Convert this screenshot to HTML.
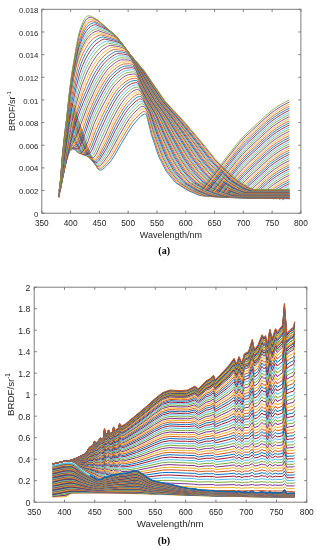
<!DOCTYPE html>
<html><head><meta charset="utf-8"><style>
html,body{margin:0;padding:0;background:#fff;}
body{width:320px;height:550px;overflow:hidden;}
svg{display:block;}
.t{font-family:"Liberation Sans",Arial,sans-serif;fill:#262626;}
.c{font-family:"Liberation Serif","Times New Roman",serif;font-weight:bold;fill:#000;}
</style></head><body>
<svg width="320" height="550" viewBox="0 0 320 550">
<rect width="320" height="550" fill="#fff"/>
<g fill="none" stroke-width="0.85" stroke-linejoin="round">
<path stroke="#0072BD" d="M59.1 197.1l3.4 -43l2.3 -22.4l1.2 -9l1.1 -7.5l1.2 -5.7l1.1 -3.9l1.2 -2l1.1 -.1l1.2 1.3l1.1 2.4l1.2 3.1l10.4 31.7l4.6 11.9l2.3 5l4.6 8.6l1.1 1.6l1.2 .9l1.1 .1l1.2 -.3l2.3 -1.5l2.3 -2.3l4.6 -5.1l3.4 -5.1l7 -12.1l6.9 -11.5l4.6 -7l4.6 -5.4l3.4 -3.4l2.3 -1.8l1.2 -.6l1.1 0l1.2 1.7l1.1 4l3.5 14.2l6.9 20.9l1.2 2.9l6.9 13.5l9.2 11.3l10.3 6.7l2.3 1.3l11.6 5l9.2 .9l16.1 1.1l64.5 1.1M282.3 199.8l7.1 -3.6"/>
<path stroke="#D95319" d="M59.1 197.1l3.4 -42.5l2.3 -22.1l2.3 -16.1l1.2 -5.5l1.1 -3.8l1.2 -1.9l1.1 .1l1.2 1.4l1.1 2.4l11.6 34.4l4.6 11.5l2.3 4.7l3.4 6l1.2 1.7l1.1 1.2l1.2 .3l1.1 -.2l1.2 -.6l1.1 -.9l2.3 -2.3l4.6 -5.5l3.5 -5.2l6.9 -12.4l8.1 -13.6l3.4 -5.2l3.5 -4.2l4.6 -4.7l2.3 -1.8l1.1 -.7l1.2 -.3l1.1 .5l1.2 1.3l1.1 3.7l4.6 17.7l7 20.3l1.1 2.8l6.9 13.3l9.2 11.3l1.2 1l10.3 6.6l12.7 5.5l1.2 .3l9.2 .9l14.9 .9l63.4 1.2M279.2 199.6l5.6 -3.2l4.6 -2.3"/>
<path stroke="#EDB120" d="M59.1 197.1l3.4 -42l2.3 -21.7l2.3 -15.7l1.2 -5.4l1.1 -3.6l1.2 -1.8l1.1 .1l1.2 1.6l1.1 2.5l10.4 30.6l3.5 8.9l2.3 5.4l2.3 4.3l3.4 5.4l1.2 1.3l1.1 .7l1.2 -.1l1.1 -.5l2.3 -2l6.9 -8.8l2.3 -3.7l7 -12.7l6.9 -11.9l3.4 -5.6l2.3 -3.1l4.6 -5.2l3.5 -3.2l2.3 -1.7l1.1 -.4l1.2 .1l1.1 .9l1.2 1.6l1.1 2.8l5.8 20.9l6.9 19.6l1.2 2.8l6.9 13.1l1.1 1.7l8.1 9.7l1.1 1l9.2 5.9l3.5 1.8l11.5 4.8l9.2 1l15 .9l62.2 1.2M276.3 199.4l7.3 -4.5l5.8 -2.9"/>
<path stroke="#7E2F8E" d="M59.1 197.1l3.4 -41.5l2.3 -21.4l2.3 -15.3l1.2 -5.2l1.1 -3.5l1.2 -1.6l1.1 .2l1.2 1.6l1.1 2.7l10.4 30.1l3.5 8.6l2.3 5.1l1.1 2.1l3.5 5.1l1.1 1.3l1.2 .9l1.1 .1l1.2 -.3l1.1 -.8l1.2 -1.1l2.3 -2.9l4.6 -6.4l3.4 -5.9l7 -13.1l6.9 -11.9l3.4 -5.4l3.5 -4.2l4.6 -4.8l3.4 -2.7l1.2 -.5l1.1 -.1l1.2 .5l1.1 1.3l2.3 4l7 23.5l6.9 19.1l1.1 2.8l6.9 12.8l1.2 1.7l8 9.7l1.2 1.1l1.1 .8l6.9 4.4l4.7 2.5l11.5 4.9l1.1 .2l9.2 .9l15 1l59.9 1.1M273.6 199.2l4.3 -2.9l4.6 -2.9l6.9 -3.5"/>
<path stroke="#77AC30" d="M59.1 197.1l3.4 -41.1l2.3 -20.9l2.3 -15l1.2 -5l1.1 -3.3l1.2 -1.5l1.1 .3l1.2 1.7l1.1 2.7l9.3 26.4l3.4 8.8l2.3 5.2l1.2 2.2l3.4 5l1.2 1.3l1.1 .9l1.2 .4l1.1 -.2l1.2 -.7l1.1 -1.1l2.3 -3l4.6 -6.7l3.5 -6.1l6.9 -13.4l6.9 -12.1l3.5 -5.4l3.4 -4.3l4.6 -4.8l3.5 -2.8l1.1 -.6l1.2 -.2l1.1 .3l1.2 .9l1.1 1.6l2.3 4.2l1.2 2.6l5.8 19.4l9.2 24.6l8 14.4l8.1 9.6l2.3 2l10.4 6.4l6.9 3l6.9 2.8l9.2 .9l15 1l58.7 1.1M271.1 198.9l3.3 -2.4l5.8 -3.8l4.6 -2.6l4.6 -2.3"/>
<path stroke="#4DBEEE" d="M59.1 197.1l3.4 -40.6l2.3 -20.5l1.2 -8.1l1.1 -6.5l1.2 -4.9l1.1 -3.2l1.2 -1.3l1.1 .4l1.2 1.8l1.1 2.8l2.3 6.9l7 19l3.4 8.4l2.3 5l1.2 1.9l3.4 4.2l1.2 1l1.1 .5l1.2 0l1.1 -.5l1.2 -1.1l1.1 -1.4l6.9 -10.7l2.3 -4.3l7 -13.8l6.9 -12.3l3.4 -5.5l3.5 -4.3l4.6 -4.8l3.4 -2.8l1.2 -.7l1.1 -.3l1.2 0l1.1 .8l1.2 1.3l2.3 3.9l2.3 4.4l1.1 3.2l5.8 18.5l9.2 23.8l8.1 14.3l8 9.5l2.3 2.1l10.4 6.5l13.8 5.8l9.2 1l15 .9l57.6 1.1M268.9 198.7l4.4 -3.5l5.7 -3.9l5.8 -3.3l4.6 -2.3"/>
<path stroke="#A2142F" d="M59.1 197.1l3.4 -40l2.3 -20.2l1.2 -7.9l1.1 -6.3l1.2 -4.8l1.1 -3l1.2 -1.2l1.1 .5l1.2 1.9l9.2 25.1l5.8 13.7l1.1 2.1l3.5 3.9l1.1 1l1.2 .7l1.1 .2l1.2 -.4l1.1 -.9l1.2 -1.4l6.9 -11.3l2.3 -4.4l6.9 -14.2l6.9 -12.5l3.5 -5.5l2.3 -3.1l2.3 -2.7l4.6 -4.5l3.4 -2.5l1.2 -.4l1.1 -.1l1.2 .5l1.1 1.1l1.2 1.7l2.3 4l3.4 6.7l7 21.2l9.2 23.1l8 14.2l8.1 9.4l2.3 2.3l8.1 5l3.4 2l6.9 2.9l6.9 2.6l9.2 .9l13.9 .9l56.4 1.1M266.7 198.5l5.4 -4.5l5.8 -4l5.7 -3.5l5.8 -2.9"/>
<path stroke="#0072BD" d="M59.1 197.1l3.4 -39.5l2.3 -19.8l1.2 -7.7l1.1 -6.2l1.2 -4.5l1.1 -2.9l1.2 -1.1l1.1 .6l1.2 2.1l3.4 9.6l5.8 14.9l3.5 8.3l2.3 4.8l1.1 1.7l3.5 3.1l1.1 .7l1.2 .3l1.1 -.1l1.2 -.8l2.3 -3l5.7 -10.2l2.3 -4.4l8.1 -16.9l5.8 -10.5l3.4 -5.6l3.5 -4.5l4.6 -4.8l2.3 -2l2.3 -1.6l2.3 -.6l1.1 .2l1.2 .9l1.1 1.5l6.9 12.4l1.2 2.9l6.9 20.2l9.2 22.6l8.1 13.9l8 9.5l2.3 2.3l8.1 5.1l3.5 1.9l13.8 5.6l9.2 1l15 1l44.9 .8l9.2 0M264.7 198.3l6.3 -5.5l4.6 -3.4l6.9 -4.3l6.9 -3.5"/>
<path stroke="#D95319" d="M59.1 197.1l3.4 -39l2.3 -19.4l1.2 -7.5l1.1 -6l1.2 -4.4l1.1 -2.7l1.2 -1l1.1 .8l1.2 2.1l3.4 9.5l4.7 11.6l5.7 13.3l1.2 1.9l2.3 2.1l2.3 1.4l1.1 .4l1.2 .1l1.1 -.6l1.2 -1.2l2.3 -3.7l6.9 -13.2l8 -17.4l5.8 -10.6l3.5 -5.7l3.4 -4.6l4.6 -4.9l2.3 -2l2.3 -1.5l2.3 -.7l1.2 0l1.1 .6l1.2 1.3l1.1 1.7l8.1 14.7l8.1 22.6l9.2 22l8 13.7l2.3 2.9l6.9 7.9l2.3 1.8l7 4.4l3.4 2l6.9 2.9l6.9 2.6l1.2 .3l8 .8l15 1.1l32.3 .6l20.7 0M262.7 198.1l7.1 -6.5l4.6 -3.5l8.1 -5.1l6.9 -3.5"/>
<path stroke="#EDB120" d="M59.1 197.1l3.4 -38.5l2.3 -19l1.2 -7.3l1.1 -5.8l1.2 -4.2l1.1 -2.6l1.2 -.9l1.1 .9l1.2 2.2l3.4 9.4l3.5 8.3l5.8 13.4l1.1 2.2l1.2 1.4l3.4 2l2.3 .5l1.2 -.3l1.1 -1.1l2.3 -3.7l6.9 -13.8l8.1 -17.9l5.8 -10.8l3.4 -5.8l3.5 -4.6l3.4 -3.8l2.3 -2.2l3.5 -2.5l1.1 -.5l2.3 -.3l1.2 .4l1.1 1l1.2 1.5l9.2 16.6l1.1 2.5l8.1 21.7l9.2 21.5l8.1 13.5l1.1 1.6l8.1 9.2l2.3 2l10.4 6.3l6.9 3l8 2.9l9.2 1l13.9 .9l20.7 .4l31.1 0M260.7 197.8l8 -7.3l4.6 -3.7l8 -5.2l4.6 -2.6l3.5 -1.6"/>
<path stroke="#7E2F8E" d="M59.1 197.1l3.4 -37.5l2.3 -18.4l1.2 -7l1.1 -5.5l1.2 -4l1.1 -2.4l1.2 -.7l1.1 1.1l1.2 2.3l2.3 6.2l4.6 10.8l4.6 10.4l1.2 2.2l1.1 1.5l2.3 .9l3.5 .6l1.1 -.2l1.2 -1.1l1.1 -1.7l1.2 -2.2l3.4 -7.6l3.5 -7l8 -17.9l5.8 -10.7l3.5 -5.8l3.4 -4.6l3.5 -3.7l2.3 -2.1l3.4 -2.5l2.3 -.9l1.2 -.1l1.1 .3l1.2 .7l1.1 1.3l2.3 3.8l9.2 16.7l8.1 21l10.4 23.6l9.2 15l8 9.2l2.4 2l8 5l3.5 1.9l8 3.3l5.8 2.1l1.1 .2l8.1 .9l13.8 .9l9.2 .2l41.5 0M258.6 197.6l8.9 -8.2l5.8 -4.7l8 -5.2l4.6 -2.6l3.5 -1.6"/>
<path stroke="#77AC30" d="M59.1 197.1l2.3 -25.5l1.1 -10.9l2.3 -17.7l1.2 -6.7l1.1 -5.2l1.2 -3.7l1.1 -2.1l1.2 -.5l1.1 1.1l1.2 2.4l2.3 5.9l9.2 20.1l1.2 1.4l1.1 .3l4.6 .2l1.2 -.3l1.1 -1.1l1.2 -1.8l1.1 -2.4l3.5 -8.2l11.5 -24.9l5.8 -10.7l3.4 -5.7l3.5 -4.5l3.4 -3.7l2.3 -2l2.3 -1.8l2.3 -1.2l2.3 -.7l1.2 0l2.3 1.8l1.1 1.6l12.7 22.8l8.1 20.4l10.3 23.1l9.2 14.8l8.1 9.1l2.3 2.1l8.1 5.1l3.4 1.8l6.9 2.9l8.1 2.9l8 .8l13.9 1l49.5 0M256.6 197.4l10.9 -10.1l5.8 -4.6l8 -5.3l4.6 -2.6l3.5 -1.6"/>
<path stroke="#4DBEEE" d="M59.1 197.1l2.3 -24.8l1.1 -10.4l2.3 -17l1.2 -6.4l1.1 -5l1.2 -3.4l1.1 -1.9l1.2 -.3l1.1 1.3l3.5 7.8l6.9 14.5l1.2 2.3l1.1 1.5l1.2 .2l2.3 -.2l2.3 -.5l1.1 -.5l1.2 -1.2l1.1 -2l4.6 -11.1l10.4 -22.6l5.7 -10.9l3.5 -5.9l3.5 -4.9l3.4 -3.8l3.5 -3.2l2.3 -1.7l2.3 -1.3l3.4 -.9l1.2 .2l1.1 1.1l2.3 3.4l6.9 12.7l5.8 9.8l9.2 22.3l10.4 22.5l9.2 14.7l8.1 9l2.3 2.2l8 5.1l3.5 1.9l6.9 2.9l8 2.9l9.3 1l9.2 .7l51.8 0M254.5 197.2l13 -12l4.6 -3.8l4.6 -3.2l4.6 -2.9l4.6 -2.6l3.5 -1.6"/>
<path stroke="#A2142F" d="M59.1 197.0l2.3 -23.8l2.3 -19l2.3 -13.5l1.1 -4.7l1.2 -3.2l1.1 -1.7l1.2 -.1l1.1 1.5l2.3 4.9l8.1 15.8l1.2 1.6l1.1 .3l1.2 -.1l2.3 -.9l2.3 -1.3l1.1 -1.6l1.2 -2.1l5.7 -14.2l9.2 -20l6.9 -12.8l3.5 -5.6l2.3 -3.1l2.3 -2.5l3.5 -3.4l2.3 -1.8l3.4 -2.1l3.5 -.9l1.1 -.1l1.2 .3l1.1 1.4l9.2 17l7 11.7l9.2 21.7l10.3 22l9.2 14.5l8.1 9.1l2.3 2.2l8.1 5.1l3.4 1.9l8.1 3.4l8 2.7l8.1 .9l6.9 .5l53 0M252.4 197.0l15.1 -13.8l4.6 -3.9l4.6 -3.2l4.6 -2.9l4.6 -2.6l3.5 -1.6"/>
<path stroke="#0072BD" d="M59.1 196.7l2.3 -22.7l2.3 -18.2l2.3 -12.9l1.1 -4.3l1.2 -3l1.1 -1.5l1.2 .1l1.1 1.5l9.3 17l1.1 1.6l1.2 .5l1.1 -.3l1.2 -.5l2.3 -1.7l1.1 -1.1l1.2 -1.7l1.1 -2.3l5.8 -14.8l8 -17.6l6.9 -13l4.7 -7.7l2.3 -3l2.3 -2.4l3.4 -3.3l2.3 -1.9l3.5 -2l3.4 -.9l2.3 -.2l1.2 .6l1.1 1.7l1.2 2.7l8 14.9l7 11.5l4.6 10l5.7 13.3l10.4 21.6l9.2 14.3l3.4 4l7 7.3l8 5.2l3.5 1.9l8 3.3l8.1 2.8l8.1 .9l4.6 .3l54.1 0M250.4 196.7l16 -14.6l5.7 -4.9l4.6 -3.2l4.6 -2.9l4.6 -2.6l3.5 -1.6"/>
<path stroke="#D95319" d="M59.1 196.5l2.3 -21.6l2.3 -17.4l1.1 -6.8l1.2 -5.4l1.1 -4.2l1.2 -2.7l1.1 -1.3l1.2 .2l1.1 1.5l8.1 13.4l1.2 1.6l1.1 .6l1.2 -.3l1.1 -.7l3.5 -3.7l1.1 -1.9l2.3 -5.5l4.6 -12.4l5.8 -12.8l3.4 -7l4.6 -8.6l3.5 -6.1l2.3 -3.6l2.3 -3l2.3 -2.4l3.5 -3.2l2.3 -1.8l3.4 -2l3.5 -.9l2.3 -.4l1.1 .2l1.2 .9l1.1 2l2.3 5.4l6.9 12.8l8.1 13.3l9.2 20.4l11.5 23.5l9.2 14.1l1.2 1.5l8.1 8.8l2.3 2l8 5l3.5 1.8l6.9 2.8l8 2.8l1.2 .2l8.1 .9l56.4 0M248.4 196.5l18 -16.5l5.7 -4.9l4.6 -3.2l4.6 -2.9l4.6 -2.5l3.5 -1.7"/>
<path stroke="#EDB120" d="M59.1 196.3l2.3 -20.4l2.3 -16.6l1.1 -6.5l1.2 -5.2l1.1 -3.8l1.2 -2.5l1.1 -1.1l1.2 .3l1.1 1.3l8.1 11.5l1.2 .7l1.1 -.3l1.2 -.9l3.4 -4.5l1.2 -2.1l2.3 -5.9l4.6 -12.9l6.9 -15.2l8 -15.2l4.6 -7.5l2.4 -2.9l3.4 -3.5l3.5 -3l2.3 -1.6l2.3 -1.2l1.1 -.4l3.5 -.7l2.3 -.2l1.1 .3l1.2 1.3l1.1 2.2l2.3 5.9l8.1 14.8l6.9 11.1l1.2 2.2l9.2 19.7l11.5 23l10.3 15.5l8.1 8.7l2.3 2.1l8.1 5l3.4 1.8l8.1 3.3l8 2.6l7 .8l56.4 0M246.5 196.3l19.9 -18.4l5.7 -4.9l4.6 -3.2l4.6 -2.9l4.6 -2.5l3.5 -1.7"/>
<path stroke="#7E2F8E" d="M59.1 196.1l2.3 -19.2l2.3 -15.8l1.1 -6.1l1.2 -4.9l1.1 -3.7l1.2 -2.3l1.1 -.9l1.2 .4l3.4 3.7l4.6 5.6l1.2 .8l1.2 -.3l1.1 -1.1l3.5 -5.4l1.1 -2.3l1.2 -2.9l5.7 -16.8l4.6 -10.4l5.8 -11.4l4.6 -8.4l3.4 -5.8l2.3 -3.2l2.4 -2.6l3.4 -3.3l3.5 -2.7l2.3 -1.4l2.3 -1l5.7 -.8l1.2 .1l1.1 .6l1.2 1.6l1.1 2.4l2.3 6l1.2 2.3l8 14.7l7 10.8l4.6 9.3l5.7 12.3l11.5 22.5l1.2 1.9l9.2 13.4l8.1 8.7l2.3 2.1l8 5.1l3.5 1.8l8 3.2l8.1 2.7l1.2 .2l4.6 .5l56.4 0M244.6 196.1l6.8 -6.6l15 -13.7l4.6 -3.9l3.4 -2.6l5.8 -3.8l4.6 -2.6l4.6 -2.3"/>
<path stroke="#77AC30" d="M59.1 195.8l2.3 -17.7l2.3 -15.1l1.1 -5.8l1.2 -4.6l1.1 -3.5l1.2 -2.1l1.1 -.7l1.2 .3l2.3 1.6l4.6 4.3l1.1 .7l1.2 -.1l1.2 -1.2l1.1 -1.9l3.5 -7l6.9 -20.5l3.4 -8.1l5.8 -11.6l5.7 -10.5l3.5 -5.7l3.4 -4.6l4.7 -4.3l3.4 -2.8l2.3 -1.3l2.3 -1l5.8 -.8l1.1 0l1.2 .4l1.1 .9l1.2 1.8l4.6 11.2l8 14.6l8.1 12.7l10.4 21l11.5 22l1.1 1.9l9.3 13.3l8 8.6l2.3 2.2l8.1 5.1l4.6 2.3l6.9 2.8l9.2 3l2.3 .2l57.6 0M242.8 195.8l7.4 -7.3l16.2 -14.8l4.6 -3.9l3.4 -2.6l5.8 -3.8l4.6 -2.6l4.6 -2.3"/>
<path stroke="#4DBEEE" d="M59.1 195.6l2.3 -16.5l2.3 -14.5l1.1 -5.7l1.2 -4.5l1.1 -3.2l1.2 -1.9l1.1 -.5l2.3 -.1l1.2 .2l4.6 2.5l1.1 .1l1.2 -1l1.2 -2l3.4 -7.5l2.3 -6.5l4.6 -14.1l3.5 -8.1l5.7 -11.7l5.8 -10.5l3.4 -5.7l2.3 -3.2l2.3 -2.5l4.7 -4.1l3.4 -2.5l3.5 -1.6l4.6 -.7l2.3 -.1l1.1 .2l1.2 .7l1.1 1.2l1.2 2l4.6 11.4l9.2 16.5l6.9 10.5l4.6 8.7l6.9 13.8l11.5 21.7l1.2 1.8l9.2 13.2l3.5 3.8l6.9 7l8 5.1l4.6 2.4l6.9 2.8l9.3 3l1.1 .1l57.6 0M241.1 195.6l4.5 -4.8l4.6 -4.4l16.2 -14.8l4.6 -3.9l3.4 -2.6l5.8 -3.8l4.6 -2.6l4.6 -2.3"/>
<path stroke="#A2142F" d="M59.1 195.4l3.4 -22.3l1.2 -6.3l2.3 -9.8l1.1 -3.3l1.2 -2.2l1.1 -1.3l1.2 -1l1.1 -.4l5.8 0l1.1 -.5l1.2 -1.7l4.6 -10.9l4.6 -13.7l2.3 -6.3l3.5 -7.9l4.6 -9.3l4.6 -8.4l3.4 -5.9l3.5 -5l2.3 -2.5l3.5 -3.2l3.4 -2.7l2.3 -1.4l2.3 -1l1.2 -.2l5.7 -.5l1.2 .2l1.1 .4l1.2 .9l1.1 1.5l1.2 2.1l4.6 11.3l1.1 2.4l8.1 14.4l8.1 12.2l4.6 8.5l5.7 11.3l13.8 25.3l9.3 12.9l2.3 2.7l8 8.2l9.2 5.8l3.5 1.8l8 3.1l8.1 2.6l57.6 .1M239.5 195.4l3.8 -4.3l4.6 -4.6l21.9 -20l4.6 -3.5l5.8 -3.8l4.6 -2.6l4.6 -2.3"/>
<path stroke="#0072BD" d="M59.1 195.2l4.6 -26.6l2.3 -9.6l1.1 -3.5l1.2 -2.5l1.1 -1.9l1.2 -1.5l2.3 -1.7l3.4 -1.4l1.2 -.6l1.1 -1.6l1.2 -2.4l3.5 -8.4l6.9 -19.6l4.6 -10.5l4.6 -9.2l5.7 -10.1l3.5 -5.4l2.3 -2.9l3.4 -3.4l4.7 -3.7l3.4 -1.9l2.3 -.7l5.8 -.3l2.3 .4l1.1 .7l1.2 1.2l1.1 1.7l1.2 2.2l5.7 13.7l8.1 14.3l8.1 12l1.1 2l4.6 8.3l5.8 11.1l13.8 24.7l10.4 14.2l9.2 9.5l2.3 1.6l6.9 4.3l2.3 1.2l9.2 3.7l8.1 2.6l56.4 0M237.9 195.2l4.3 -4.9l5.7 -5.9l21.9 -20l4.6 -3.5l5.8 -3.8l4.6 -2.6l4.6 -2.2"/>
<path stroke="#D95319" d="M59.1 195.0l4.6 -25l2.3 -9.5l1.1 -3.7l1.2 -2.9l2.3 -4.3l2.3 -2.8l3.4 -3.1l1.2 -1.6l1.1 -2.3l4.7 -11.6l4.6 -13l2.3 -5.9l4.6 -10.3l3.4 -6.9l5.8 -10.1l3.4 -5.3l2.3 -2.9l3.5 -3.4l4.6 -3.7l3.5 -2l2.3 -.7l5.7 -.2l2.3 .3l1.2 .6l1.1 1l2.3 3.4l1.2 2.1l5.7 13.6l1.2 2.1l8 14.1l8.1 11.8l4.6 8.1l6.9 12.9l13.8 24.2l10.4 14.1l9.2 9.4l2.3 1.8l9.2 5.4l9.2 3.8l8.1 2.5l55.3 0M236.3 195.0l4.7 -5.6l5.8 -6l23 -21.1l4.6 -3.5l5.8 -3.8l4.6 -2.6l4.6 -2.2"/>
<path stroke="#EDB120" d="M59.1 194.7l1.1 -4.9l2.3 -13l2.3 -10.7l2.3 -8.4l1.2 -3.3l1.1 -2.8l2.3 -4.6l4.6 -6.8l1.2 -2.4l4.6 -11.8l6.9 -18.6l3.5 -7.9l3.4 -7.3l3.5 -6.4l4.6 -7.7l3.4 -5l2.3 -2.6l4.6 -4.2l2.4 -1.7l2.3 -1.4l2.3 -1l1.1 -.2l4.6 -.2l2.3 .1l1.2 .2l1.1 .5l1.2 .9l1.1 1.3l1.2 1.7l3.4 6.5l5.8 13.1l8 14l9.3 13.6l24.1 42.4l2.3 3.5l9.3 12.3l8 8.3l2.3 2.1l8.1 5l3.4 1.8l9.3 3.7l5.7 1.7l1.2 .2l54.1 0M234.8 194.7l6.2 -7.4l4.6 -4.8l5.8 -5.5l17.3 -15.8l4.6 -3.7l5.7 -3.8l5.8 -3.4l4.6 -2.2"/>
<path stroke="#7E2F8E" d="M59.1 194.5l1.1 -4.4l2.3 -12.5l2.3 -10.6l2.3 -8.8l1.2 -3.6l3.4 -9.1l4.6 -9.5l11.6 -30.4l6.9 -15.4l3.4 -6.5l4.6 -7.6l3.5 -5l2.3 -2.7l4.6 -4.1l2.3 -1.8l2.3 -1.4l2.3 -1l1.2 -.2l3.4 0l3.5 .1l2.3 .6l1.1 .7l1.2 1.2l1.1 1.5l2.3 3.9l2.3 4.4l5.8 13l1.1 2l8.1 13.9l8.1 11.4l5.7 9.6l6.9 12.3l12.7 21.6l2.3 3.4l9.2 12.2l3.5 3.6l6.9 6.8l9.2 5.8l2.3 1.1l9.2 3.6l5.8 1.8l54.1 .1M233.3 194.5l6.6 -8l5.7 -6.1l5.8 -5.5l17.3 -15.8l4.6 -3.7l5.7 -3.8l5.8 -3.4l4.6 -2.2"/>
<path stroke="#77AC30" d="M59.1 194.3l1.1 -3.9l2.3 -12.2l3.5 -15.5l2.3 -8.3l2.3 -7.3l2.3 -6.7l2.3 -5.8l8.1 -22.1l3.4 -8.8l3.5 -8l3.4 -7.5l3.5 -6.7l4.6 -7.5l3.4 -5l3.5 -3.8l4.6 -3.9l3.5 -2.2l2.3 -1.1l1.1 -.2l5.8 .2l2.3 .2l1.1 .4l1.2 .7l1.1 1l1.2 1.4l2.3 3.7l3.4 6.2l5.8 12.8l1.1 2.1l8.1 13.8l9.2 13.1l4.6 7.5l6.9 11.9l13.8 23.2l2.4 3.4l9.2 12.1l2.3 2.5l8 7.9l9.2 5.8l2.3 1.2l9.3 3.6l5.7 1.8l53 0M231.9 194.3l6.8 -8.5l5.8 -6.3l5.7 -5.6l17.3 -15.9l4.6 -3.8l5.8 -4l5.7 -3.5l5.8 -2.8"/>
<path stroke="#4DBEEE" d="M59.1 194.1l1.1 -3.4l2.3 -12l3.5 -15.8l5.7 -21.9l6.9 -21.3l3.5 -9.3l4.6 -11.3l4.6 -10.5l3.5 -7.1l3.4 -6l4.6 -7l3.5 -4.2l4.6 -4.2l4.6 -3.1l2.3 -1.1l1.2 -.2l5.7 .3l2.3 .3l2.3 1l1.2 .9l1.1 1.3l2.3 3.5l4.6 8l6.9 14.7l8.1 13.7l1.2 1.9l8 11.1l4.6 7.3l21.9 36.3l2.3 3.4l9.2 11.8l2.3 2.6l8.1 7.9l2.3 1.6l6.9 4.2l2.3 1.2l9.2 3.7l5.8 1.7l51.8 0M230.4 194.1l8.3 -10.4l5.8 -6.3l5.7 -5.6l17.3 -15.9l4.6 -3.8l5.8 -4l5.7 -3.4l5.8 -2.9"/>
<path stroke="#A2142F" d="M59.1 193.8l1.1 -2.9l4.6 -23l8.1 -34.6l2.3 -8.2l2.3 -7.3l2.3 -6.6l3.5 -8.7l6.9 -15.8l3.4 -7.3l2.3 -4.2l4.6 -7.2l2.3 -3.1l2.3 -2.7l3.5 -3.2l3.4 -2.6l2.3 -1.5l2.4 -1.1l1.1 -.2l5.8 .5l3.4 .7l1.2 .5l1.1 .9l2.3 2.8l2.3 3.6l4.6 7.9l6.9 14.4l9.3 15.6l8 11l5.8 8.8l23 37.4l11.5 14.6l9.2 9.2l2.3 1.6l9.2 5.5l10.4 4l3.5 1.1l1.1 .1l50.7 0M229.0 193.8l8.6 -10.8l5.7 -6.5l5.8 -5.7l17.3 -15.9l5.7 -4.9l4.6 -3.2l6.9 -4.2l5.8 -2.9"/>
<path stroke="#0072BD" d="M59.1 193.6l1.1 -2.8l4.6 -23.5l3.5 -15.7l4.6 -22.5l2.3 -8.6l2.3 -7.5l4.6 -12.6l5.8 -13.4l4.6 -10l2.3 -4.3l4.6 -7.1l2.3 -3.1l2.3 -2.7l3.4 -3.1l3.5 -2.6l2.3 -1.4l2.3 -1.1l1.2 0l5.7 .5l3.5 .8l2.3 1.4l2.3 2.6l3.4 5.3l4.6 7.8l8.1 16.2l8.1 13.4l1.1 1.8l8.1 10.8l5.7 8.7l23.1 36.7l11.5 14.5l9.2 9.2l2.3 1.7l9.2 5.4l10.4 4.1l3.4 1.1l50.7 0M227.5 193.6l8.9 -11.3l6.9 -7.9l5.8 -5.7l17.3 -15.9l5.7 -4.9l4.6 -3.2l6.9 -4.2l5.8 -2.9"/>
<path stroke="#D95319" d="M59.1 193.4l1.1 -2.9l3.5 -18.8l9.2 -46.3l2.3 -8.8l2.3 -7.7l3.5 -10.3l2.3 -6.3l4.6 -11l3.4 -7.3l3.5 -6.2l3.4 -5.2l3.5 -4.4l3.4 -3.3l3.5 -2.7l2.3 -1.4l2.3 -1.1l1.1 -.2l7 .8l3.4 .8l2.3 1.3l2.3 2.5l3.5 5.1l6.9 11.5l6.9 13.9l9.2 15.3l9.2 12.2l5.8 8.5l23 36.2l11.5 14.3l9.2 9.2l2.3 1.7l9.2 5.5l3.5 1.5l6.9 2.6l3.5 1l49.5 0M226.1 193.4l10.3 -13.2l6.9 -7.9l5.8 -5.7l16.1 -14.9l5.8 -5l5.7 -4.1l6.9 -4.2l5.8 -2.9"/>
<path stroke="#EDB120" d="M59.1 193.2l1.1 -3.1l3.5 -19.8l3.4 -17.7l4.6 -25.8l1.2 -5.2l2.3 -9.1l2.3 -8.1l3.5 -11.1l2.3 -6.6l3.4 -8.4l3.5 -7.4l3.4 -6.1l3.5 -5.2l3.4 -4.3l2.3 -2.2l4.6 -3.5l2.3 -1.3l2.3 -.9l8.1 1l3.5 .9l2.3 1.4l2.3 2.3l3.4 5l8.1 13l6.9 13.5l9.2 15.3l1.2 1.7l8 10.5l5.8 8.3l24.2 37.2l11.5 14.2l2.3 2.5l8 7.6l9.2 5.7l2.4 1.2l10.3 4l2.3 .5l48.4 0M224.7 193.2l9.4 -12.2l5.8 -7l4.6 -5l6.9 -6.7l15 -13.7l5.7 -4.9l4.6 -3.2l4.6 -2.9l4.6 -2.5l3.5 -1.7"/>
<path stroke="#7E2F8E" d="M59.1 193.0l1.1 -3.3l3.5 -20.9l3.4 -18.9l4.6 -27.2l2.3 -10.1l2.3 -8.9l3.5 -12.3l2.3 -7.2l3.5 -8.9l3.4 -7.4l3.5 -6.1l3.4 -5.1l3.5 -4.3l3.4 -3l4.6 -3l2.3 -1l1.2 -.1l8.1 1.4l3.4 .9l2.3 1.3l2.3 2.3l1.2 1.4l3.4 5.2l8.1 12.7l8 15.3l9.3 15l9.2 11.9l5.7 8.2l24.2 36.6l11.5 14l2.3 2.5l8.1 7.6l2.3 1.6l8.1 4.8l4.6 2l8 2.9l48.4 .1M223.2 193.0l9.8 -12.7l5.7 -7.1l5.8 -6.3l5.7 -5.6l16.2 -14.8l5.7 -4.9l4.6 -3.2l4.6 -2.9l4.6 -2.5l3.5 -1.7"/>
<path stroke="#77AC30" d="M59.1 192.7l1.1 -3.4l3.5 -22.2l3.4 -20.4l2.3 -15.2l2.3 -13.1l2.3 -10.5l2.3 -9.4l2.3 -8.8l2.4 -7.9l2.3 -6.6l3.4 -8l3.5 -6.6l3.4 -5.3l3.5 -4.5l3.4 -3.3l4.6 -3l2.3 -1.1l1.2 -.2l9.2 1.7l3.5 1l2.3 1.3l1.1 1l2.3 2.6l3.5 5l10.3 16.1l6.9 13.1l9.3 15l1.1 1.7l8.1 10.2l6.9 9.5l24.2 36l1.1 1.6l11.5 13.6l9.2 8.8l2.3 1.6l8.1 4.9l4.6 2l8.1 2.8l47.2 0M221.7 192.7l11.3 -14.5l5.7 -7.1l4.6 -5.1l5.8 -5.7l17.3 -15.9l5.7 -4.8l4.6 -3.3l4.6 -2.9l4.6 -2.5l3.5 -1.7"/>
<path stroke="#4DBEEE" d="M59.1 192.5l1.1 -3.7l9.2 -61.8l2.3 -13.3l4.6 -20.9l2.3 -9.2l2.4 -7.9l2.3 -6.2l3.4 -7.7l2.3 -4.2l3.5 -5.3l3.4 -4.4l2.3 -2.2l4.6 -3.2l3.5 -1.4l9.2 1.8l4.6 1.4l2.3 1.3l1.2 .9l2.3 2.6l3.4 4.8l11.5 17.5l8.1 14.8l9.2 14.8l9.2 11.5l6.9 9.4l25.4 37l11.5 13.5l9.2 8.8l2.3 1.6l8.1 4.9l4.6 2l6.9 2.6l1.1 .2l46.1 0M220.2 192.5l13.9 -17.8l4.6 -5.6l4.6 -5.2l5.8 -5.7l17.3 -15.9l5.7 -4.8l4.6 -3.3l4.6 -2.9l4.6 -2.5l3.5 -1.7"/>
<path stroke="#A2142F" d="M59.1 192.3l1.1 -4l8.1 -58.2l3.4 -21.6l4.6 -21.9l3.5 -13.3l2.3 -6.6l3.5 -7.9l2.3 -4.3l3.4 -5.2l3.5 -4.3l2.3 -2.1l4.6 -2.9l2.3 -.9l1.1 0l9.2 2.1l4.7 1.4l2.3 1.4l1.1 .9l2.3 2.6l4.6 6.3l11.5 17.2l8.1 14.4l10.4 16.4l8 9.9l6.9 9.2l13.8 19.6l12.7 18.4l12.7 14.5l8 7.6l3.5 2.4l8.1 4.7l10.3 4l1.2 .2l44.9 0M218.7 192.3l18.9 -24l4.6 -5.3l5.7 -5.8l18.5 -17l5.7 -4.8l4.6 -3.3l4.6 -2.9l4.6 -2.5l3.5 -1.7"/>
<path stroke="#0072BD" d="M59.1 192.1l1.1 -4.4l6.9 -54l3.5 -24l1.1 -7.1l2.3 -11.8l2.3 -10.7l2.3 -9.2l2.4 -7l2.3 -5.6l2.3 -4.8l3.4 -5.7l3.5 -4.4l2.3 -2.4l2.3 -1.6l2.3 -1.4l2.3 -.9l1.1 -.2l10.4 2.7l4.6 1.5l2.3 1.3l1.2 .9l2.3 2.5l4.6 6.3l12.6 18.4l8.1 14.2l10.4 16.4l9.2 11.3l6.9 9l12.6 17.6l13.9 19.8l12.6 14.5l8.1 7.5l3.4 2.4l8.1 4.8l3.5 1.5l6.9 2.5l44.9 .1M217.2 192.1l20.4 -25.9l4.6 -5.3l5.7 -5.8l18.5 -17l5.7 -4.8l4.6 -3.3l4.6 -2.9l4.6 -2.5l3.5 -1.7"/>
<path stroke="#D95319" d="M59.1 191.9l1.1 -4.8l6.9 -58.3l3.5 -25.6l3.4 -19.1l3.5 -15.4l2.3 -7.6l2.3 -5.8l2.3 -4.8l3.5 -5.8l3.4 -4.3l2.3 -2.2l3.5 -2.1l2.3 -1l1.1 -.3l1.2 .2l8 2.2l7 2.4l1.1 .5l2.3 1.7l2.3 2.4l5.8 7.8l13.8 19.8l8 14l10.4 16.1l9.2 11.1l6.9 8.9l12.7 17.3l13.8 19.5l12.7 14.4l9.2 8.4l10.4 6.4l2.3 1l8 3l43.8 0M215.7 191.9l21.9 -27.8l4.6 -5.2l5.7 -5.9l18.5 -17l5.7 -4.8l4.6 -3.2l4.6 -3l4.6 -2.5l3.5 -1.6"/>
<path stroke="#EDB120" d="M59.1 191.6l1.1 -5l5.8 -52.9l4.6 -36.4l3.4 -19.4l2.3 -10.5l2.3 -8.3l2.4 -6.1l2.3 -5.1l3.4 -5.9l3.5 -4.3l2.3 -2.1l3.4 -1.9l2.3 -.9l1.2 -.1l10.3 3.2l5.8 2.2l2.3 1.3l1.2 .9l2.3 2.4l5.7 7.7l15 21l8 13.7l10.4 16.1l9.2 11l6.9 8.6l13.9 18.6l13.8 19.3l12.6 14.2l9.2 8.4l2.4 1.6l8 4.8l4.6 2l5.8 1.9l42.6 0M214.2 191.6l23.4 -29.5l4.6 -5.3l5.7 -5.9l18.5 -16.9l5.7 -4.9l4.6 -3.2l4.6 -2.9l4.6 -2.6l3.5 -1.6"/>
<path stroke="#7E2F8E" d="M59.1 191.4l1.1 -4.9l5.8 -54l4.6 -36.9l3.4 -19.8l2.3 -10.9l2.3 -8.6l1.2 -3.3l2.3 -5.6l3.5 -6.6l2.3 -3.2l3.4 -3.7l1.2 -.9l2.3 -1.2l2.3 -.9l1.1 -.2l9.2 3l5.8 2.3l3.5 1.8l1.1 1l2.3 2.4l2.3 2.9l19.6 26.9l9.2 15.2l9.2 14.3l17.3 20.8l13.8 18.3l13.8 19l12.7 14.1l9.2 8.4l3.5 2.3l8 4.7l8.1 3.1l1.1 .2l41.5 0M212.7 191.4l9.9 -12.3l13.8 -17.7l5.8 -6.7l4.6 -4.8l19.6 -18l5.7 -4.9l4.6 -3.2l4.6 -2.9l4.6 -2.6l3.5 -1.6"/>
<path stroke="#77AC30" d="M59.1 191.2l1.1 -4.8l5.8 -55l4.6 -37.5l3.4 -20.3l2.3 -11.2l2.3 -8.9l1.2 -3.4l2.3 -5.6l3.5 -6.6l2.3 -3.2l2.3 -2.5l1.1 -1l3.5 -1.9l2.3 -.6l1.1 .2l5.8 2l6.9 2.9l3.4 1.9l2.4 1.6l2.3 2.4l3.4 4.4l20.7 28.1l8.1 13.3l10.4 15.8l9.2 10.7l8 9.8l13.9 18l13.8 18.7l13.8 15.2l8.1 7.3l2.3 1.6l9.2 5.4l8 3.1l41.5 .1M211.2 191.2l11.4 -14.2l13.8 -17.7l5.8 -6.7l4.6 -4.8l19.6 -18l5.7 -4.9l4.6 -3.2l4.6 -2.9l4.6 -2.6l3.5 -1.6"/>
<path stroke="#4DBEEE" d="M59.1 191.0l1.1 -4.7l6.9 -66.4l3.5 -27.6l2.3 -14.3l3.4 -18l2.3 -9.2l1.2 -3.5l2.3 -5.7l2.3 -4.7l2.3 -3.6l3.5 -3.8l2.3 -1.5l2.3 -1l1.1 -.3l1.2 .1l4.6 1.7l3.4 1.5l4.6 2.2l3.5 2.1l2.3 1.7l2.3 2.2l25.3 33.6l8.1 13l10.4 15.8l18.4 21.7l13.8 17.7l13.8 18.5l13.8 15l8.1 7.2l2.3 1.7l9.2 5.5l2.3 1l5.8 2.1l40.3 0M209.6 191.0l13 -16.1l13.8 -17.7l5.8 -6.7l4.6 -4.7l19.6 -18.1l5.7 -4.9l4.6 -3.2l4.6 -2.9l4.6 -2.6l3.5 -1.6"/>
<path stroke="#A2142F" d="M59.1 190.7l1.1 -4.5l6.9 -67.7l2.3 -19l2.3 -16.7l2.3 -13.3l2.3 -11.9l2.3 -9.6l1.2 -3.6l2.3 -5.8l2.3 -4.6l2.3 -3.6l2.3 -2.6l1.2 -1l1.1 -.7l2.3 -1l1.2 -.3l1.1 -.1l6.9 2.9l4.6 2.4l4.6 3l3.5 2.7l1.2 1.1l26.4 34.5l9.2 14.6l10.4 15.5l17.3 19.9l15 18.9l13.8 18.2l13.8 14.9l8.1 7.2l2.3 1.7l9.2 5.6l2.3 1l5.7 1.9l39.2 0M208.1 190.7l14.5 -17.9l13.8 -17.7l5.8 -6.7l4.6 -4.7l19.6 -18.1l5.7 -4.9l4.6 -3.2l4.6 -2.9l4.6 -2.6l3.5 -1.6"/>
<path stroke="#0072BD" d="M59.1 190.5l1.1 -4.4l6.9 -68.8l2.3 -19.5l2.3 -16.8l4.6 -25.8l2.3 -9.9l1.2 -3.7l2.3 -5.9l2.3 -4.7l2.3 -3.5l2.3 -2.4l1.2 -.9l1.1 -.6l2.3 -.8l1.2 -.1l5.7 2.5l5.8 3.3l5.7 4.1l3.5 3l1.2 1.3l9.2 12.1l17.2 21.9l19.6 29.9l18.4 20.9l15 18.6l13.8 18l13.8 14.8l8.1 7.2l2.3 1.8l9.2 5.5l3.5 1.5l3.4 1.2l1.2 .2l38 0M206.6 190.5l16 -19.8l13.8 -17.7l4.6 -5.4l4.6 -4.9l19.6 -18.2l5.8 -5l3.4 -2.5l5.8 -3.8l4.6 -2.7l4.6 -2.2"/>
<path stroke="#D95319" d="M59.1 190.3l1.1 -4.3l6.9 -69.9l2.3 -20.1l2.3 -16.8l4.6 -26.3l2.3 -10.3l1.2 -3.9l2.3 -5.9l2.3 -4.7l2.3 -3.4l2.3 -2.3l1.2 -.7l1.1 -.4l2.3 -.5l5.8 2.6l3.4 2l6.9 5.2l5.8 5l9.2 12l19.6 24.5l9.2 14.1l10.4 15.3l18.4 20.7l13.8 16.9l15 19.2l13.8 14.6l8.1 7.2l2.3 1.8l9.2 5.5l2.3 1.1l4.6 1.7l38 .1M205.1 190.3l17.5 -21.7l13.8 -17.7l4.6 -5.4l4.6 -4.9l19.6 -18.2l5.8 -5l3.4 -2.5l5.8 -3.8l4.6 -2.7l4.6 -2.2"/>
<path stroke="#EDB120" d="M59.1 190.1l1.1 -4.2l6.9 -70.9l2.3 -20.7l2.3 -16.9l4.6 -26.8l2.3 -10.6l1.2 -4.1l1.2 -3.2l2.3 -5.4l2.3 -4l2.3 -2.6l1.1 -.8l1.2 -.5l2.3 -.3l1.1 .3l4.6 2.3l3.5 2.2l6.9 5.6l6.9 6.2l9.2 12l19.6 24l19.6 29.2l18.4 20.4l15 17.9l14.9 19l13.8 14.5l9.3 8.2l2.3 1.6l9.2 5.4l5.7 2.2l36.9 0M203.6 190.1l19 -23.6l13.8 -17.7l4.6 -5.4l4.6 -4.9l19.6 -18.2l5.8 -5l3.4 -2.5l5.8 -3.8l4.6 -2.7l4.6 -2.2"/>
<path stroke="#7E2F8E" d="M59.1 189.9l1.1 -4.1l4.6 -46.4l2.3 -25.4l2.3 -21.3l2.3 -17.1l4.6 -27.2l2.3 -11.1l1.2 -4.2l1.2 -3.3l2.3 -5.4l2.3 -4.1l1.1 -1.3l1.2 -.9l1.1 -.5l1.2 -.2l1.1 0l1.2 .3l4.6 2.5l2.3 1.5l9.2 7.9l6.9 6.3l9.2 11.8l19.6 23.6l20.7 30.3l18.4 20.1l15 17.7l16.1 20l13.9 14.3l8 7l2.3 1.6l9.2 5.5l2.3 1l3.5 1.1l35.7 0M202.1 189.9l19.3 -24l15 -19.2l4.6 -5.4l4.6 -4.9l19.6 -18.1l5.8 -5.1l3.4 -2.5l5.8 -3.8l4.6 -2.6l4.6 -2.3"/>
<path stroke="#77AC30" d="M59.1 189.6l1.1 -3.9l4.6 -46.8l2.3 -25.8l2.3 -22l2.3 -17.3l3.5 -21l2.3 -12.7l1.1 -5.3l1.2 -4.5l1.2 -3.3l2.3 -5.6l1.1 -2.3l1.2 -1.6l1.1 -1l1.2 -.6l1.1 -.1l2.3 .5l6.9 4.1l15 13.5l2.3 2.3l9.2 11.6l19.6 23.1l20.7 30.1l19.6 21.1l15 17.5l14.9 18.5l16.2 16.4l6.9 6l2.3 1.7l9.2 5.4l4.6 1.9l1.1 .1l34.6 0M200.6 189.6l20.8 -25.8l15 -19.2l4.6 -5.4l4.6 -4.9l19.6 -18.1l5.8 -5l3.4 -2.6l5.8 -3.8l4.6 -2.6l4.6 -2.3"/>
</g>
<g fill="none" stroke-width="1.0" stroke-linejoin="round">
<path stroke="#0072BD" d="M52.4 464.0l11.5 -2.7l5.4 -.3l2.5 .5l1.8 .7l1.2 .8l2.4 1.9l3 2.8l4.3 2.9l12.7 7.6l4.2 2.2l8.5 3.2l3.7 1.1l8.4 3.1l4.9 1.1l6.6 1.2l8.5 .5l20.6 .5l35.8 1.7l15.1 .3l1.8 .2l18.8 .1l7.9 .4l10.3 -.2l2.4 .2l7.3 -.1l5.4 .3l2.4 -.2l2.5 .2l10.3 0l1.8 -.4l2.4 .6l7.9 -.1"/>
<path stroke="#D95319" d="M52.4 464.0l11.5 -2.7l5.4 -.3l2.5 .4l1.8 .7l1.2 .8l2.4 1.8l3 2.7l4.9 3.1l9.1 4.9l3 1.8l4.8 2.3l1.3 .4l1.2 0l1.8 1l2.4 .7l1.2 .6l2.4 .8l1.3 .1l1.2 .6l3.6 1.3l1.2 .1l2.4 1l3.1 .7l7.2 1.1l3.7 .3l5.4 .2l21.2 0l7.3 .2l24.8 1.2l3.7 .3l15.1 .1l1.8 .3l18.8 0l2.4 .3l2.5 -.2l3 .4l2.4 -.3l4.2 .1l3.7 -.3l2.4 .4l7.3 -.3l3.6 .2l1.8 .4l2.4 -.5l2.5 .4l3 -.2l1.8 .1l5.5 0l1.8 -.7l2.4 1.1l6.7 0l1.2 -.1"/>
<path stroke="#EDB120" d="M52.4 464.0l11.5 -2.7l5.4 -.3l2.5 .4l1.8 .6l1.2 .7l2.4 1.8l3 2.6l4.9 3l4.2 1.9l3.7 2l1.2 .4l3 1.8l4.8 2.1l1.3 .5l1.2 -.3l1.2 .9l3 .7l1.2 .7l2.4 .7l1.3 0l1.2 .8l3.6 1l1.2 .1l2.4 1l3.1 .6l6 .8l4.3 .4l4.2 0l23 -.5l7.3 .1l24.8 1.2l3.7 .4l15.1 0l1.8 .4l18.8 -.3l2.4 .5l2.5 -.3l3 .6l2.4 -.4l4.2 0l3.7 -.5l2.4 .7l3.6 -.1l3.7 -.4l1.8 .2l1.8 0l1.8 .6l2.4 -.8l2.5 .7l3 -.4l1.8 .2l5.5 -.1l1.8 -1l2.4 1.7l6.7 -.1l1.2 -.2"/>
<path stroke="#7E2F8E" d="M52.4 464.0l11.5 -2.7l5.4 -.3l2.5 .4l1.8 .6l1.2 .6l2.4 1.7l3 2.4l5.5 3.2l3.6 1.4l3.7 1.9l1.2 .2l1.8 1.3l2.4 1.1l1.8 .5l1.8 .9l1.3 .4l.6 -.1l.6 -.5l1.2 1.1l1.2 .3l1.8 .3l1.2 .7l2.4 .7l1.3 -.2l1.2 .9l3.6 1l1.2 -.1l2.4 1l3.1 .6l4.8 .5l4.3 .3l4.2 0l24.2 -1.1l7.3 .1l24.8 1.1l3.7 .6l15.1 -.2l1.8 .6l18.8 -.6l2.4 .7l2.5 -.5l3 .8l2.4 -.6l4.2 .1l3.7 -.8l2.4 .9l3.6 -.1l3.7 -.5l1.8 .3l1.8 -.1l1.8 .8l2.4 -1l2.5 .8l3 -.5l1.8 .4l5.5 -.2l1.8 -1.4l2.4 2.2l6.7 0l1.2 -.3"/>
<path stroke="#77AC30" d="M52.4 464.0l11.5 -2.7l5.4 -.3l2.5 .3l1.8 .6l1.2 .6l2.4 1.6l3 2.3l4.9 2.7l4.2 1.5l3.7 1.7l1.2 .2l1.8 1.3l2.4 .9l1.8 .5l3.1 1.2l.6 -.2l.6 -.6l1.2 1.2l1.2 .3l1.8 .1l1.2 .9l2.4 .6l1.3 -.3l1.2 .9l3 .7l.6 .2l1.2 -.2l1.8 .9l3.7 .7l3 .2l4.8 .3l4.3 0l25.4 -1.7l7.3 0l24.8 1.1l3.7 .6l7.8 -.3l7.3 0l1.8 .7l18.8 -.8l2.4 .8l2.5 -.5l3 .9l2.4 -.7l4.2 .1l3.7 -1l1.8 1l.6 .1l3.6 -.2l3.7 -.6l1.8 .4l1.8 -.1l1.8 1l2.4 -1.3l2.5 1l3 -.6l1.8 .4l5.5 -.2l1.8 -1.7l2.4 2.7l6.7 -.1l1.2 -.3"/>
<path stroke="#4DBEEE" d="M52.4 463.9l11.5 -2.6l5.4 -.3l2.5 .3l1.8 .5l1.2 .6l2.4 1.5l3 2.2l4.9 2.6l4.2 1.2l3.7 1.6l1.2 .1l1.8 1.3l1.8 .6l2.4 .6l1.2 .6l1.9 .6l.6 -.3l.6 -.8l1.2 1.3l1.2 .3l1.8 0l1.2 .9l2.4 .6l1.3 -.5l1.2 1.1l3.6 .7l1.2 -.3l1.8 1l4.3 .6l6 .3l4.9 -.1l8.5 -.6l17.5 -1.7l7.3 -.1l24.8 1l3.7 .8l7.8 -.4l3.7 .1l3.6 -.2l1.8 .9l18.8 -1l2.4 .9l2.5 -.7l3 1.1l2.4 -.9l4.2 .2l3.7 -1.2l1.8 1.2l.6 .2l3.6 -.3l3.7 -.8l1.8 .5l1.8 -.1l1.8 1.2l2.4 -1.6l2.5 1.3l3 -.8l1.8 .5l5.5 -.3l1.8 -2l2.4 3.2l6.7 -.1l1.2 -.4"/>
<path stroke="#A2142F" d="M52.4 463.9l10.9 -2.5l6 -.4l1.9 .1l3 .9l3 1.7l3 2.1l5.5 2.7l3.6 .7l3.7 1.5l1.2 0l1.8 1.3l1.2 .4l1.2 .3l1.8 .2l1.2 .7l1.9 .5l.6 -.3l.6 -1l1.2 1.4l1.2 .3l1.8 -.1l1.2 1l2.4 .6l1.3 -.7l1.2 1.1l3.6 .7l1.2 -.5l1.8 1.1l3.7 .5l6 .1l4.9 -.1l9.1 -.9l17.5 -2.1l7.3 -.2l17.6 .9l7.2 .2l3.7 .8l7.8 -.5l3.7 .1l3.6 -.2l1.8 1l13.4 -.8l5.4 -.5l2.4 1.1l2.5 -.8l3 1.3l2.4 -1l4.2 .1l3.7 -1.4l1.8 1.4l.6 .2l3.6 -.3l3.7 -1l1.8 .6l1.8 -.1l1.8 1.4l2.4 -1.8l2.5 1.4l3 -.9l.6 0l1.2 .5l5.5 -.3l1.8 -2.3l2.4 3.7l6.7 -.1l1.2 -.5"/>
<path stroke="#0072BD" d="M52.4 463.9l10.9 -2.5l6 -.4l1.9 .1l3 .8l3 1.6l3 2l5.5 2.5l3.6 .6l3.7 1.3l1.2 -.2l.6 .3l1.2 1.1l.6 .2l1.8 .4l1.8 .2l1.2 .6l1.9 .5l.6 -.5l.6 -1l1.2 1.5l1.2 .3l1.8 -.3l1.2 1.1l2.4 .5l1.3 -.8l1.2 1.2l3.6 .6l1.2 -.7l1.8 1.2l3.7 .4l6 0l4.9 -.3l9.1 -1.1l17.5 -2.5l7.3 -.2l17.6 .8l7.2 .2l3.7 1l7.8 -.7l3.7 .1l3.6 -.2l1.8 1.1l13.4 -.9l5.4 -.6l2.4 1.3l2.5 -1l3 1.5l2.4 -1.2l4.2 .1l3.7 -1.5l1.8 1.5l.6 .3l3.6 -.4l3.7 -1.1l1.8 .6l1.8 -.1l1.8 1.6l2.4 -2.1l2.5 1.6l3 -1l.6 .1l1.2 .5l5.5 -.3l1.8 -2.7l2.4 4.3l6.7 -.2l1.2 -.6"/>
<path stroke="#D95319" d="M52.4 463.9l10.9 -2.5l6 -.4l1.9 .1l3 .7l3 1.5l3 1.9l5.5 2.4l3.6 .3l3.7 1.2l1.2 -.3l.6 .3l1.2 1.1l2.4 .6l1.8 0l1.2 .6l1.9 .5l.6 -.6l.6 -1.2l1.2 1.6l1.2 .3l1.2 -.4l.6 0l1.2 1.2l2.4 .5l1.3 -1l1.2 1.3l3.6 .5l1.2 -.8l1.8 1.2l3.7 .3l6 -.1l4.9 -.4l9.1 -1.3l17.5 -2.9l7.3 -.3l15.7 .6l1.9 .2l7.2 .2l3.7 1l7.8 -.7l3.7 .1l3.6 -.3l1.8 1.2l13.4 -1l5.4 -.7l2.4 1.4l2.5 -1l3 1.6l2.4 -1.4l4.2 .2l3.7 -1.8l1.8 1.8l.6 .2l3.6 -.4l3.7 -1.2l1.8 .7l1.8 -.1l1.8 1.7l2.4 -2.3l2.5 1.8l3 -1.2l.6 .1l1.2 .6l5.5 -.4l1.8 -3l2.4 4.8l6.7 -.2l1.2 -.6"/>
<path stroke="#EDB120" d="M52.4 463.9l.6 0l10.3 -2.5l6 -.4l1.9 0l3 .7l3 1.4l3 1.8l5.5 2.2l3.6 .1l3.7 1.2l1.2 -.4l.6 .2l1.2 1.1l2.4 .5l1.8 -.1l1.2 .7l1.9 .4l.6 -.7l.6 -1.4l1.2 1.8l1.2 .2l1.2 -.4l.6 0l.6 .8l.6 .4l2.4 .4l1.3 -1.1l1.2 1.4l3.6 .4l1.2 -.9l1.8 1.2l3.7 .3l6 -.3l4.9 -.5l9.1 -1.5l17.5 -3.3l7.3 -.4l10.3 .5l5.4 .1l1.9 .2l7.2 .2l3.7 1.1l7.8 -.8l3.7 .1l3.6 -.3l1.8 1.3l13.4 -1.2l5.4 -.8l2.4 1.6l2.5 -1.2l3 1.8l2.4 -1.5l4.2 .1l3.7 -1.9l1.8 1.9l.6 .3l3.6 -.5l3.7 -1.3l1.8 .7l1.8 -.1l1.8 1.9l2.4 -2.5l2.5 2l3 -1.3l.6 0l1.2 .7l5.5 -.4l1.8 -3.4l2.4 5.3l3 -.2l3.7 0l1.2 -.7"/>
<path stroke="#7E2F8E" d="M52.4 463.9l.6 0l10.3 -2.5l6.6 -.5l1.3 .1l3 .6l3 1.4l3 1.6l5.5 2l3.6 0l3.7 1l1.2 -.5l.6 .2l1.2 1.2l2.4 .3l1.8 -.2l1.2 .7l1.9 .4l.6 -.7l.6 -1.6l1.2 1.9l1.2 .2l1.2 -.5l.6 0l.6 .8l.6 .5l2.4 .3l1.3 -1.2l1.2 1.4l3.6 .3l1.2 -1l1.8 1.3l3.7 .2l6.6 -.6l4.9 -.6l26 -5.3l7.3 -.5l10.3 .6l5.4 0l1.9 .3l7.2 .1l3.7 1.2l7.8 -.9l3.7 .1l3.6 -.4l1.8 1.5l13.4 -1.4l5.4 -.8l2.4 1.7l2.5 -1.3l3 1.9l2.4 -1.6l4.2 .1l3.7 -2.1l1.8 2.1l.6 .3l3.6 -.6l3.7 -1.4l1.8 .8l1.8 -.1l1.8 2.1l2.4 -2.8l2.5 2.1l3 -1.4l.6 .1l1.2 .7l5.5 -.4l1.8 -3.8l2.4 5.9l3 -.3l3.7 0l1.2 -.8"/>
<path stroke="#77AC30" d="M52.4 463.8l.6 .1l10.3 -2.5l7.9 -.4l3 .5l3 1.3l3 1.5l5.5 1.9l3.6 -.3l3.7 .9l1.2 -.6l.6 .2l.6 .8l.6 .4l2.4 .3l1.8 -.3l1.2 .7l1.9 .3l.6 -.8l.6 -1.7l1.2 2l1.2 .2l.6 -.2l.6 -.4l.6 -.1l.6 .9l.6 .5l2.4 .3l1.3 -1.4l1.2 1.6l3.6 .1l1.2 -1.1l1.8 1.3l3.7 .2l6.6 -.7l4.9 -.8l26 -5.9l7.3 -.5l10.3 .5l5.4 .1l1.9 .3l7.2 0l3.7 1.4l7.8 -1.1l3.7 .1l3.6 -.4l1.8 1.6l13.4 -1.5l5.4 -1l2.4 1.9l2.5 -1.5l3 2.1l2.4 -1.7l4.2 .1l3.7 -2.3l1.8 2.3l.6 .3l3.6 -.6l3.7 -1.6l1.8 .9l1.8 -.2l1.8 2.3l2.4 -3l2.5 2.3l3 -1.5l.6 0l1.2 .9l5.5 -.6l1.8 -4l2.4 6.3l3 -.2l3.7 0l1.2 -.9"/>
<path stroke="#4DBEEE" d="M52.4 463.8l.6 .1l10.3 -2.5l7.9 -.5l3 .5l3 1.2l3 1.5l5.5 1.6l3.6 -.4l3.7 .8l1.2 -.8l.6 .2l.6 .8l.6 .5l2.4 .2l1.8 -.4l1.2 .6l1.9 .4l.6 -.9l.6 -1.9l1.2 2.1l1.2 .2l.6 -.2l.6 -.5l.6 -.1l.6 1l.6 .5l2.4 .2l1.3 -1.5l1.2 1.6l3.6 .1l1.2 -1.3l.6 .3l.6 .8l.6 .3l3.7 .1l6.6 -.9l4.9 -.9l26 -6.4l7.3 -.6l10.3 .5l5.4 .1l1.9 .3l7.2 0l3.7 1.4l7.8 -1.1l3.7 .1l3.6 -.5l1.8 1.7l13.4 -1.7l5.4 -1l2.4 2l2.5 -1.6l3 2.3l2.4 -1.9l4.2 .1l3.7 -2.5l1.8 2.5l.6 .3l3.6 -.7l3.7 -1.7l1.8 .9l1.8 -.1l1.8 2.4l2.4 -3.2l2.5 2.5l3 -1.7l.6 .1l1.2 .9l5.5 -.6l1.8 -4.4l2.4 6.9l3 -.3l3.7 -.1l1.2 -.9"/>
<path stroke="#A2142F" d="M52.4 463.8l.6 .1l10.3 -2.5l7.9 -.5l3 .5l3 1l3 1.4l5.5 1.5l3.6 -.7l3.7 .8l1.2 -.9l.6 .2l.6 .8l.6 .4l2.4 .1l1.8 -.5l1.2 .7l1.9 .3l.6 -1l.6 -2l1.2 2.2l1.2 .2l.6 -.2l.6 -.6l.6 -.1l.6 1l.6 .5l2.4 .3l1.3 -1.7l1.2 1.7l3.6 0l1.2 -1.4l.6 .3l.6 .8l.6 .3l3.7 0l6.6 -1l4.9 -1l26 -7l7.3 -.7l10.3 .6l5.4 0l1.9 .3l7.2 0l3.7 1.5l7.8 -1.3l3.7 .1l3.6 -.5l1.8 1.9l13.4 -1.9l5.4 -1.1l2.4 2.1l2.5 -1.7l3 2.4l2.4 -2l4.2 .1l3.7 -2.7l1.8 2.6l.6 .4l3.6 -.7l3.7 -1.9l1.8 1l1.8 -.2l1.8 2.7l2.4 -3.6l2.5 2.8l3 -1.9l.6 .1l1.2 1l5.5 -.7l1.8 -4.7l2.4 7.4l3 -.4l3.7 0l1.2 -1"/>
<path stroke="#0072BD" d="M52.4 463.8l.6 .1l10.3 -2.5l7.2 -.5l3.7 .4l3 .9l3 1.3l5.5 1.4l3.6 -.9l3.7 .6l1.2 -1l.6 .2l.6 .9l.6 .4l2.4 0l1.8 -.6l1.2 .7l1.9 .3l.6 -1.1l.6 -2.2l1.2 2.4l1.2 .1l.6 -.3l.6 -.6l.6 -.1l.6 1.1l.6 .5l2.4 .2l1.3 -1.8l1.2 1.8l3.6 -.2l1.2 -1.4l.6 .3l.6 .8l.6 .4l3.7 -.1l6.6 -1.2l4.9 -1.1l8.5 -2.4l9.6 -3l7.9 -2.2l7.3 -.7l10.3 .5l5.4 0l1.9 .3l7.2 0l3.7 1.6l7.8 -1.4l3.7 .1l3.6 -.5l1.8 1.9l13.4 -2l5.4 -1.2l2.4 2.2l2.5 -1.8l3 2.6l2.4 -2.2l4.2 .1l3.7 -2.9l1.8 2.8l.6 .4l3.6 -.8l3.7 -2l1.8 1.1l1.8 -.2l1.8 2.8l2.4 -3.8l2.5 2.9l3 -1.9l.6 0l1.2 1l5.5 -.7l1.8 -5.1l2.4 8l3 -.4l3.7 0l1.2 -1.2"/>
<path stroke="#D95319" d="M52.4 463.8l.6 .1l10.3 -2.5l7.2 -.5l3.7 .3l6 2l5.5 1.2l3.6 -1l3.7 .5l1.2 -1.1l.6 .2l.6 .9l.6 .4l2.4 -.1l1.8 -.7l1.2 .7l1.9 .2l.6 -1.1l.6 -2.3l1.2 2.4l1.2 .2l.6 -.3l.6 -.7l.6 -.1l.6 1.1l.6 .5l2.4 .2l1.3 -2l1.2 1.9l3.6 -.2l1.2 -1.7l.6 .4l.6 .8l.6 .4l3.7 -.2l6.6 -1.3l4.9 -1.2l8.5 -2.6l9.6 -3.2l7.9 -2.3l7.3 -.8l10.3 .5l5.4 0l1.9 .3l7.2 0l3.7 1.7l7.8 -1.5l3.7 0l3.6 -.6l1.8 2.1l13.4 -2.2l5.4 -1.3l2.4 2.3l2.5 -1.9l3 2.7l2.4 -2.3l4.2 .1l3.7 -3.1l1.8 3l.6 .4l3.6 -.8l3.7 -2.2l1.8 1.1l1.8 -.2l1.8 3l2.4 -4l2.5 3l3 -2l.6 0l1.2 1.1l5.5 -.8l1.8 -5.4l2.4 8.4l3 -.4l3.7 0l1.2 -1.2"/>
<path stroke="#EDB120" d="M52.4 463.8l.6 .1l10.3 -2.5l7.9 -.6l3 .3l6 1.8l5.5 1.1l3.6 -1.2l3.7 .4l1.2 -1.2l.6 .2l.6 .9l.6 .4l2.4 -.2l1.8 -.8l1.2 .7l1.9 .2l.6 -1.2l.6 -2.5l1.2 2.6l1.2 .1l.6 -.3l.6 -.7l.6 -.2l.6 1.2l.6 .6l2.4 .1l1.3 -2.1l1.2 1.9l3.6 -.3l1.2 -1.7l.6 .3l.6 .9l.6 .4l3.7 -.3l6.6 -1.5l4.9 -1.3l8.5 -2.7l9.6 -3.5l7.9 -2.4l7.3 -.9l10.3 .5l5.4 0l1.9 .3l7.2 0l3.7 1.7l7.8 -1.6l3.7 .1l3.6 -.7l1.8 2.2l13.4 -2.4l5.4 -1.4l2.4 2.5l2.5 -2.1l3 2.9l2.4 -2.5l4.2 .1l3.7 -3.3l1.8 3.2l.6 .4l3.6 -.9l3.7 -2.3l1.8 1.2l1.8 -.3l1.8 3.2l2.4 -4.3l2.5 3.3l3 -2.3l.6 .1l1.2 1.2l5.5 -.9l1.8 -5.8l2.4 9l3 -.4l3.7 -.1l1.2 -1.3"/>
<path stroke="#7E2F8E" d="M52.4 463.7l.6 .2l10.3 -2.5l7.2 -.6l3.7 .2l6 1.7l5.5 .9l3.6 -1.4l3.7 .3l1.2 -1.3l.6 .1l.6 1l.6 .4l2.4 -.2l1.8 -.9l1.2 .7l.6 .1l1.3 0l.6 -1.3l.6 -2.6l1.2 2.7l1.2 .1l.6 -.4l.6 -.7l.6 -.2l.6 1.2l.6 .6l2.4 .1l1.3 -2.3l1.2 2l3.6 -.4l1.2 -1.8l.6 .3l.6 .9l.6 .4l3.7 -.3l11.5 -3.1l8.5 -2.8l9.6 -3.7l7.9 -2.6l7.3 -.9l10.3 .5l5.4 0l1.9 .3l7.2 -.1l3.7 1.8l7.8 -1.7l3.7 0l3.6 -.7l1.8 2.3l13.4 -2.6l5.4 -1.5l2.4 2.6l2.5 -2.1l3 3l2.4 -2.7l4.2 .1l3.7 -3.5l1.8 3.3l.6 .5l3.6 -1l3.7 -2.5l1.8 1.3l1.8 -.3l1.8 3.4l2.4 -4.6l2.5 3.5l3 -2.4l.6 .1l1.2 1.2l5.5 -1l1.8 -6.1l2.4 9.5l3 -.5l3.7 -.1l1.2 -1.3"/>
<path stroke="#77AC30" d="M52.4 463.7l.6 .2l10.3 -2.5l7.2 -.6l3.7 .1l6 1.5l5.5 .8l3.6 -1.6l3.7 .2l1.2 -1.4l.6 .1l.6 1l.6 .4l2.4 -.3l1.8 -1l1.2 .7l.6 .2l1.3 -.1l.6 -1.4l.6 -2.7l1.2 2.8l1.2 .1l.6 -.4l.6 -.8l.6 -.2l.6 1.2l.6 .6l2.4 .1l1.3 -2.4l1.2 2.1l3.6 -.5l1.2 -2l.6 .4l.6 .9l.6 .4l3.7 -.3l11.5 -3.4l8.5 -3l9.6 -3.9l7.9 -2.7l7.3 -1.1l10.3 .6l5.4 -.1l1.9 .4l7.2 -.2l3.7 1.9l7.8 -1.9l3.7 .1l3.6 -.8l1.8 2.4l13.4 -2.8l5.4 -1.6l2.4 2.7l2.5 -2.2l3 3.1l2.4 -2.8l4.2 .1l3.7 -3.7l1.8 3.5l.6 .5l3.6 -1.1l3.7 -2.6l1.8 1.3l1.8 -.3l1.8 3.6l2.4 -4.9l2.5 3.7l3 -2.6l.6 .1l1.2 1.3l5.5 -1l1.8 -6.5l2.4 10l3 -.5l3.7 -.1l1.2 -1.5"/>
<path stroke="#4DBEEE" d="M52.4 463.7l.6 .2l10.3 -2.5l7.2 -.6l3.7 .1l6 1.3l5.5 .6l3.6 -1.8l3.7 .1l1.2 -1.5l.6 .1l.6 1l.6 .5l2.4 -.5l1.8 -1.1l1.2 .8l.6 .1l1.3 0l.6 -1.5l.6 -2.9l1.2 2.9l1.2 .1l.6 -.5l.6 -.8l.6 -.2l.6 1.3l.6 .6l2.4 0l1.3 -2.5l1.2 2.2l3.6 -.6l1.2 -2.1l.6 .4l.6 .9l.6 .5l3.7 -.5l11.5 -3.6l8.5 -3.2l9.6 -4.1l7.9 -2.9l7.3 -1l10.3 .5l5.4 -.1l1.9 .4l7.2 -.2l3.7 2l7.8 -2.1l3.7 .1l3.6 -.9l1.8 2.5l13.4 -3l5.4 -1.7l2.4 2.9l2.5 -2.4l3 3.3l2.4 -3l4.2 0l3.7 -3.9l1.8 3.7l.6 .5l3.6 -1.1l3.7 -2.8l1.8 1.4l1.8 -.3l1.8 3.7l2.4 -5.1l2.5 3.8l3 -2.7l.6 .1l1.2 1.3l5.5 -1.1l1.8 -6.8l2.4 10.5l3 -.5l3.7 -.2l1.2 -1.5"/>
<path stroke="#A2142F" d="M52.4 463.7l.6 .2l9.1 -2.3l2.4 -.4l6.7 -.5l2.4 0l6.6 1.2l5.5 .5l3.6 -2l3.7 0l1.2 -1.6l.6 .1l.6 1.1l.6 .4l2.4 -.5l1.8 -1.2l1.2 .7l.6 .2l1.3 -.1l.6 -1.5l.6 -3l1.2 3l1.2 0l.6 -.5l.6 -.9l.6 -.2l.6 1.3l.6 .7l2.4 -.1l1.3 -2.6l1.2 2.3l3.6 -.7l1.2 -2.2l.6 .4l.6 .9l.6 .5l3.7 -.5l11.5 -3.9l8.5 -3.4l9.6 -4.2l7.9 -3l7.3 -1.2l10.3 .6l5.4 -.1l1.9 .3l7.2 -.3l3.7 2.1l7.8 -2.1l3.7 0l3.6 -.9l1.8 2.6l13.4 -3.3l5.4 -1.8l2.4 3l2.5 -2.5l3 3.4l2.4 -3.2l4.2 .1l3.7 -4.1l1.8 3.8l.6 .6l3.6 -1.2l3.7 -3l1.8 1.5l1.8 -.4l1.8 3.9l2.4 -5.4l2.5 4l3 -2.8l.6 .1l1.2 1.4l5.5 -1.2l1.8 -7.3l2.4 11.1l3 -.6l3.7 -.1l1.2 -1.7"/>
<path stroke="#0072BD" d="M52.4 463.7l.6 .2l10.3 -2.5l7.9 -.7l3 0l6 .9l5.5 .4l3.6 -2.2l3.7 0l1.2 -1.7l.6 .1l.6 1l.6 .5l2.4 -.6l1.8 -1.3l1.2 .7l.6 .2l1.3 -.2l.6 -1.6l.6 -3.1l1.2 3.1l1.2 0l.6 -.5l.6 -.9l.6 -.3l.6 1.4l.6 .7l2.4 -.1l1.3 -2.7l1.2 2.3l3.6 -.8l1.2 -2.3l.6 .4l.6 1l.6 .5l3.7 -.6l11.5 -4.1l8.5 -3.6l9.6 -4.4l7.9 -3.2l7.3 -1.2l10.3 .5l5.4 -.1l1.9 .4l7.2 -.3l3.7 2.1l7.8 -2.3l3.7 0l3.6 -1l1.8 2.8l6.1 -1.8l7.3 -1.7l5.4 -2l2.4 3.1l2.5 -2.6l3 3.5l2.4 -3.3l4.2 .1l3.7 -4.4l1.8 4l.6 .6l3.6 -1.3l3.7 -3.1l1.8 1.5l1.8 -.4l1.8 4.1l2.4 -5.7l2.5 4.2l3 -3l.6 .1l1.2 1.4l5.5 -1.2l1.8 -7.7l2.4 11.7l3 -.7l3.7 -.2l1.2 -1.7"/>
<path stroke="#D95319" d="M52.4 463.7l.6 .2l10.3 -2.5l5.4 -.4l3.1 -.4l2.4 0l6 .8l5.5 .2l3.6 -2.3l3.7 -.2l1.2 -1.8l.6 .1l.6 1.1l.6 .4l2.4 -.7l1.8 -1.3l1.2 .7l.6 .2l1.3 -.2l.6 -1.7l.6 -3.2l1.2 3.2l1.2 -.1l.6 -.5l.6 -.9l.6 -.3l.6 1.4l.6 .7l2.4 -.1l1.3 -2.9l1.2 2.4l3.6 -.9l1.2 -2.4l.6 .4l.6 1.1l.6 .4l3.7 -.6l11.5 -4.3l8.5 -3.8l9.6 -4.6l7.9 -3.3l7.3 -1.3l10.3 .5l5.4 -.1l1.9 .4l7.2 -.4l3.7 2.2l7.8 -2.4l3.7 -.1l3.6 -1l1.8 2.8l6.1 -1.8l7.3 -1.9l5.4 -2.1l2.4 3.3l2.5 -2.8l3 3.7l2.4 -3.5l4.2 0l3.7 -4.6l1.8 4.2l.6 .6l3.6 -1.4l3.7 -3.2l1.8 1.5l1.8 -.4l1.8 4.3l2.4 -6l2.5 4.4l3 -3.2l.6 .1l1.2 1.5l5.5 -1.4l1.8 -8l2.4 12.2l3 -.7l3.7 -.2l1.2 -1.9"/>
<path stroke="#EDB120" d="M52.4 463.7l.6 .2l10.3 -2.5l5.4 -.4l3.1 -.4l2.4 -.1l6 .6l5.5 .1l3.6 -2.5l3.7 -.2l1.2 -1.9l.6 0l.6 1.1l.6 .5l2.4 -.8l1.8 -1.4l1.2 .7l.6 .2l1.3 -.2l.6 -1.8l.6 -3.4l1.2 3.3l1.2 0l.6 -.5l.6 -1.1l.6 -.2l.6 1.4l.6 .7l2.4 -.1l1.3 -3l1.2 2.4l3.6 -.9l1.2 -2.5l.6 .4l.6 1l.6 .5l3.7 -.7l11.5 -4.6l8.5 -3.8l9.6 -4.9l7.9 -3.4l7.3 -1.3l10.3 .5l5.4 -.1l1.9 .3l7.2 -.4l3.7 2.2l7.8 -2.5l3.7 -.1l3.6 -1.1l1.8 2.9l6.1 -1.9l7.3 -2.1l5.4 -2.2l2.4 3.4l2.5 -3l3 3.9l2.4 -3.7l4.2 0l3.7 -4.8l1.8 4.4l.6 .6l3.6 -1.5l3.7 -3.4l1.8 1.6l1.8 -.4l1.8 4.4l2.4 -6.2l2.5 4.5l3 -3.3l.6 0l1.2 1.6l5.5 -1.5l1.8 -8.4l2.4 12.8l3 -.8l3.7 -.3l1.2 -1.9"/>
<path stroke="#7E2F8E" d="M52.4 463.7l.6 .2l10.3 -2.5l5.4 -.4l3.1 -.4l2.4 -.1l6.6 .4l4.9 0l3.6 -2.7l3.7 -.4l1.2 -2l.6 .1l.6 1.1l.6 .5l2.4 -.9l1.8 -1.5l1.2 .8l.6 .1l1.3 -.2l.6 -1.8l.6 -3.6l1.2 3.4l1.2 0l.6 -.6l.6 -1.1l.6 -.3l.6 1.6l.6 .7l2.4 -.2l1.3 -3.1l1.2 2.5l3.6 -1l1.2 -2.6l.6 .3l.6 1.2l.6 .5l3.7 -.8l11.5 -4.8l8.5 -4.1l9.6 -5l7.9 -3.6l7.3 -1.4l10.3 .6l5.4 -.2l1.9 .4l7.2 -.5l3.7 2.3l7.8 -2.7l3.7 -.2l3.6 -1.1l1.8 3l6.1 -2l7.3 -2.2l5.4 -2.4l2.4 3.5l2.5 -3.1l3 4l2.4 -3.9l4.2 0l3.7 -5l1.8 4.5l.6 .6l3.6 -1.5l3.7 -3.6l1.8 1.7l1.8 -.5l1.8 4.6l2.4 -6.6l2.5 4.8l3 -3.5l.6 0l1.2 1.7l5.5 -1.7l1.8 -8.8l2.4 13.4l3 -.9l3.7 -.3l1.2 -2"/>
<path stroke="#77AC30" d="M52.4 463.6l.6 .3l10.3 -2.5l5.4 -.4l3.1 -.5l2.4 -.1l6.6 .3l4.9 -.2l3.6 -2.9l3.7 -.4l1.2 -2.1l.6 .1l.6 1.1l.6 .5l2.4 -.9l1.8 -1.6l1.2 .7l.6 .1l1.3 -.2l.6 -1.9l.6 -3.6l1.2 3.5l1.2 -.1l.6 -.6l.6 -1.1l.6 -.3l.6 1.5l.6 .8l2.4 -.3l1.3 -3.2l1.2 2.6l3.6 -1.1l1.2 -2.7l.6 .3l.6 1.2l.6 .5l3.7 -.8l11.5 -5.1l8.5 -4.2l9.6 -5.2l7.9 -3.7l7.3 -1.4l10.3 .5l5.4 -.1l1.9 .3l7.2 -.6l3.7 2.4l7.8 -2.9l3.7 -.2l3.6 -1.2l1.8 3.1l6.1 -2.2l7.3 -2.3l5.4 -2.5l2.4 3.6l2.5 -3.2l3 4.1l2.4 -4l4.2 -.1l3.7 -5.3l1.8 4.7l.6 .7l3.6 -1.7l3.7 -3.8l1.8 1.8l1.8 -.5l1.8 4.8l2.4 -6.9l2.5 4.9l3 -3.7l.6 .1l1.2 1.7l5.5 -1.8l1.8 -9.2l2.4 13.9l3 -.9l3.7 -.3l1.2 -2.2"/>
<path stroke="#4DBEEE" d="M52.4 463.6l.6 .3l10.9 -2.6l4.8 -.3l4.9 -.7l6.6 .1l5.5 -.3l3.6 -3l3.7 -.5l1.2 -2.2l.6 0l.6 1.2l.6 .5l2.4 -1l1.8 -1.7l1.2 .8l.6 .1l1.3 -.3l.6 -1.9l.6 -3.8l1.2 3.6l1.2 -.1l.6 -.6l.6 -1.2l.6 -.3l.6 1.6l.6 .8l2.4 -.3l1.3 -3.4l1.2 2.7l3.6 -1.2l1.2 -2.8l.6 .4l.6 1.1l.6 .6l3.7 -.9l11.5 -5.3l8.5 -4.4l9.6 -5.3l7.9 -3.9l7.3 -1.5l10.3 .6l5.4 -.2l1.9 .3l7.2 -.6l3.7 2.4l7.8 -3.1l3.7 -.2l3.6 -1.2l1.8 3.1l6.1 -2.3l7.3 -2.4l5.4 -2.7l2.4 3.7l2.5 -3.4l3 4.3l2.4 -4.2l4.2 -.2l3.7 -5.5l1.8 4.9l.6 .7l3 -1.3l.6 -.5l3.7 -3.9l1.8 1.8l1.8 -.6l1.8 5l2.4 -7.2l2.5 5.1l3 -3.9l.6 .1l1.2 1.8l5.5 -1.9l1.8 -9.7l2.4 14.6l3 -1l3.7 -.5l1.2 -2.2"/>
<path stroke="#A2142F" d="M52.4 463.6l.6 .3l10.9 -2.6l4.8 -.3l4.9 -.7l6.6 -.1l5.5 -.4l3.6 -3.2l3.7 -.6l1.2 -2.3l.6 0l.6 1.2l.6 .5l2.4 -1.1l1.8 -1.7l1.2 .7l.6 .2l1.3 -.3l.6 -2.1l.6 -3.9l1.2 3.7l1.2 -.1l.6 -.6l.6 -1.2l.6 -.4l.6 1.7l.6 .8l2.4 -.4l1.3 -3.4l1.2 2.7l3.6 -1.3l1.2 -2.9l.6 .4l.6 1.2l.6 .5l3.7 -.9l11.5 -5.5l8.5 -4.5l9.6 -5.6l7.9 -3.9l7.3 -1.6l10.3 .5l5.4 -.1l1.9 .3l7.2 -.7l3.7 2.4l7.8 -3.2l3.7 -.2l3.6 -1.4l1.8 3.3l6.1 -2.5l7.3 -2.6l5.4 -2.8l2.4 3.8l2.5 -3.5l3 4.3l2.4 -4.4l4.2 -.1l3.7 -5.8l1.8 5.1l.6 .7l3 -1.4l.6 -.5l3.7 -4.1l1.8 1.8l1.8 -.6l1.8 5.2l2.4 -7.5l2.5 5.3l3 -4.1l.6 .1l1.2 1.8l5.5 -2l1.8 -10.1l2.4 15.1l3 -1l3.7 -.5l1.2 -2.4"/>
<path stroke="#0072BD" d="M52.4 463.6l.6 .3l10.9 -2.6l4.8 -.3l4.9 -.8l6.6 -.2l5.5 -.6l3.6 -3.3l3.7 -.7l1.2 -2.4l.6 .1l.6 1.2l.6 .4l2.4 -1.1l1.8 -1.8l1.2 .7l.6 .1l1.3 -.3l.6 -2.1l.6 -4l1.2 3.8l1.2 -.1l.6 -.7l.6 -1.2l.6 -.4l.6 1.7l.6 .8l2.4 -.4l1.3 -3.6l1.2 2.8l3.6 -1.3l1.2 -3l.6 .4l.6 1.2l.6 .5l3.7 -.9l11.5 -5.8l8.5 -4.6l9.6 -5.8l7.9 -4l7.3 -1.7l10.3 .6l5.4 -.2l1.9 .3l7.2 -.8l3.7 2.5l7.8 -3.4l3.7 -.3l3.6 -1.4l1.8 3.3l6.1 -2.6l7.3 -2.7l5.4 -3l2.4 3.9l2.5 -3.7l3 4.5l2.4 -4.6l4.2 -.2l3.7 -6l1.8 5.2l.6 .8l3 -1.5l.6 -.5l3.7 -4.4l1.8 1.9l1.8 -.6l1.8 5.4l2.4 -7.9l2.5 5.5l3 -4.3l.6 .1l1.2 1.9l5.5 -2.2l1.8 -10.5l2.4 15.7l3 -1.1l3.7 -.6l1.2 -2.4"/>
<path stroke="#D95319" d="M52.4 463.6l.6 .3l10.9 -2.6l4.8 -.3l4.9 -.8l6.6 -.4l5.5 -.7l3.6 -3.5l3.7 -.8l1.2 -2.4l.6 0l.6 1.2l.6 .5l2.4 -1.2l1.8 -2l1.2 .8l.6 .1l1.3 -.3l.6 -2.1l.6 -4.2l1.2 3.9l1.2 -.2l.6 -.7l.6 -1.2l.6 -.4l.6 1.7l.6 .8l2.4 -.4l1.3 -3.7l1.2 2.9l3.6 -1.4l1.2 -3.1l.6 .4l.6 1.2l.6 .6l3.7 -1.1l11.5 -5.9l8.5 -4.8l9.6 -5.9l7.9 -4.2l7.3 -1.7l10.3 .5l5.4 -.2l1.9 .4l7.2 -1l3.7 2.6l7.8 -3.6l3.7 -.3l3.6 -1.6l1.8 3.5l6.1 -2.7l7.3 -3l5.4 -3.1l2.4 4l2.5 -3.8l3 4.6l2.4 -4.8l4.2 -.3l3.7 -6.3l1.8 5.5l.6 .7l3 -1.6l.6 -.5l3.7 -4.5l1.8 1.9l1.8 -.7l1.8 5.6l2.4 -8.1l2.5 5.6l3 -4.5l.6 .1l1.2 1.9l5.5 -2.3l1.8 -11l2.4 16.4l3 -1.3l3.7 -.6l1.2 -2.6"/>
<path stroke="#EDB120" d="M52.4 463.6l.6 .3l10.9 -2.6l4.8 -.3l4.3 -.8l7.2 -.7l5.5 -.8l3.6 -3.6l3.7 -.9l1.2 -2.5l.6 0l.6 1.3l.6 .4l2.4 -1.2l1.8 -2l1.2 .7l.6 .2l1.3 -.4l.6 -2.2l.6 -4.3l1.2 4l1.2 -.2l.6 -.7l.6 -1.3l.6 -.4l.6 1.7l.6 .9l2.4 -.4l1.3 -3.8l1.2 2.9l3.6 -1.5l1.2 -3.2l.6 .4l.6 1.3l.6 .5l3.7 -1.1l11.5 -6.1l8.5 -5l9.6 -6l7.9 -4.4l7.3 -1.7l10.3 .5l5.4 -.2l1.9 .3l7.2 -1l3.7 2.6l7.8 -3.8l3.7 -.3l3.6 -1.7l1.8 3.6l6.1 -2.9l7.3 -3.1l5.4 -3.3l2.4 4.1l2.5 -4l3 4.7l2.4 -5l4.2 -.3l3.7 -6.5l1.8 5.6l.6 .7l3 -1.6l.6 -.5l3.7 -4.8l1.8 2l1.8 -.7l1.8 5.7l2.4 -8.5l2.5 5.8l3 -4.6l.6 0l1.2 2l5.5 -2.5l1.8 -11.4l2.4 17l3 -1.3l3.7 -.7l1.2 -2.7"/>
<path stroke="#7E2F8E" d="M52.4 463.6l.6 .3l10.3 -2.5l5.4 -.4l4.3 -.9l7.2 -.8l5.5 -.9l3.6 -3.8l3.7 -.9l1.2 -2.6l.6 0l.6 1.2l.6 .5l2.4 -1.3l1.8 -2.1l1.2 .8l.6 .1l1.3 -.4l.6 -2.3l.6 -4.4l1.2 4.1l1.2 -.2l.6 -.7l.6 -1.4l.6 -.4l.6 1.8l.6 .9l2.4 -.5l1.3 -3.9l1.2 3l3.6 -1.6l1.2 -3.3l.6 .4l.6 1.3l.6 .6l3.7 -1.2l11.5 -6.3l8.5 -5.1l9.6 -6.2l7.9 -4.5l7.3 -1.7l10.3 .5l5.4 -.2l1.9 .3l7.2 -1.2l3.7 2.6l7.8 -3.9l3.7 -.4l3.6 -1.7l1.8 3.6l6.1 -3.1l7.3 -3.3l5.4 -3.4l2.4 4.2l2.5 -4.2l3 4.8l2.4 -5.1l4.2 -.4l3.7 -6.8l1.8 5.8l.6 .7l3 -1.7l.6 -.6l3.7 -4.9l1.8 2l1.8 -.8l1.8 6l2.4 -8.8l2.5 6l3 -4.9l.6 0l1.2 2.1l5.5 -2.7l1.8 -11.8l2.4 17.5l3 -1.4l3.7 -.7l1.2 -2.9"/>
<path stroke="#77AC30" d="M52.4 463.6l.6 .3l10.3 -2.5l5.4 -.4l4.3 -.9l7.2 -1l5.5 -1l3.6 -3.9l3.7 -1.1l1.2 -2.7l.6 0l.6 1.3l.6 .5l2.4 -1.4l1.8 -2.2l1.2 .8l.6 .1l1.3 -.4l.6 -2.3l.6 -4.5l1.2 4.1l1.2 -.2l.6 -.7l.6 -1.4l.6 -.4l.6 1.8l.6 .9l2.4 -.5l1.3 -4l1.2 3l3.6 -1.7l1.2 -3.3l.6 .4l.6 1.3l.6 .6l3.7 -1.2l10.9 -6.2l9.1 -5.6l9.6 -6.4l7.9 -4.5l7.3 -1.9l10.3 .6l5.4 -.3l1.9 .3l7.2 -1.2l3.7 2.6l7.8 -4.1l3.7 -.5l3.6 -1.8l1.8 3.7l6.1 -3.2l7.3 -3.5l5.4 -3.6l2.4 4.3l2.5 -4.3l3 4.9l2.4 -5.4l4.2 -.4l3.7 -7.1l1.8 5.9l.6 .8l3 -1.8l.6 -.6l3.7 -5.2l1.8 2.1l1.8 -.8l1.8 6.1l2.4 -9.1l2.5 6.1l3 -5l.6 0l1.2 2.1l5.5 -2.8l1.8 -12.4l2.4 18.2l3 -1.5l3.7 -.8l1.2 -3"/>
<path stroke="#4DBEEE" d="M52.4 463.5l.6 .4l10.3 -2.5l5.4 -.4l4.3 -.9l7.2 -1.2l5.5 -1.1l3.6 -4.1l3.7 -1.1l1.2 -2.8l.6 0l.6 1.3l.6 .5l2.4 -1.5l1.8 -2.2l1.2 .8l.6 .1l1.3 -.4l.6 -2.4l.6 -4.6l1.2 4.2l1.2 -.2l.6 -.8l.6 -1.4l.6 -.5l.6 1.9l.6 .9l2.4 -.5l1.3 -4.2l1.2 3.1l3.6 -1.7l1.2 -3.4l.6 .4l.6 1.3l.6 .6l3.7 -1.2l10.9 -6.4l9.1 -5.7l9.6 -6.6l7.9 -4.7l7.3 -1.8l10.3 .5l5.4 -.3l1.9 .3l7.2 -1.3l3.7 2.6l7.8 -4.3l3.7 -.6l3.6 -1.8l1.8 3.7l6.1 -3.3l7.3 -3.7l5.4 -3.8l2.4 4.4l2.5 -4.5l3 5l2.4 -5.5l4.2 -.6l3.7 -7.3l1.8 6.1l.6 .8l3 -1.9l.6 -.6l3.7 -5.4l1.8 2.1l1.8 -.9l1.8 6.3l2.4 -9.5l2.5 6.4l3 -5.3l.6 0l1.2 2.2l5.5 -3l1.8 -12.8l2.4 18.8l3 -1.6l3.7 -.9l1.2 -3.1"/>
<path stroke="#A2142F" d="M52.4 463.5l.6 .4l10.3 -2.5l5.4 -.4l17 -3.5l3.6 -4.2l3.7 -1.2l1.2 -2.9l.6 0l.6 1.3l.6 .5l2.4 -1.5l1.8 -2.3l1.2 .8l.6 .1l1.3 -.5l.6 -2.4l.6 -4.7l1.2 4.3l1.2 -.3l.6 -.8l.6 -1.4l.6 -.5l.6 1.9l.6 .9l2.4 -.5l1.3 -4.2l1.2 3.1l3.6 -1.8l1.2 -3.5l.6 .4l.6 1.4l.6 .6l3.7 -1.3l10.9 -6.6l9.1 -5.9l9.6 -6.7l7.9 -4.7l7.3 -2l10.3 .6l5.4 -.3l1.9 .3l7.2 -1.5l3.7 2.7l7.8 -4.6l3.7 -.6l3.6 -2l1.8 3.9l6.1 -3.5l7.3 -3.9l5.4 -4l2.4 4.5l2.5 -4.7l3 5.1l2.4 -5.7l4.2 -.6l3.7 -7.6l1.8 6.3l.6 .8l3 -2l.6 -.7l3.7 -5.6l1.8 2.2l1.8 -.9l1.8 6.4l2.4 -9.8l2.5 6.5l3 -5.5l.6 0l1.2 2.2l5.5 -3.1l1.8 -13.3l2.4 19.4l3 -1.7l3.7 -1l1.2 -3.2"/>
<path stroke="#0072BD" d="M52.4 463.5l.6 .4l10.3 -2.5l5.4 -.4l4.3 -1l7.2 -1.5l5.5 -1.3l3.6 -4.4l3.7 -1.2l1.2 -2.9l.6 -.1l.6 1.4l.6 .5l2.4 -1.7l1.8 -2.3l1.2 .8l.6 .1l1.3 -.5l.6 -2.5l.6 -4.8l1.2 4.4l1.2 -.3l.6 -.8l.6 -1.5l.6 -.5l.6 2l.6 .9l2.4 -.6l1.3 -4.3l1.2 3.2l3.6 -1.9l1.2 -3.6l.6 .5l.6 1.4l.6 .6l3.7 -1.4l10.9 -6.8l9.1 -5.9l9.6 -6.9l7.9 -4.9l7.3 -2l10.3 .6l5.4 -.3l1.9 .2l7.2 -1.6l3.7 2.7l7.8 -4.7l3.7 -.7l3.6 -2l1.8 3.9l6.1 -3.7l7.3 -4.1l5.4 -4.2l2.4 4.6l2.5 -4.8l3 5.2l2.4 -6l4.2 -.7l3.7 -7.8l1.8 6.4l.6 .9l3 -2.2l.6 -.6l3.7 -5.9l1.8 2.2l1.8 -.9l1.8 6.6l2.4 -10.2l2.5 6.8l3 -5.8l.6 0l1.2 2.3l5.5 -3.4l1.8 -13.8l2.4 20.1l3 -1.8l3.7 -1.1l1.2 -3.3"/>
<path stroke="#D95319" d="M52.4 463.5l.6 .4l10.3 -2.5l5.4 -.4l11.5 -2.7l5.5 -1.4l3.6 -4.5l3.7 -1.3l1.2 -3l.6 -.1l.6 1.4l.6 .5l2.4 -1.7l1.8 -2.4l1.2 .8l.6 .1l1.3 -.5l.6 -2.6l.6 -4.9l1.2 4.5l1.2 -.3l.6 -.8l.6 -1.6l.6 -.4l.6 1.9l.6 1l2.4 -.7l1.3 -4.4l1.2 3.3l3.6 -1.9l1.2 -3.7l.6 .4l.6 1.5l.6 .6l3.7 -1.5l10.9 -6.9l9.1 -6.1l9.6 -7l7.9 -5l7.3 -2l10.3 .5l5.4 -.3l1.9 .3l7.2 -1.8l3.7 2.8l7.8 -5l3.7 -.7l3.6 -2.2l1.8 4l6.1 -3.9l7.3 -4.3l5.4 -4.4l2.4 4.7l2.5 -5l3 5.3l2.4 -6.1l4.2 -.8l3.7 -8.1l1.8 6.6l.6 .8l3 -2.2l.6 -.7l3.7 -6.1l1.8 2.3l1.8 -1l1.8 6.8l2.4 -10.5l2.5 6.9l3 -6l.6 0l1.2 2.3l5.5 -3.5l1.8 -14.3l2.4 20.7l3 -1.9l3.7 -1.2l1.2 -3.5"/>
<path stroke="#EDB120" d="M52.4 463.5l.6 .4l10.3 -2.5l5.4 -.4l11.5 -2.8l5.5 -1.6l3.6 -4.6l3.7 -1.4l1.2 -3.1l.6 0l.6 1.4l.6 .5l2.4 -1.8l1.8 -2.5l1.2 .8l.6 .1l1.3 -.5l.6 -2.6l.6 -5l1.2 4.5l1.2 -.2l.6 -.9l.6 -1.6l.6 -.5l.6 2l.6 1l2.4 -.7l1.3 -4.5l1.2 3.3l3.6 -1.9l1.2 -3.8l.6 .4l.6 1.5l.6 .6l3.7 -1.5l10.9 -7.1l9.1 -6.2l9.6 -7.1l7.9 -5.1l7.3 -2.1l10.3 .5l5.4 -.3l1.9 .2l7.2 -1.8l3.7 2.7l7.8 -5.2l3.7 -.7l3.6 -2.3l1.8 4l6.1 -4l7.3 -4.5l5.4 -4.6l2.4 4.8l2.5 -5.2l3 5.4l2.4 -6.4l4.2 -.8l3.7 -8.4l1.8 6.7l.6 .9l3 -2.3l.6 -.7l3.7 -6.4l1.8 2.4l1.8 -1.1l1.8 7l2.4 -10.9l2.5 7.1l3 -6.3l.6 0l1.2 2.4l5.5 -3.7l1.8 -14.8l2.4 21.4l3 -2l3.7 -1.3l1.2 -3.6"/>
<path stroke="#7E2F8E" d="M52.4 463.5l.6 .4l10.3 -2.5l5.4 -.4l10.9 -2.9l6.1 -1.8l3.6 -4.7l3.7 -1.5l1.2 -3.1l.6 -.1l.6 1.4l.6 .5l2.4 -1.8l1.8 -2.5l1.2 .8l.6 .1l1.3 -.5l.6 -2.7l.6 -5.1l1.2 4.6l1.2 -.3l.6 -.9l.6 -1.6l.6 -.5l.6 2l.6 1l2.4 -.7l1.3 -4.6l1.2 3.4l3.6 -2l1.2 -3.9l.6 .5l.6 1.4l.6 .6l3.7 -1.5l10.9 -7.2l9.1 -6.4l9.6 -7.3l7.9 -5.2l7.3 -2.1l10.3 .6l5.4 -.3l1.9 .1l7.2 -1.9l3.7 2.7l7.8 -5.4l3.7 -.8l3.6 -2.4l1.8 4.1l13.4 -9l5.4 -4.7l2.4 4.8l2.5 -5.3l3 5.5l2.4 -6.6l4.2 -.9l3.7 -8.7l1.8 6.9l.6 .9l3 -2.5l.6 -.7l3.7 -6.6l1.8 2.4l1.8 -1.1l1.8 7.2l2.4 -11.3l2.5 7.3l3 -6.5l.6 0l1.2 2.4l5.5 -3.9l1.8 -15.3l2.4 22l3 -2.1l3.7 -1.4l1.2 -3.7"/>
<path stroke="#77AC30" d="M52.4 463.5l.6 .4l10.3 -2.5l5.4 -.4l10.9 -3l6.1 -2l3.6 -4.8l3.7 -1.5l1.2 -3.2l.6 -.1l.6 1.4l.6 .5l2.4 -1.8l1.8 -2.6l1.2 .8l.6 .1l1.3 -.6l.6 -2.7l.6 -5.2l1.2 4.7l1.2 -.3l.6 -.9l.6 -1.7l.6 -.5l.6 2.1l.6 .9l2.4 -.7l1.3 -4.6l1.2 3.4l3.6 -2.1l1.2 -3.9l.6 .4l.6 1.5l.6 .6l3.7 -1.5l10.3 -7l9.7 -6.9l9.6 -7.4l7.9 -5.3l7.3 -2.2l10.3 .6l5.4 -.4l1.9 .2l7.2 -2.1l3.7 2.7l7.8 -5.6l3.7 -.9l3.6 -2.5l1.8 4.2l13.4 -9.4l5.4 -4.9l2.4 4.9l2.5 -5.5l3 5.6l2.4 -6.8l4.2 -1l3.7 -9l1.8 7.1l.6 .9l3 -2.6l.6 -.7l3.7 -6.8l1.8 2.4l1.8 -1.2l1.8 7.4l2.4 -11.7l2.5 7.5l3 -6.7l.6 0l1.2 2.5l5.5 -4.2l1.8 -15.7l2.4 22.6l3 -2.2l3.7 -1.5l1.2 -3.9"/>
<path stroke="#4DBEEE" d="M52.4 463.5l.6 .4l10.3 -2.5l5.4 -.4l10.9 -3.2l6.1 -2l3.6 -5l3.7 -1.6l1.2 -3.2l.6 -.1l.6 1.4l.6 .5l2.4 -1.9l1.8 -2.6l1.2 .8l.6 0l1.3 -.5l.6 -2.8l.6 -5.3l1.2 4.8l1.2 -.3l.6 -.9l.6 -1.7l.6 -.6l.6 2.2l.6 .9l2.4 -.7l1.3 -4.8l1.2 3.5l3.6 -2.1l1.2 -4.1l.6 .5l.6 1.5l.6 .6l3.7 -1.5l10.3 -7.2l9.7 -7l9.6 -7.6l7.9 -5.3l7.3 -2.2l10.3 .5l5.4 -.3l1.9 .1l7.2 -2.2l3.7 2.7l7.8 -5.8l3.7 -1l3.6 -2.6l1.8 4.2l13.4 -9.7l5.4 -5.2l2.4 5l2.5 -5.7l3 5.7l2.4 -7l4.2 -1.1l3.7 -9.2l1.8 7.2l.6 .9l3 -2.6l.6 -.8l3.7 -7l1.8 2.4l1.8 -1.3l1.8 7.6l2.4 -12l2.5 7.6l3 -6.9l.6 0l1.2 2.5l5.5 -4.3l1.8 -16.3l2.4 23.3l3 -2.3l3.7 -1.6l1.2 -4.1"/>
<path stroke="#A2142F" d="M52.4 463.5l.6 .4l10.3 -2.5l5.4 -.4l6.1 -1.7l10.9 -3.8l3.6 -5l3.7 -1.7l1.2 -3.3l.6 -.1l.6 1.5l.6 .5l2.4 -2l1.8 -2.7l1.2 .8l.6 .1l1.3 -.6l.6 -2.8l.6 -5.4l1.2 4.8l1.2 -.3l.6 -.9l.6 -1.7l.6 -.6l.6 2.1l.6 1l2.4 -.7l1.3 -4.9l1.2 3.6l3.6 -2.3l1.2 -4l.6 .4l.6 1.6l.6 .6l3.7 -1.6l9.7 -6.9l10.3 -7.6l9.6 -7.6l7.9 -5.5l7.3 -2.3l10.3 .6l5.4 -.3l1.9 .1l7.2 -2.4l3.7 2.7l7.8 -6l3.7 -1.1l3.6 -2.7l1.8 4.3l13.4 -10.1l5.4 -5.4l2.4 5.1l2.5 -5.9l3 5.8l2.4 -7.2l4.2 -1.2l3.7 -9.5l1.8 7.4l.6 .9l3 -2.8l.6 -.8l3.7 -7.2l1.8 2.4l1.8 -1.3l1.8 7.7l2.4 -12.3l2.5 7.8l3 -7.2l.6 0l1.2 2.6l5.5 -4.5l1.8 -16.8l2.4 23.9l3 -2.5l3.7 -1.7l1.2 -4.2"/>
<path stroke="#0072BD" d="M52.4 463.5l.6 .4l10.3 -2.5l5.4 -.4l6.1 -1.8l10.9 -3.9l3.6 -5.2l3.7 -1.7l1.2 -3.4l.6 -.1l.6 1.5l.6 .5l2.4 -2l1.8 -2.8l1.2 .8l.6 .1l1.3 -.6l.6 -2.9l.6 -5.4l1.2 4.9l1.2 -.4l.6 -.9l.6 -1.7l.6 -.6l.6 2.2l.6 .9l2.4 -.7l1.3 -4.9l1.2 3.5l3.6 -2.2l1.2 -4.2l.6 .5l.6 1.5l.6 .7l3.7 -1.7l9.7 -7l10.3 -7.7l9.6 -7.8l7.9 -5.5l7.3 -2.3l10.3 .5l5.4 -.3l1.9 .1l7.2 -2.5l3.7 2.7l7.8 -6.2l3.7 -1.2l3.6 -2.8l1.8 4.4l13.4 -10.6l5.4 -5.6l2.4 5.2l2.5 -6l3 5.8l2.4 -7.4l4.2 -1.3l3.7 -9.8l1.8 7.6l.6 .9l3 -2.9l.6 -.8l3.7 -7.5l1.8 2.5l1.8 -1.4l1.8 7.9l2.4 -12.7l2.5 8l3 -7.4l.6 -.1l1.2 2.7l5.5 -4.7l1.8 -17.3l2.4 24.5l3 -2.5l3.7 -1.8l1.2 -4.4"/>
<path stroke="#D95319" d="M52.4 463.5l.6 .4l10.3 -2.5l5.4 -.4l6.1 -1.8l10.9 -4.1l3.6 -5.3l3.7 -1.8l1.2 -3.4l.6 -.1l.6 1.5l.6 .5l2.4 -2.1l1.8 -2.8l1.2 .8l.6 .1l1.3 -.6l.6 -3l.6 -5.5l1.2 5l1.2 -.4l.6 -1l.6 -1.7l.6 -.6l.6 2.2l.6 1l2.4 -.8l1.3 -5l1.2 3.6l3.6 -2.3l1.2 -4.2l.6 .5l.6 1.5l.6 .7l3.7 -1.7l9.7 -7.1l10.3 -7.9l9.6 -7.8l7.9 -5.7l7.3 -2.3l10.3 .5l5.4 -.3l1.9 .1l7.2 -2.7l3.7 2.7l7.8 -6.4l3.7 -1.2l3.6 -2.9l1.8 4.4l13.4 -11l5.4 -5.8l2.4 5.3l2.5 -6.2l3 5.9l2.4 -7.6l4.2 -1.4l3.7 -10.1l1.8 7.7l.6 1l3 -3l.6 -.9l3.7 -7.7l1.8 2.6l1.8 -1.5l1.8 8.1l2.4 -13l2.5 8.1l3 -7.7l.6 0l1.2 2.7l5.5 -5l1.8 -17.7l2.4 25.1l3 -2.6l3.7 -2l1.2 -4.4"/>
<path stroke="#EDB120" d="M52.4 463.4l.6 .5l10.3 -2.5l5.4 -.4l6.1 -1.9l10.9 -4.3l3.6 -5.3l3.7 -1.9l1.2 -3.5l.6 -.1l.6 1.5l.6 .5l2.4 -2.1l1.8 -2.8l1.2 .8l.6 0l1.3 -.6l.6 -2.9l.6 -5.6l1.2 5l1.2 -.4l.6 -1l.6 -1.8l.6 -.5l.6 2.2l.6 1l2.4 -.8l1.3 -5.1l1.2 3.7l3.6 -2.4l1.2 -4.3l.6 .5l.6 1.6l.6 .6l3.7 -1.7l9.7 -7.2l10.3 -8l9.6 -8l7.9 -5.7l7.3 -2.3l10.3 .5l5.4 -.4l1.9 .1l7.2 -2.8l3.7 2.7l7.8 -6.6l3.7 -1.3l3.6 -3l1.8 4.4l13.4 -11.3l5.4 -6l2.4 5.3l2.5 -6.4l3 6l2.4 -7.8l4.2 -1.5l3.7 -10.3l1.8 7.8l.6 1l3 -3.1l.6 -.9l3.7 -7.9l1.8 2.6l1.8 -1.5l1.8 8.2l2.4 -13.4l2.5 8.3l3 -7.8l.6 -.1l1.2 2.7l5.5 -5.1l1.8 -18.2l2.4 25.7l3 -2.8l3.7 -2l1.2 -4.6"/>
<path stroke="#7E2F8E" d="M52.4 463.4l.6 .5l10.3 -2.5l5.4 -.4l6.1 -1.9l10.9 -4.5l3.6 -5.5l3.7 -1.8l1.2 -3.6l.6 -.1l.6 1.5l.6 .5l2.4 -2.1l1.8 -2.9l1.2 .8l.6 .1l1.3 -.7l.6 -3l.6 -5.6l1.2 5l1.2 -.4l.6 -1l.6 -1.8l.6 -.6l.6 2.3l.6 1l2.4 -.8l1.3 -5.2l1.2 3.7l3.6 -2.4l1.2 -4.3l.6 .5l.6 1.6l.6 .6l3.7 -1.8l9.7 -7.3l10.3 -8l9.6 -8.1l7.9 -5.8l7.3 -2.4l10.3 .5l7.3 -.3l7.2 -2.9l3.7 2.7l7.8 -6.9l3.7 -1.3l3.6 -3.2l1.8 4.5l13.4 -11.7l5.4 -6.2l2.4 5.4l2.5 -6.5l3 6l2.4 -8l4.2 -1.5l3.7 -10.6l1.8 7.9l.6 1.1l3 -3.2l.6 -1l3.7 -8.1l1.8 2.6l1.8 -1.6l1.8 8.4l2.4 -13.7l2.5 8.4l3 -8.1l.6 -.1l1.2 2.9l5.5 -5.4l1.8 -18.7l2.4 26.3l3 -2.9l3.7 -2.1l1.2 -4.7"/>
<path stroke="#77AC30" d="M52.4 463.4l.6 .5l10.3 -2.5l5.4 -.4l6.1 -2l10.9 -4.5l3.6 -5.5l3.7 -1.9l1.2 -3.6l.6 -.1l.6 1.5l.6 .5l2.4 -2.1l1.8 -3l1.2 .8l.6 .1l1.3 -.7l.6 -3l.6 -5.7l1.2 5.1l1.2 -.4l.6 -1l.6 -1.8l.6 -.6l.6 2.3l.6 1l2.4 -.9l1.3 -5.1l1.2 3.7l3.6 -2.5l1.2 -4.3l.6 .4l.6 1.7l.6 .6l3.7 -1.8l20 -15.5l9.6 -8.1l7.9 -5.9l7.3 -2.4l10.3 .6l7.3 -.4l7.2 -3l3.7 2.7l7.8 -7l3.7 -1.3l3.6 -3.2l1.8 4.5l13.4 -11.9l5.4 -6.3l2.4 5.4l2.5 -6.6l3 6.1l2.4 -8.2l4.2 -1.6l3.7 -10.7l1.8 8l.6 1.1l3 -3.3l.6 -.9l3.7 -8.3l1.8 2.6l1.8 -1.6l1.8 8.5l2.4 -13.9l2.5 8.5l3 -8.2l.6 -.1l1.2 2.8l5.5 -5.4l1.8 -19l2.4 26.7l3 -3l3.7 -2.2l1.2 -4.8"/>
<path stroke="#4DBEEE" d="M52.4 463.4l.6 .5l10.3 -2.5l5.4 -.4l6.1 -2l10.9 -4.6l3.6 -5.5l3.7 -1.9l1.2 -3.7l.6 -.1l.6 1.6l.6 .5l2.4 -2.2l1.8 -3l1.2 .8l.6 .1l1.3 -.7l.6 -3l.6 -5.7l1.2 5.1l1.2 -.4l.6 -1l.6 -1.8l.6 -.6l.6 2.2l.6 1l2.4 -.8l1.3 -5.2l1.2 3.7l3.6 -2.4l1.2 -4.4l.6 .5l.6 1.6l.6 .6l3.7 -1.8l20 -15.6l9.6 -8.2l7.9 -5.8l7.3 -2.4l10.3 .5l7.3 -.4l7.2 -3l3.7 2.7l7.8 -7.1l3.7 -1.4l3.6 -3.2l1.8 4.5l13.4 -12.1l5.4 -6.3l2.4 5.4l2.5 -6.7l3 6.1l2.4 -8.2l4.2 -1.6l3.7 -10.9l1.8 8.1l.6 1.1l3 -3.3l.6 -1l3.7 -8.4l1.8 2.7l1.8 -1.6l1.8 8.5l2.4 -14l2.5 8.5l3 -8.2l.6 -.2l1.2 2.9l5.5 -5.6l1.8 -19.1l2.4 26.9l3 -3l3.7 -2.2l1.2 -4.9"/>
<path stroke="#A2142F" d="M52.4 463.4l.6 .5l10.3 -2.5l5.4 -.4l6.1 -2l10.9 -4.6l3.6 -5.6l3.7 -1.9l1.2 -3.6l.6 -.1l.6 1.5l.6 .5l2.4 -2.2l1.8 -3l1.2 .9l.6 0l1.3 -.6l.6 -3.1l.6 -5.7l1.2 5.1l1.2 -.4l.6 -1l.6 -1.8l.6 -.6l.6 2.2l.6 1.1l2.4 -.9l1.3 -5.2l1.2 3.7l3.6 -2.4l1.2 -4.4l.6 .5l.6 1.6l.6 .7l3.7 -1.9l20 -15.6l9.6 -8.2l7.9 -5.9l7.3 -2.4l10.3 .5l7.3 -.3l7.2 -3.1l3.7 2.7l7.8 -7.1l3.7 -1.4l3.6 -3.2l1.8 4.5l13.4 -12.1l5.4 -6.4l2.4 5.4l2.5 -6.7l3 6.1l2.4 -8.2l4.2 -1.7l3.7 -10.9l1.8 8.2l.6 1l3 -3.3l.6 -1l3.7 -8.4l1.8 2.7l1.8 -1.7l1.8 8.6l2.4 -14.1l2.5 8.6l3 -8.3l.6 -.1l1.2 2.9l5.5 -5.6l1.8 -19.2l2.4 26.9l3 -3l3.7 -2.2l1.2 -4.9"/>
<path stroke="#0072BD" d="M52.4 463.4l.6 .5l10.3 -2.5l5.4 -.4l6.1 -2l10.9 -4.7l3.6 -5.6l3.7 -2l1.2 -3.6l.6 -.2l.6 1.6l.6 .5l2.4 -2.2l1.8 -3l1.2 .8l.6 .1l1.3 -.7l.6 -3l.6 -5.8l1.2 5.1l1.2 -.4l.6 -1l.6 -1.8l.6 -.7l.6 2.3l.6 1.1l2.4 -.9l1.3 -5.2l1.2 3.7l3.6 -2.5l1.2 -4.4l.6 .5l.6 1.6l.6 .7l3.7 -1.9l20 -15.7l9.6 -8.3l7.9 -5.9l7.3 -2.4l10.3 .5l7.3 -.4l7.2 -3.1l3.7 2.7l7.8 -7.2l3.7 -1.5l3.6 -3.3l1.8 4.6l13.4 -12.4l5.4 -6.5l2.4 5.5l2.5 -6.8l3 6.2l2.4 -8.4l4.2 -1.7l3.7 -11l1.8 8.2l.6 1l3 -3.3l.6 -1l3.7 -8.5l1.8 2.6l1.8 -1.6l1.8 8.6l2.4 -14.2l2.5 8.6l3 -8.4l.6 -.1l1.2 2.9l5.5 -5.7l1.8 -19.5l2.4 27.3l3 -3.1l3.7 -2.3l1.2 -4.9"/>
<path stroke="#D95319" d="M52.4 463.4l.6 .5l10.3 -2.5l5.4 -.4l6.1 -2l10.9 -4.8l3.6 -5.6l3.7 -2l1.2 -3.6l.6 -.1l.6 1.5l.6 .5l2.4 -2.2l1.8 -3l1.2 .8l.6 .1l1.3 -.7l.6 -3.1l.6 -5.8l1.2 5.2l1.2 -.4l.6 -1l.6 -1.9l.6 -.6l.6 2.3l.6 1l2.4 -.8l1.3 -5.3l1.2 3.8l3.6 -2.5l1.2 -4.5l.6 .5l.6 1.6l.6 .7l3.7 -1.8l20 -15.8l9.6 -8.3l7.9 -5.9l7.3 -2.5l10.3 .5l7.3 -.4l7.2 -3.1l3.7 2.7l7.8 -7.3l3.7 -1.5l3.6 -3.3l1.8 4.6l13.4 -12.5l5.4 -6.5l2.4 5.5l2.5 -6.9l3 6.2l2.4 -8.4l4.2 -1.7l3.7 -11.1l1.8 8.3l.6 1l3 -3.4l.6 -1l3.7 -8.6l1.8 2.7l1.8 -1.7l1.8 8.7l2.4 -14.3l2.5 8.7l3 -8.5l.6 -.1l1.2 2.9l5.5 -5.8l1.8 -19.5l2.4 27.4l3 -3.1l3.7 -2.3l1.2 -5"/>
<path stroke="#EDB120" d="M52.4 463.4l.6 .5l10.3 -2.5l5.4 -.4l6.1 -2l10.9 -4.8l3.6 -5.7l3.7 -2l1.2 -3.6l.6 -.2l.6 1.6l.6 .5l2.4 -2.2l1.8 -3.1l1.2 .9l.6 0l1.3 -.7l.6 -3l.6 -5.9l1.2 5.2l1.2 -.4l.6 -1l.6 -1.9l.6 -.6l.6 2.3l.6 1.1l2.4 -.9l1.3 -5.3l1.2 3.8l3.6 -2.5l1.2 -4.5l.6 .5l.6 1.6l.6 .7l3.7 -1.9l20 -15.8l9.6 -8.3l7.9 -6l7.3 -2.4l10.3 .5l7.3 -.4l7.2 -3.2l3.7 2.6l7.8 -7.3l3.7 -1.5l3.6 -3.3l1.8 4.6l13.4 -12.6l5.4 -6.6l2.4 5.5l2.5 -6.9l3 6.2l2.4 -8.4l4.2 -1.8l3.7 -11.2l1.8 8.3l.6 1l3 -3.4l.6 -1l3.7 -8.6l1.8 2.6l1.8 -1.6l1.8 8.7l2.4 -14.5l2.5 8.8l3 -8.6l.6 -.1l1.2 2.9l5.5 -5.8l1.8 -19.7l2.4 27.6l3 -3.1l3.7 -2.4l1.2 -5"/>
<path stroke="#7E2F8E" d="M52.4 463.4l.6 .5l10.3 -2.5l5.4 -.4l6.1 -2.1l10.9 -4.8l3.6 -5.8l3.7 -1.9l1.2 -3.8l.6 -.1l.6 1.6l.6 .5l2.4 -2.3l1.8 -3l1.2 .8l.6 .1l1.3 -.7l.6 -3.1l.6 -5.9l1.2 5.2l1.2 -.4l.6 -1l.6 -1.9l.6 -.6l.6 2.3l.6 1l2.4 -.8l1.3 -5.4l1.2 3.8l3.6 -2.5l1.2 -4.5l.6 .5l.6 1.6l.6 .7l3.7 -1.9l20 -15.9l9.6 -8.4l7.9 -6l7.3 -2.5l10.3 .6l7.3 -.5l7.2 -3.2l3.7 2.6l7.8 -7.4l3.7 -1.6l3.6 -3.4l1.8 4.6l13.4 -12.7l5.4 -6.8l2.4 5.5l2.5 -6.9l3 6.2l2.4 -8.5l4.2 -1.8l3.7 -11.4l1.8 8.4l.6 1l3 -3.4l.6 -1.1l3.7 -8.7l1.8 2.7l1.8 -1.8l1.8 8.9l2.4 -14.7l2.5 8.9l3 -8.7l.6 -.1l1.2 2.9l5.5 -5.9l1.8 -20l2.4 27.9l3 -3.2l3.7 -2.4l1.2 -5.1"/>
<path stroke="#77AC30" d="M52.4 463.4l.6 .5l10.3 -2.5l5.4 -.4l6.1 -2.1l10.9 -4.8l3.6 -5.8l3.7 -1.9l1.2 -3.8l.6 -.1l.6 1.6l.6 .5l2.4 -2.3l1.8 -3l1.2 .8l.6 .1l1.3 -.7l.6 -3.1l.6 -5.9l1.2 5.2l1.2 -.4l.6 -1l.6 -1.9l.6 -.6l.6 2.3l.6 1l2.4 -.8l1.3 -5.4l1.2 3.8l3.6 -2.5l1.2 -4.5l.6 .5l.6 1.6l.6 .7l3.7 -1.9l20 -15.9l9.6 -8.4l7.9 -6l7.3 -2.5l10.3 .6l7.3 -.5l7.2 -3.2l3.7 2.6l7.8 -7.4l3.7 -1.6l3.6 -3.4l1.8 4.6l13.4 -12.8l5.4 -6.7l2.4 5.5l2.5 -6.9l3 6.2l2.4 -8.5l4.2 -1.8l3.7 -11.4l1.8 8.4l.6 1l3 -3.5l.6 -1l3.7 -8.7l1.8 2.7l1.8 -1.8l1.8 8.8l2.4 -14.6l2.5 8.9l3 -8.7l.6 -.2l1.2 3l5.5 -5.9l1.8 -20l2.4 27.9l3 -3.2l3.7 -2.4l1.2 -5.1"/>
<path stroke="#4DBEEE" d="M52.4 463.4l.6 .5l10.3 -2.5l5.4 -.4l6.1 -2.1l10.9 -4.9l3.6 -5.8l3.7 -2l1.2 -3.8l.6 -.1l.6 1.6l.6 .5l2.4 -2.3l1.8 -3.1l1.2 .8l.6 .1l1.3 -.7l.6 -3.1l.6 -5.9l1.2 5.2l1.2 -.4l.6 -1l.6 -1.9l.6 -.6l.6 2.3l.6 1l2.4 -.9l1.3 -5.3l1.2 3.8l3.6 -2.6l1.2 -4.5l.6 .5l.6 1.7l.6 .6l3.7 -1.9l20 -16l9.6 -8.5l7.9 -6l7.3 -2.5l10.3 .5l7.3 -.4l7.2 -3.4l3.7 2.7l7.8 -7.6l3.7 -1.6l3.6 -3.4l1.8 4.6l13.4 -13l5.4 -6.8l2.4 5.5l2.5 -7l3 6.2l2.4 -8.6l4.2 -1.9l3.7 -11.5l1.8 8.5l.6 1l3 -3.5l.6 -1.1l3.7 -8.9l1.8 2.7l1.8 -1.7l1.8 8.9l2.4 -14.8l2.5 8.9l3 -8.8l.6 -.2l1.2 3l5.5 -6l1.8 -20.3l2.4 28.3l3 -3.3l3.7 -2.5l1.2 -5.1"/>
<path stroke="#A2142F" d="M52.4 463.4l.6 .5l10.3 -2.5l5.4 -.4l6.1 -2.1l10.9 -5l3.6 -5.8l3.7 -2l1.2 -3.8l.6 -.1l.6 1.6l.6 .5l2.4 -2.3l1.8 -3.1l1.2 .8l.6 .1l1.3 -.7l.6 -3.1l.6 -5.9l1.2 5.2l1.2 -.4l.6 -1.1l.6 -1.9l.6 -.6l.6 2.3l.6 1.1l2.4 -.9l1.3 -5.4l1.2 3.8l3.6 -2.5l1.2 -4.6l.6 .5l.6 1.7l.6 .7l3.7 -1.9l20 -16.2l9.6 -8.4l7.9 -6.1l7.3 -2.5l10.3 .6l7.3 -.5l7.2 -3.4l3.7 2.7l7.8 -7.6l3.7 -1.6l3.6 -3.5l1.8 4.6l13.4 -13.1l5.4 -6.9l2.4 5.6l2.5 -7.1l3 6.3l2.4 -8.7l4.2 -1.9l3.7 -11.6l1.8 8.5l.6 1.1l3 -3.6l.6 -1.1l3.7 -8.9l1.8 2.7l1.8 -1.8l1.8 9l2.4 -14.9l2.5 8.9l3 -8.8l.6 -.2l1.2 3l5.5 -6.1l1.8 -20.3l2.4 28.3l3 -3.3l3.7 -2.4l1.2 -5.3"/>
<path stroke="#0072BD" d="M52.4 463.4l.6 .5l10.3 -2.5l5.4 -.4l6.1 -2.1l10.9 -5.1l3.6 -5.8l3.7 -2l1.2 -3.8l.6 -.1l.6 1.6l.6 .5l2.4 -2.3l1.8 -3.2l1.2 .9l.6 0l1.3 -.7l.6 -3.1l.6 -5.9l1.2 5.2l1.2 -.4l.6 -1l.6 -1.9l.6 -.7l.6 2.4l.6 1l2.4 -.9l1.3 -5.4l1.2 3.9l3.6 -2.6l1.2 -4.6l.6 .5l.6 1.7l.6 .7l3.7 -2l20 -16.1l9.6 -8.5l7.9 -6.1l7.3 -2.5l10.3 .5l7.3 -.4l7.2 -3.5l3.7 2.7l7.8 -7.7l3.7 -1.7l3.6 -3.5l1.8 4.7l13.4 -13.3l5.4 -6.9l2.4 5.6l2.5 -7.2l3 6.3l2.4 -8.8l4.2 -1.9l3.7 -11.6l1.8 8.5l.6 1.1l3 -3.6l.6 -1.1l3.7 -9l1.8 2.7l1.8 -1.8l1.8 9l2.4 -15l2.5 9l3 -8.9l.6 -.2l1.2 3l5.5 -6.1l1.8 -20.5l2.4 28.5l3 -3.3l3.7 -2.5l1.2 -5.3"/>
<path stroke="#D95319" d="M52.4 463.4l.6 .5l10.3 -2.5l5.4 -.4l6.1 -2.1l10.9 -5.1l3.6 -5.9l3.7 -2.1l1.2 -3.7l.6 -.2l.6 1.6l.6 .5l2.4 -2.3l1.8 -3.2l1.2 .9l.6 0l1.3 -.6l.6 -3.2l.6 -6l1.2 5.3l1.2 -.4l.6 -1.1l.6 -1.9l.6 -.6l.6 2.3l.6 1.1l2.4 -.9l1.3 -5.4l1.2 3.8l3.6 -2.6l1.2 -4.6l.6 .5l.6 1.7l.6 .7l3.7 -1.9l20 -16.3l9.6 -8.6l7.9 -6.1l7.3 -2.5l10.3 .6l7.3 -.5l7.2 -3.5l3.7 2.6l7.8 -7.7l3.7 -1.7l3.6 -3.6l1.8 4.7l13.4 -13.4l5.4 -7.1l2.4 5.6l2.5 -7.2l3 6.4l2.4 -8.9l4.2 -2l3.7 -11.7l1.8 8.6l.6 1l3 -3.6l.6 -1.1l3.7 -9.1l1.8 2.7l1.8 -1.8l1.8 9.1l2.4 -15.2l2.5 9.1l3 -9l.6 -.2l1.2 3l5.5 -6.2l1.8 -20.7l2.4 28.8l3 -3.4l3.7 -2.6l1.2 -5.3"/>
<path stroke="#EDB120" d="M52.4 463.4l.6 .5l10.3 -2.5l5.4 -.4l6.1 -2.2l10.9 -5.1l3.6 -5.8l3.7 -2.1l1.2 -3.8l.6 -.1l.6 1.5l.6 .5l2.4 -2.3l1.8 -3.1l1.2 .8l.6 .1l1.3 -.7l.6 -3.2l.6 -6l1.2 5.3l1.2 -.4l.6 -1l.6 -2l.6 -.6l.6 2.4l.6 1l2.4 -.9l1.3 -5.4l1.2 3.8l3.6 -2.6l1.2 -4.6l.6 .5l.6 1.7l.6 .7l3.7 -1.9l20 -16.4l9.6 -8.5l7.9 -6.1l7.3 -2.5l10.3 .5l7.3 -.5l7.2 -3.5l3.7 2.6l7.8 -7.8l3.7 -1.7l3.6 -3.5l1.8 4.6l13.4 -13.4l5.4 -7.1l2.4 5.6l2.5 -7.2l3 6.3l2.4 -8.9l4.2 -2l3.7 -11.7l1.8 8.6l.6 1l3 -3.7l.6 -1l3.7 -9.2l1.8 2.8l1.8 -1.9l1.8 9.1l2.4 -15.2l2.5 9.1l3 -9.1l.6 -.1l1.2 3l5.5 -6.3l1.8 -20.7l2.4 28.9l3 -3.4l3.7 -2.6l1.2 -5.4"/>
<path stroke="#7E2F8E" d="M52.4 463.4l.6 .5l10.3 -2.5l5.4 -.4l6.1 -2.2l10.9 -5.2l3.6 -5.9l3.7 -2.1l1.2 -3.8l.6 -.1l.6 1.6l.6 .5l2.4 -2.4l1.8 -3.1l1.2 .8l.6 0l1.3 -.7l.6 -3.1l.6 -6l1.2 5.3l1.2 -.5l.6 -1l.6 -1.9l.6 -.7l.6 2.4l.6 1l2.4 -.9l1.3 -5.4l1.2 3.8l3.6 -2.6l1.2 -4.6l.6 .5l.6 1.7l.6 .7l3.7 -2l20 -16.4l9.6 -8.6l7.9 -6.2l7.3 -2.5l10.3 .5l7.3 -.5l7.2 -3.5l3.7 2.6l7.8 -7.9l3.7 -1.8l3.6 -3.6l1.8 4.7l13.4 -13.7l5.4 -7.1l2.4 5.6l2.5 -7.3l3 6.3l2.4 -9l4.2 -2l3.7 -11.9l1.8 8.7l.6 1.1l3 -3.8l.6 -1.1l3.7 -9.2l1.8 2.7l1.8 -1.8l1.8 9.1l2.4 -15.4l2.5 9.2l3 -9.2l.6 -.1l1.2 3l5.5 -6.4l1.8 -21l2.4 29.2l3 -3.5l3.7 -2.6l1.2 -5.4"/>
<path stroke="#77AC30" d="M52.4 463.4l.6 .5l10.3 -2.5l5.4 -.4l6.1 -2.2l10.9 -5.2l3.6 -5.9l3.7 -2.1l1.2 -3.8l.6 -.2l.6 1.6l.6 .5l2.4 -2.3l1.8 -3.2l1.2 .9l.6 0l1.3 -.7l.6 -3.2l.6 -6l1.2 5.3l1.2 -.4l.6 -1.1l.6 -1.9l.6 -.6l.6 2.3l.6 1.1l2.4 -.9l1.3 -5.5l1.2 3.9l3.6 -2.7l1.2 -4.6l.6 .5l.6 1.7l.6 .7l3.7 -1.9l20 -16.5l9.6 -8.6l7.9 -6.1l7.3 -2.6l10.3 .6l7.3 -.5l7.2 -3.6l3.7 2.6l7.8 -7.9l3.7 -1.8l3.6 -3.6l1.8 4.7l13.4 -13.7l5.4 -7.2l2.4 5.6l2.5 -7.3l3 6.4l2.4 -9l4.2 -2.1l3.7 -11.9l1.8 8.7l.6 1.1l3 -3.8l.6 -1.1l3.7 -9.3l1.8 2.8l1.8 -1.9l1.8 9.2l2.4 -15.4l2.5 9.2l3 -9.2l.6 -.2l1.2 3.1l5.5 -6.4l1.8 -21.1l2.4 29.3l3 -3.5l3.7 -2.7l1.2 -5.4"/>
<path stroke="#4DBEEE" d="M52.4 463.4l.6 .5l10.3 -2.5l5.4 -.4l6.1 -2.2l10.9 -5.3l3.6 -5.9l3.7 -2.2l1.2 -3.8l.6 -.2l.6 1.7l.6 .5l2.4 -2.4l1.8 -3.2l1.2 .9l.6 0l1.3 -.7l.6 -3.2l.6 -6.1l1.2 5.4l1.2 -.4l.6 -1.1l.6 -2l.6 -.6l.6 2.4l.6 1l2.4 -.9l1.3 -5.5l1.2 3.9l3.6 -2.7l1.2 -4.6l.6 .5l.6 1.7l.6 .7l3.7 -2l20 -16.5l9.6 -8.7l7.9 -6.1l7.3 -2.6l10.3 .5l7.3 -.5l7.2 -3.6l3.7 2.6l7.8 -8.1l3.7 -1.7l3.6 -3.7l1.8 4.7l13.4 -13.9l5.4 -7.3l2.4 5.6l2.5 -7.4l3 6.4l2.4 -9.1l4.2 -2l3.7 -12.1l1.8 8.7l.6 1.1l3 -3.8l.6 -1.1l3.7 -9.4l1.8 2.8l1.8 -1.9l1.8 9.2l2.4 -15.5l2.5 9.2l3 -9.3l.6 -.2l1.2 3.1l5.5 -6.5l1.8 -21.3l2.4 29.6l3 -3.6l3.7 -2.7l1.2 -5.5"/>
<path stroke="#A2142F" d="M52.4 463.4l.6 .5l10.3 -2.5l5.4 -.4l6.1 -2.2l10.9 -5.3l3.6 -6l3.7 -2.1l1.2 -3.8l.6 -.2l.6 1.6l.6 .5l2.4 -2.3l1.8 -3.2l1.2 .8l.6 .1l1.3 -.8l.6 -3.2l.6 -6l1.2 5.3l1.2 -.4l.6 -1.1l.6 -1.9l.6 -.7l.6 2.4l.6 1.1l2.4 -1l1.3 -5.4l1.2 3.8l3.6 -2.6l1.2 -4.7l.6 .5l.6 1.7l.6 .7l3.7 -1.9l20 -16.6l9.6 -8.6l7.9 -6.2l7.3 -2.6l10.3 .5l7.3 -.5l7.2 -3.7l3.7 2.6l7.8 -8l3.7 -1.8l3.6 -3.7l1.8 4.7l13.4 -13.9l5.4 -7.3l2.4 5.6l2.5 -7.4l3 6.4l2.4 -9.1l4.2 -2.1l3.7 -12.1l1.8 8.8l.6 1.1l3 -3.8l.6 -1.1l3.7 -9.5l1.8 2.8l1.8 -1.9l1.8 9.3l2.4 -15.6l2.5 9.2l3 -9.3l.6 -.2l1.2 3.1l5.5 -6.5l1.8 -21.4l2.4 29.6l3 -3.5l3.7 -2.7l1.2 -5.5"/>
<path stroke="#0072BD" d="M52.4 463.4l.6 .5l10.3 -2.5l5.4 -.4l6.1 -2.2l10.9 -5.4l3.6 -6l3.7 -2.1l1.2 -3.9l.6 -.1l.6 1.6l.6 .5l2.4 -2.4l1.8 -3.2l1.2 .9l.6 0l1.3 -.7l.6 -3.2l.6 -6.1l1.2 5.4l1.2 -.5l.6 -1.1l.6 -1.9l.6 -.6l.6 2.3l.6 1.1l2.4 -.9l1.3 -5.6l1.2 3.9l3.6 -2.6l1.2 -4.7l.6 .5l.6 1.7l.6 .7l3.7 -2l20 -16.6l9.6 -8.7l7.9 -6.2l7.3 -2.6l10.3 .6l7.3 -.6l7.2 -3.7l3.7 2.6l7.8 -8.1l3.7 -1.8l3.6 -3.8l1.8 4.8l13.4 -14.1l5.4 -7.4l2.4 5.7l2.5 -7.5l3 6.4l2.4 -9.2l4.2 -2.1l3.7 -12.2l1.8 8.8l.6 1.1l3 -3.8l.6 -1.1l3.7 -9.5l1.8 2.7l1.8 -1.9l1.8 9.3l2.4 -15.7l2.5 9.3l3 -9.4l.6 -.2l1.2 3.1l5.5 -6.6l1.8 -21.5l2.4 29.8l3 -3.6l3.7 -2.7l1.2 -5.6"/>
<path stroke="#D95319" d="M52.4 463.4l.6 .5l10.3 -2.5l5.4 -.4l6.1 -2.2l10.9 -5.4l3.6 -6l3.7 -2.2l1.2 -3.8l.6 -.2l.6 1.6l.6 .5l2.4 -2.4l1.8 -3.2l1.2 .9l.6 0l1.3 -.7l.6 -3.2l.6 -6.1l1.2 5.3l1.2 -.4l.6 -1.1l.6 -1.9l.6 -.7l.6 2.4l.6 1.1l2.4 -1l1.3 -5.5l1.2 3.9l3.6 -2.7l1.2 -4.6l.6 .4l.6 1.8l.6 .6l3.7 -1.9l20 -16.7l9.6 -8.7l7.9 -6.2l7.3 -2.6l10.3 .5l7.3 -.5l7.2 -3.8l3.7 2.6l7.8 -8.2l3.7 -1.8l3.6 -3.8l1.8 4.8l13.4 -14.2l5.4 -7.4l2.4 5.7l2.5 -7.6l3 6.5l2.4 -9.3l4.2 -2.1l3.7 -12.3l1.8 8.9l.6 1.1l3 -3.9l.6 -1.1l3.7 -9.6l1.8 2.8l1.8 -1.9l1.8 9.3l2.4 -15.8l2.5 9.4l3 -9.5l.6 -.2l1.2 3.1l5.5 -6.7l1.8 -21.6l2.4 30l3 -3.6l3.7 -2.8l1.2 -5.6"/>
<path stroke="#EDB120" d="M52.4 496.9l12.1 -.2l2.4 -.9l2.4 -1.7l2.5 -1l29 -.4l36.4 .9l63 1.9l46 1.1l48.5 .4" stroke-width="1.3"/>
<path stroke="#7E2F8E" d="M52.4 496.3l12.1 -.9l2.4 -.8l2.4 -1.2l2.5 -.8l29 -.1l35.2 .6l64.2 2.3l41.8 1l52.7 .6" stroke-width="1.3"/>
<path stroke="#77AC30" d="M52.4 495.7l12.1 -1.6l7.3 -1.9l4.8 -.2l58.8 .7l18.1 .9l44.9 1.7l43.6 1.1l52.7 .5" stroke-width="1.3"/>
<path stroke="#4DBEEE" d="M52.4 495.2l15.7 -3l4.9 -.6l3.6 -.1l20 .5l7.9 -.1l30.9 .4l20.6 1.2l42.4 1.7l16.9 .4l33.3 .8l28.5 .3l7.3 -.1l2.4 .2l7.9 0" stroke-width="1.3"/>
<path stroke="#A2142F" d="M52.4 494.6l15.7 -3l4.3 -.5l3.6 -.1l21.2 .8l7.3 -.2l30.9 .3l20 1.3l32.1 1.4l27.8 1l33.3 .7l28.5 .3l5.5 0l1.8 -.2l2.4 .3l7.9 0" stroke-width="1.3"/>
<path stroke="#0072BD" d="M52.4 494.0l15.1 -2.9l3.7 -.5l4.2 -.1l22.4 1l6.7 -.1l30.9 0l20 1.6l32.1 1.5l27.8 1l33.3 .7l28.5 .3l5.5 0l1.8 -.2l2.4 .3l7.9 .1" stroke-width="1.3"/>
<path stroke="#D95319" d="M52.4 493.4l15.1 -2.9l3 -.4l4.3 -.2l23 1.4l6.7 -.2l30.9 -.1l20 1.7l32.1 1.7l27.8 1l33.3 .8l3.7 -.1l2.4 .1l7.3 0l5.4 .2l2.4 -.1l7.3 .2l5.5 0l1.8 -.3l2.4 .4l7.9 0" stroke-width="1.3"/>
<path stroke="#EDB120" d="M52.4 492.8l14.5 -2.8l3 -.4l4.3 -.2l23.6 1.7l6.7 -.3l30.9 -.2l20 1.9l32.1 1.7l27.8 1.1l26.7 .7l6.6 .1l3.7 -.1l2.4 .2l7.3 -.1l5.4 .3l2.4 -.2l2.5 .1l10.3 .1l1.8 -.3l2.4 .4l7.9 0" stroke-width="1.3"/>
<path stroke="#7E2F8E" d="M52.4 492.2l14.5 -2.8l3.6 -.5l3.7 -.1l13.3 1.3l10.3 .7l5.5 -.1l1.2 -.2l9.1 -.2l22.4 -.1l17.5 1.9l30.3 1.8l16.4 .8l48.4 1.3l3.7 -.1l2.4 .2l7.3 -.1l5.4 .3l2.4 -.2l2.5 .2l4.8 0l5.5 0l1.8 -.4l2.4 .6l7.9 -.1" stroke-width="1.3"/>
<path stroke="#77AC30" d="M52.4 491.6l13.3 -2.6l4.2 -.6l3.7 -.2l13.9 1.5l10.3 .9l5.5 -.2l1.2 -.2l9.1 -.2l22.4 -.2l17.5 2.1l30.3 1.9l16.4 .8l15.1 .5l33.3 .8l3.7 -.1l2.4 .2l7.3 -.1l5.4 .3l2.4 -.2l2.5 .2l4.8 .1l5.5 -.1l1.8 -.4l2.4 .6l7.9 -.1" stroke-width="1.3"/>
<path stroke="#4DBEEE" d="M52.4 491.0l13.3 -2.6l4.2 -.6l3.7 -.1l13.9 1.7l10.3 .9l5.5 -.2l1.2 -.2l1.2 .1l7.9 -.4l22.4 -.3l5.4 .6l9.1 1.4l3 .3l30.3 2l16.4 .9l15.1 .6l18.8 .3l2.4 .2l2.5 -.1l3 .2l6.6 .2l3.7 -.2l2.4 .2l7.3 0l5.4 .3l2.4 -.3l2.5 .2l4.8 .1l5.5 -.1l1.8 -.4l2.4 .6l7.9 0" stroke-width="1.3"/>
<path stroke="#A2142F" d="M52.4 490.4l13.3 -2.6l4.2 -.6l3.7 -.1l13.9 1.9l10.3 1.1l5.5 -.2l1.2 -.3l1.2 .1l7.9 -.4l22.4 -.4l5.4 .6l9.1 1.6l3 .3l30.3 2.1l16.4 .9l13.3 .4l1.8 .2l18.8 .3l2.4 .2l2.5 -.1l3 .3l6.6 .1l3.7 -.2l2.4 .3l7.3 -.1l3.6 .1l1.8 .2l2.4 -.3l2.5 .3l3 -.1l1.8 .1l5.5 -.1l1.8 -.5l2.4 .8l7.9 -.1" stroke-width="1.3"/>
<path stroke="#0072BD" d="M52.4 489.8l13.3 -2.6l4.2 -.6l3.7 0l3 .3l10.3 1.7l10.9 1.2l5.5 -.2l1.2 -.3l1.2 .1l7.9 -.5l22.4 -.4l5.4 .7l9.1 1.6l3 .3l30.3 2.3l16.4 .9l13.3 .4l1.8 .2l18.8 .3l2.4 .2l2.5 -.1l3 .3l2.4 -.1l4.2 .2l3.7 -.2l2.4 .3l3 0l4.3 -.1l3.6 .1l1.8 .2l2.4 -.3l2.5 .3l10.3 0l1.8 -.6l2.4 .8l7.9 -.1" stroke-width="1.3"/>
<path stroke="#D95319" d="M52.4 489.2l12.1 -2.5l4.8 -.6l3.7 -.1l3 .3l11.5 2l10.3 1.3l5.5 -.3l1.2 -.3l1.2 .1l7.9 -.5l13.9 -.2l7.3 -.4l6.6 .8l9.1 1.7l3 .4l30.3 2.3l14.6 .9l15.1 .5l1.8 .2l18.8 .3l2.4 .3l2.5 -.2l3 .3l2.4 -.1l4.2 .2l3.7 -.2l2.4 .3l7.3 -.1l3.6 .1l1.8 .3l2.4 -.4l2.5 .3l10.3 0l1.8 -.6l2.4 .8l7.9 -.1" stroke-width="1.3"/>
<path stroke="#EDB120" d="M52.4 488.6l12.1 -2.5l4.8 -.6l3.7 -.1l3 .4l11.5 2.1l10.3 1.4l5.5 -.2l1.2 -.4l1.2 .1l6.6 -.3l1.3 -.2l13.9 -.3l7.3 -.4l6.6 .8l9.1 1.9l3 .4l30.3 2.4l14.6 .9l15.1 .5l1.8 .2l18.8 .3l2.4 .3l2.5 -.2l3 .3l2.4 -.1l4.2 .3l3.7 -.3l2.4 .3l7.3 -.1l3.6 .1l1.8 .3l2.4 -.4l2.5 .4l10.3 -.1l1.8 -.6l2.4 .9l7.9 -.1" stroke-width="1.3"/>
<path stroke="#7E2F8E" d="M52.4 488.0l12.1 -2.5l4.8 -.6l3.7 -.1l3 .4l11.5 2.4l10.3 1.5l5.5 -.3l1.2 -.4l1.2 .1l6.6 -.4l1.3 -.2l1.2 .1l4.8 -.3l7.9 -.1l7.3 -.4l2.4 .1l4.2 .7l9.1 2l3 .4l30.3 2.6l14.6 .9l15.1 .5l1.8 .2l18.8 .3l2.4 .3l2.5 -.2l3 .4l2.4 -.2l4.2 .3l3.7 -.3l2.4 .4l7.3 -.2l3.6 .1l1.8 .4l2.4 -.5l2.5 .4l3 -.2l1.8 .2l5.5 -.1l1.8 -.7l2.4 1l7.9 -.1" stroke-width="1.3"/>
<path stroke="#77AC30" d="M52.4 487.4l11.5 -2.4l5.4 -.7l3.1 0l3 .3l12.1 2.6l10.3 1.7l5.5 -.4l1.2 -.4l1.2 .1l6.6 -.4l1.3 -.2l1.2 .1l4.8 -.4l7.9 -.1l7.3 -.5l2.4 .2l4.2 .7l9.1 2.1l3 .5l30.3 2.6l14.6 1l15.1 .5l1.8 .3l18.8 .2l2.4 .3l2.5 -.2l3 .4l2.4 -.1l4.2 .2l3.7 -.3l2.4 .4l7.3 -.2l3.6 .1l1.8 .4l2.4 -.5l2.5 .4l3 -.1l1.8 .2l5.5 -.2l1.8 -.7l2.4 1l7.9 -.1" stroke-width="1.3"/>
<path stroke="#4DBEEE" d="M52.4 486.8l11.5 -2.4l5.4 -.7l2.5 0l3 .2l11.5 2.8l9.7 1.7l1.8 .2l5.5 -.3l1.2 -.5l1.2 .2l3 -.4l3.6 -.1l1.3 -.3l1.2 .1l4.8 -.4l7.3 0l8.5 -.6l6 1l9.1 2.2l3 .4l30.3 2.8l14.6 1l15.1 .5l1.8 .3l18.8 .2l2.4 .3l2.5 -.1l3 .3l2.4 -.1l4.2 .2l3.7 -.3l2.4 .4l3.6 0l3.7 -.2l3.6 .2l1.8 .3l2.4 -.5l2.5 .4l3 -.1l1.8 .2l5.5 -.1l1.8 -.8l2.4 1.1l7.9 -.2" stroke-width="1.3"/>
<path stroke="#A2142F" d="M52.4 486.2l11.5 -2.4l5.4 -.7l2.5 0l3 .3l11.5 2.9l9.7 1.9l1.8 .2l4.2 -.3l1.3 -.1l1.2 -.5l1.2 .2l3 -.4l3.6 -.1l1.3 -.3l1.2 .1l4.8 -.4l7.3 -.1l6.6 -.6l1.9 0l6 1l9.1 2.3l3 .5l30.3 2.8l14.6 1.1l15.1 .5l1.8 .3l13.4 .3l5.4 -.1l2.4 .4l2.5 -.2l3 .3l2.4 -.1l4.2 .2l3.7 -.3l2.4 .4l3.6 .1l3.7 -.3l3.6 .2l1.8 .4l2.4 -.6l2.5 .5l3 -.2l1.8 .2l5.5 -.1l1.8 -.9l2.4 1.2l7.9 -.1" stroke-width="1.3"/>
<path stroke="#0072BD" d="M52.4 485.6l11.5 -2.4l5.4 -.7l2.5 0l3 .3l11.5 3.1l9.7 2l1.8 .2l4.2 -.2l1.3 -.2l1.2 -.5l1.2 .2l3 -.4l3.6 -.1l1.3 -.3l1.2 .1l4.8 -.5l7.3 -.1l6.6 -.6l1.9 0l6 1l9.1 2.4l3 .5l30.3 3l14.6 1.1l15.1 .5l1.8 .3l13.4 .3l5.4 -.1l2.4 .4l2.5 -.2l3 .3l2.4 -.1l4.2 .3l3.7 -.4l2.4 .5l3.6 0l3.7 -.2l1.8 .1l1.8 0l1.8 .4l2.4 -.6l2.5 .5l3 -.2l1.8 .3l5.5 -.2l1.8 -.9l2.4 1.2l7.9 -.1" stroke-width="1.3"/>
<path stroke="#D95319" d="M52.4 485.1l11.5 -2.5l4.8 -.6l2.5 -.1l3.6 .4l11.5 3.3l9.7 2.1l1.8 .2l4.2 -.3l1.3 -.1l1.2 -.6l1.2 .2l3 -.4l3.6 -.2l1.3 -.3l1.2 .1l4.8 -.5l1.8 .1l5.5 -.2l6.6 -.6l1.9 -.1l6 1.1l9.1 2.6l3 .5l30.3 3.1l14.6 1l15.1 .6l1.8 .3l13.4 .3l5.4 0l2.4 .3l2.5 -.2l3 .4l2.4 -.2l4.2 .3l3.7 -.4l2.4 .5l3.6 0l3.7 -.2l1.8 .2l1.8 -.1l1.8 .4l2.4 -.6l2.5 .5l3 -.2l1.8 .3l5.5 -.2l1.8 -.9l2.4 1.3l7.9 -.2" stroke-width="1.3"/>
<path stroke="#EDB120" d="M52.4 484.5l11.5 -2.5l4.8 -.6l2.5 -.1l3.6 .5l11.5 3.4l9.7 2.2l1.8 .2l4.2 -.2l1.3 -.2l1.2 -.6l1.2 .2l3 -.4l3.6 -.2l1.3 -.3l1.2 .1l4.8 -.5l1.8 .1l5.5 -.2l6.6 -.8l1.9 0l6 1.1l9.1 2.7l3 .5l30.3 3.2l14.6 1.1l15.1 .6l1.8 .3l13.4 .3l5.4 0l2.4 .3l2.5 -.2l3 .4l2.4 -.2l4.2 .3l3.7 -.4l2.4 .5l3.6 0l3.7 -.2l1.8 .2l1.8 -.1l1.8 .5l2.4 -.7l2.5 .6l3 -.2l1.8 .2l5.5 -.2l1.8 -.9l2.4 1.3l7.9 -.2" stroke-width="1.3"/>
<path stroke="#7E2F8E" d="M52.4 483.9l11.5 -2.5l4.8 -.6l2.5 -.1l3.6 .5l5.4 1.9l6.1 1.7l7.9 1.8l1.8 .6l1.8 .2l4.2 -.3l1.3 -.2l1.2 -.6l1.2 .2l3 -.4l3.6 -.2l1.3 -.4l1.2 .1l4.8 -.5l1.8 .1l5.5 -.2l6.6 -.8l1.9 0l2.4 .3l3.6 .9l9.1 2.7l3 .6l30.3 3.3l14.6 1.1l15.1 .6l1.8 .4l13.4 .3l5.4 -.1l2.4 .4l2.5 -.3l3 .4l2.4 -.2l4.2 .3l3.7 -.4l2.4 .5l3.6 .1l3.7 -.3l1.8 .2l1.8 -.1l1.8 .5l2.4 -.6l2.5 .5l3 -.2l1.8 .2l5.5 -.1l1.8 -1.1l2.4 1.5l7.9 -.3" stroke-width="1.3"/>
<path stroke="#77AC30" d="M52.4 483.3l11.5 -2.5l4.8 -.6l2.5 0l3.6 .5l5.4 1.9l6.1 1.9l7.9 1.8l1.8 .6l1.8 .3l4.2 -.3l1.3 -.3l1.2 -.6l1.2 .2l3 -.5l1.2 .1l2.4 -.2l1.3 -.4l1.2 .1l3.6 -.3l1.2 -.3l1.8 .1l5.5 -.2l6.6 -.8l1.9 0l2.4 .3l3.6 .9l9.1 2.9l3 .5l30.3 3.4l14.6 1.2l15.1 .6l1.8 .4l13.4 .3l5.4 -.1l2.4 .4l2.5 -.3l3 .4l2.4 -.2l4.2 .4l3.7 -.5l2.4 .6l3.6 0l3.7 -.3l1.8 .2l1.8 0l1.8 .4l2.4 -.6l2.5 .5l3 -.2l1.8 .3l5.5 -.2l1.8 -1.1l2.4 1.5l6.7 -.1l1.2 -.1" stroke-width="1.3"/>
<path stroke="#4DBEEE" d="M52.4 482.7l11.5 -2.5l4.8 -.6l2.5 0l3.6 .5l5.4 2.1l6.1 1.9l7.9 1.9l1.8 .6l1.8 .3l4.2 -.3l1.3 -.2l1.2 -.6l1.2 .1l3 -.5l1.2 .1l2.4 -.3l1.3 -.3l1.2 .1l3.6 -.4l1.2 -.2l1.8 .1l5.5 -.3l6.6 -.8l1.9 -.1l2.4 .4l3.6 .9l9.1 3l3 .6l30.3 3.5l14.6 1.2l15.1 .6l1.8 .4l13.4 .3l5.4 -.1l2.4 .4l2.5 -.3l3 .5l2.4 -.3l4.2 .4l3.7 -.5l2.4 .6l3.6 0l3.7 -.3l1.8 .2l1.8 0l1.8 .5l2.4 -.7l2.5 .5l3 -.2l1.8 .3l5.5 -.2l1.8 -1.1l2.4 1.5l6.7 0l1.2 -.2" stroke-width="1.3"/>
<path stroke="#A2142F" d="M52.4 482.1l10.9 -2.4l4.8 -.6l2.4 -.1l2.5 .2l1.8 .4l5.4 2.1l5.5 1.8l7.3 2.1l1.2 .1l1.8 .7l1.8 .3l4.2 -.4l1.3 -.2l1.2 -.6l1.2 .1l3 -.5l1.2 .1l2.4 -.3l1.3 -.4l1.2 .1l3.6 -.3l1.2 -.3l1.8 .1l5.5 -.3l6.6 -.9l1.9 0l2.4 .4l3.6 .9l9.1 3.1l3 .6l30.3 3.7l14.6 1.2l15.1 .6l1.8 .4l13.4 .3l5.4 -.1l2.4 .4l2.5 -.3l3 .5l2.4 -.2l4.2 .3l3.7 -.5l2.4 .6l3.6 0l3.7 -.3l1.8 .3l1.8 -.1l1.8 .5l2.4 -.7l2.5 .6l3 -.3l1.8 .3l5.5 -.2l1.8 -1.2l2.4 1.7l6.7 -.1l1.2 -.2" stroke-width="1.3"/>
<path stroke="#0072BD" d="M52.4 481.5l10.9 -2.4l4.8 -.6l2.4 -.1l3.7 .5l6.6 2.6l5.5 1.9l6.7 1.9l1.2 .2l1.8 .6l1.8 .3l4.2 -.3l1.3 -.3l1.2 -.6l1.2 .2l3 -.6l1.2 .1l2.4 -.3l1.3 -.4l1.2 .1l3.6 -.4l1.2 -.3l1.8 .1l5.5 -.2l6.6 -1l1.9 0l2.4 .4l3.6 .9l9.1 3.3l3 .6l30.3 3.7l14.6 1.3l15.1 .6l1.8 .4l13.4 .3l5.4 -.1l2.4 .4l2.5 -.3l3 .5l2.4 -.2l4.2 .3l3.7 -.5l2.4 .6l3.6 .1l3.7 -.4l1.8 .3l1.8 -.1l1.8 .6l2.4 -.8l2.5 .6l3 -.3l1.8 .4l5.5 -.3l1.8 -1.2l2.4 1.7l6.7 -.1l1.2 -.2" stroke-width="1.3"/>
<path stroke="#D95319" d="M52.4 480.9l10.9 -2.4l4.8 -.6l2.4 -.1l3.7 .5l3 1.1l3 1.4l5.5 2l7.3 2.2l1.2 .2l1.8 .7l1.8 .3l1.2 0l3 -.4l1.3 -.2l1.2 -.7l1.2 .2l3 -.6l1.2 .1l2.4 -.3l1.3 -.5l1.2 .2l3.6 -.4l1.2 -.3l1.8 .1l5.5 -.3l6.6 -1l1.9 0l2.4 .4l3.6 1l9.1 3.3l3 .7l30.3 3.8l14.6 1.3l15.1 .6l1.8 .4l13.4 .3l5.4 -.1l2.4 .5l2.5 -.4l3 .5l2.4 -.2l4.2 .4l3.7 -.6l2.4 .7l3.6 0l3.7 -.4l1.8 .3l1.8 -.1l1.8 .6l2.4 -.8l2.5 .6l3 -.2l1.8 .3l5.5 -.2l1.8 -1.3l2.4 1.7l6.7 -.1l1.2 -.1" stroke-width="1.3"/>
<path stroke="#EDB120" d="M52.4 480.3l10.9 -2.4l4.8 -.6l2.4 -.1l3.7 .6l3 1.1l3 1.5l5.5 2l7.3 2.3l1.2 .2l1.8 .7l1.8 .3l1.2 .1l3 -.4l1.3 -.3l1.2 -.7l1.2 .2l3 -.6l1.2 0l2.4 -.3l1.3 -.4l1.2 .1l3.6 -.4l1.2 -.3l1.8 .1l5.5 -.3l6.6 -1l1.9 -.1l2.4 .5l3.6 1l9.1 3.4l3 .7l30.3 4l14.6 1.3l15.1 .6l1.8 .4l13.4 .4l5.4 -.2l2.4 .5l2.5 -.4l3 .5l2.4 -.2l4.2 .4l3.7 -.6l2.4 .7l3.6 0l3.7 -.4l1.8 .3l1.8 -.1l1.8 .6l2.4 -.8l2.5 .7l3 -.3l1.8 .3l5.5 -.2l1.8 -1.3l2.4 1.8l6.7 -.1l1.2 -.2" stroke-width="1.3"/>
<path stroke="#7E2F8E" d="M52.4 479.7l10.9 -2.4l4.8 -.6l2.4 -.1l3.7 .6l3 1.2l3 1.5l5.5 2.1l7.3 2.4l1.2 .2l1.8 .8l1.8 .3l1.2 0l3 -.4l1.3 -.3l1.2 -.7l1.2 .2l3 -.6l1.2 0l2.4 -.3l1.3 -.5l1.2 .2l3.6 -.4l1.2 -.4l1.8 .2l5.5 -.4l2.4 -.2l4.2 -.8l1.9 -.1l2.4 .4l3.6 1.1l9.1 3.6l3 .7l30.3 4l14.6 1.4l15.1 .6l1.8 .5l13.4 .3l5.4 -.2l2.4 .5l2.5 -.4l3 .6l2.4 -.3l4.2 .4l3.7 -.6l2.4 .7l3.6 0l3.7 -.3l1.8 .2l1.8 0l1.8 .6l2.4 -.9l2.5 .7l3 -.3l1.8 .4l5.5 -.3l1.8 -1.4l2.4 1.9l6.7 -.1l1.2 -.2" stroke-width="1.3"/>
<path stroke="#77AC30" d="M52.4 479.1l10.9 -2.4l4.8 -.6l2.4 -.1l3.7 .7l3 1.2l3.6 1.8l5.5 2.2l6.7 2.2l1.2 .2l1.8 .8l2.4 .4l4.9 -.7l1.2 -.8l1.2 .2l3 -.6l1.2 0l2.4 -.3l1.3 -.5l1.2 .1l3.6 -.4l1.2 -.3l1.8 .1l5.5 -.4l2.4 -.2l4.2 -.9l1.9 0l2.4 .4l3.6 1.1l9.1 3.7l3 .7l30.3 4.2l14.6 1.4l15.1 .6l1.8 .5l13.4 .3l5.4 -.2l2.4 .5l2.5 -.4l3 .6l2.4 -.3l4.2 .4l3.7 -.6l2.4 .7l3.6 .1l3.7 -.4l1.8 .3l1.8 -.1l1.8 .6l2.4 -.9l2.5 .7l3 -.3l1.8 .4l5.5 -.3l1.8 -1.4l2.4 1.9l6.7 -.1l1.2 -.2" stroke-width="1.3"/>
<path stroke="#4DBEEE" d="M52.4 478.5l10.9 -2.4l4.8 -.6l2.4 0l3.7 .6l3 1.3l3.6 1.9l5.5 2.2l6.7 2.3l1.2 .3l1.8 .8l2.4 .4l3 -.4l1.9 -.4l1.2 -.8l1.2 .2l3 -.7l1.2 .1l2.4 -.3l1.3 -.5l1.2 .1l3.6 -.4l1.2 -.4l1.8 .1l5.5 -.3l2.4 -.3l4.2 -.9l1.9 0l2.4 .4l3.6 1.1l9.1 3.8l3 .8l30.3 4.2l14.6 1.5l15.1 .6l1.8 .5l13.4 .3l5.4 -.2l2.4 .5l2.5 -.3l3 .5l2.4 -.3l4.2 .4l3.7 -.6l2.4 .8l3.6 0l3.7 -.4l1.8 .3l1.8 -.1l1.8 .6l2.4 -.9l2.5 .8l3 -.4l1.8 .4l5.5 -.3l1.8 -1.4l2.4 2l6.7 -.1l1.2 -.2" stroke-width="1.3"/>
<path stroke="#A2142F" d="M52.4 477.9l10.9 -2.4l4.8 -.6l2.4 0l3.7 .7l3 1.3l3.6 1.9l5.5 2.4l6.7 2.3l1.2 .3l1.8 .8l2.4 .4l3 -.3l1.9 -.5l1.2 -.8l1.2 .2l3 -.7l1.2 .1l2.4 -.4l1.3 -.5l1.2 .2l3.6 -.5l1.2 -.4l1.8 .2l5.5 -.4l2.4 -.3l4.2 -.9l1.9 -.1l2.4 .5l3.6 1.1l9.1 4l3 .7l30.3 4.4l14.6 1.5l15.1 .6l1.8 .5l13.4 .3l5.4 -.2l2.4 .6l2.5 -.4l3 .5l2.4 -.3l4.2 .5l3.7 -.7l2.4 .8l3.6 0l3.7 -.4l1.8 .3l1.8 -.1l1.8 .7l2.4 -1l2.5 .8l3 -.3l1.8 .4l5.5 -.3l1.8 -1.5l2.4 2l6.7 -.1l1.2 -.2" stroke-width="1.3"/>
<path stroke="#0072BD" d="M52.4 477.3l10.9 -2.4l4.8 -.6l2.4 0l3.7 .7l3 1.4l3.6 2l5.5 2.4l6.7 2.4l1.2 .3l1.8 .8l2.4 .5l3 -.4l1.9 -.4l1.2 -.9l1.2 .2l3 -.7l1.2 .1l2.4 -.4l1.3 -.5l1.2 .1l3.6 -.4l1.2 -.4l1.8 .1l5.5 -.4l2.4 -.3l4.2 -.9l1.9 -.1l2.4 .5l3.6 1.2l9.1 4l3 .8l30.3 4.5l14.6 1.5l15.1 .6l1.8 .5l13.4 .3l5.4 -.2l2.4 .6l2.5 -.4l3 .6l2.4 -.3l4.2 .4l3.7 -.7l2.4 .8l3.6 0l3.7 -.4l1.8 .3l1.8 -.1l1.8 .7l2.4 -1l2.5 .8l3 -.3l1.8 .4l5.5 -.3l1.8 -1.6l2.4 2.1l6.7 -.1l1.2 -.2" stroke-width="1.3"/>
<path stroke="#D95319" d="M52.4 476.7l11.5 -2.5l5.4 -.5l2.5 .2l3 .8l6 3.2l6.7 3l5.5 2.1l1.2 .2l1.8 .9l2.4 .4l3 -.3l1.9 -.5l1.2 -.9l1.2 .2l3 -.7l1.2 .1l2.4 -.4l1.3 -.6l1.2 .2l3.6 -.5l1.2 -.4l1.8 .1l5.5 -.4l2.4 -.3l4.2 -1l1.9 0l2.4 .5l3.6 1.2l9.1 4.1l3 .8l30.3 4.6l14.6 1.6l15.1 .6l1.8 .5l13.4 .3l5.4 -.2l2.4 .6l2.5 -.4l3 .6l2.4 -.3l4.2 .4l3.7 -.7l2.4 .8l3.6 .1l3.7 -.5l1.8 .3l1.8 -.1l1.8 .8l2.4 -1.1l2.5 .8l3 -.3l1.8 .4l5.5 -.3l1.8 -1.6l2.4 2.2l6.7 -.1l1.2 -.3" stroke-width="1.3"/>
<path stroke="#EDB120" d="M52.4 476.1l11.5 -2.5l5.4 -.5l2.5 .2l3 .9l6 3.3l6.7 3.1l5.5 2.1l1.2 .2l1.8 .9l2.4 .5l3 -.4l1.9 -.5l1.2 -.9l1.2 .3l3 -.8l1.2 .1l2.4 -.4l1.3 -.6l1.2 .2l3.6 -.6l1.2 -.4l1.8 .2l5.5 -.5l2.4 -.3l4.2 -1l1.9 0l2.4 .5l3.6 1.2l9.1 4.3l3 .8l30.3 4.7l14.6 1.6l15.1 .6l1.8 .6l13.4 .3l5.4 -.2l2.4 .5l2.5 -.4l3 .6l2.4 -.3l4.2 .4l3.7 -.7l2.4 .9l3.6 0l3.7 -.5l1.8 .4l1.8 -.2l1.8 .8l2.4 -1.1l2.5 .9l3 -.4l1.8 .4l5.5 -.3l1.8 -1.6l2.4 2.2l6.7 -.1l1.2 -.3" stroke-width="1.3"/>
<path stroke="#7E2F8E" d="M52.4 475.6l11.5 -2.6l5.4 -.5l2.5 .2l1.8 .4l1.2 .5l6 3.5l6.7 3.1l5.5 2.2l1.2 .2l1.8 1l2.4 .5l3 -.5l1.9 -.4l1.2 -1l1.2 .3l3 -.8l1.2 .1l2.4 -.5l1.3 -.5l1.2 .1l3.6 -.5l1.2 -.4l1.8 .1l5.5 -.4l2.4 -.4l4.2 -1l1.9 -.1l2.4 .6l3.6 1.2l9.1 4.4l3 .8l30.3 4.8l3.7 .5l7.2 .6l3.7 .5l11.5 .7l3.6 0l1.8 .6l13.4 .3l5.4 -.2l2.4 .6l2.5 -.5l3 .6l2.4 -.3l4.2 .5l3.7 -.8l2.4 .9l3.6 0l3.7 -.5l1.8 .4l1.8 -.1l1.8 .7l2.4 -1.1l2.5 .9l3 -.4l1.8 .5l5.5 -.4l1.8 -1.7l2.4 2.4l6.7 -.2l1.2 -.2" stroke-width="1.3"/>
<path stroke="#77AC30" d="M52.4 475.0l11.5 -2.6l5.4 -.5l2.5 .2l1.8 .5l1.2 .5l6 3.5l6.7 3.3l5.5 2.2l1.2 .3l1.8 .9l2.4 .5l3 -.4l1.9 -.5l1.2 -1l1.2 .3l3 -.8l1.2 .1l2.4 -.5l1.3 -.6l1.2 .2l3.6 -.6l1.2 -.4l1.8 .1l5.5 -.4l2.4 -.4l4.2 -1l1.9 -.1l2.4 .5l3.6 1.3l9.1 4.5l3 .9l30.3 4.9l3.7 .5l7.2 .6l3.7 .5l11.5 .7l3.6 0l1.8 .6l13.4 .3l5.4 -.2l2.4 .6l2.5 -.5l3 .7l2.4 -.4l4.2 .5l3.7 -.8l2.4 .9l3.6 0l3.7 -.5l1.8 .4l1.8 -.1l1.8 .8l2.4 -1.2l2.5 .9l3 -.4l1.8 .5l5.5 -.3l1.8 -1.8l2.4 2.4l6.7 -.1l1.2 -.3" stroke-width="1.3"/>
<path stroke="#4DBEEE" d="M52.4 474.4l11.5 -2.6l5.4 -.5l2.5 .3l1.8 .4l1.2 .5l6 3.7l6.7 3.3l5.5 2.3l1.2 .3l1.8 1l2.4 .5l3 -.5l1.9 -.5l1.2 -1l1.2 .3l3 -.8l1.2 0l2.4 -.4l1.3 -.6l1.2 .1l3.6 -.5l1.2 -.5l1.8 .2l5.5 -.5l2.4 -.4l4.2 -1l1.9 -.1l2.4 .5l3.6 1.4l8.5 4.3l2.4 .9l4.3 .8l30.9 5l7.2 .6l5.5 .7l13.3 .6l1.8 .5l13.4 .3l5.4 -.2l2.4 .6l2.5 -.5l3 .7l2.4 -.4l4.2 .5l3.7 -.8l2.4 .9l3.6 .1l3.7 -.5l1.8 .3l1.8 -.1l1.8 .8l2.4 -1.2l2.5 1l3 -.4l1.8 .4l5.5 -.3l1.8 -1.8l2.4 2.4l6.7 -.1l1.2 -.3" stroke-width="1.3"/>
<path stroke="#A2142F" d="M52.4 473.8l11.5 -2.6l5.4 -.5l2.5 .3l1.8 .4l1.2 .6l6 3.7l6.7 3.5l5.5 2.3l1.2 .3l1.8 1l2.4 .5l3 -.4l1.9 -.5l1.2 -1.1l1.2 .3l3 -.8l1.2 0l2.4 -.4l1.3 -.7l1.2 .2l3.6 -.6l1.2 -.4l1.8 .1l5.5 -.5l2.4 -.4l4.2 -1.1l1.9 0l2.4 .5l3.6 1.4l8.5 4.4l2.4 .9l4.3 .9l30.9 5.1l7.2 .6l5.5 .7l13.3 .6l1.8 .5l13.4 .3l5.4 -.2l2.4 .6l2.5 -.5l3 .7l2.4 -.4l4.2 .5l3.7 -.8l2.4 1l3.6 0l3.7 -.5l1.8 .3l1.8 -.1l1.8 .8l2.4 -1.1l2.5 .9l3 -.4l1.8 .5l5.5 -.4l1.8 -1.8l2.4 2.5l6.7 -.2l1.2 -.3" stroke-width="1.3"/>
<path stroke="#0072BD" d="M52.4 473.2l11.5 -2.6l5.4 -.5l2.5 .3l1.8 .5l1.2 .5l6 3.9l6.7 3.5l5.5 2.4l1.2 .3l1.8 1.1l2.4 .5l3 -.5l1.9 -.5l1.2 -1.1l1.2 .3l3 -.9l1.2 .1l2.4 -.5l1.3 -.6l1.2 .2l3.6 -.6l1.2 -.5l1.8 .1l5.5 -.5l2.4 -.4l4.2 -1.1l1.9 -.1l2.4 .6l3.6 1.4l8.5 4.5l2.4 1l4.3 .9l30.9 5.1l7.2 .7l5.5 .7l9.7 .5l3.6 .1l1.8 .5l13.4 .3l5.4 -.2l2.4 .6l2.5 -.5l3 .7l2.4 -.4l4.2 .6l3.7 -.9l2.4 1l3.6 0l3.7 -.5l1.8 .4l1.8 -.2l1.8 .9l2.4 -1.2l2.5 .9l3 -.4l1.8 .5l5.5 -.4l1.8 -1.9l2.4 2.6l6.7 -.2l1.2 -.2" stroke-width="1.3"/>
<path stroke="#D95319" d="M52.4 472.6l11.5 -2.6l5.4 -.5l2.5 .3l1.8 .5l1.2 .6l6 4l6.7 3.6l5.5 2.4l1.2 .3l1.8 1.1l2.4 .5l3 -.4l1.9 -.6l1.2 -1.1l1.2 .3l1.2 -.2l1.8 -.7l1.2 .1l2.4 -.5l1.3 -.6l1.2 .1l3.6 -.6l1.2 -.5l1.8 .2l5.5 -.6l2.4 -.3l4.2 -1.2l1.9 -.1l2.4 .6l3.6 1.4l8.5 4.7l2.4 .9l4.3 .9l30.9 5.3l7.2 .6l5.5 .8l9.7 .5l3.6 .1l1.8 .6l6.1 0l7.3 .3l5.4 -.3l2.4 .7l2.5 -.6l3 .7l2.4 -.4l4.2 .6l3.7 -.9l2.4 1l3.6 0l3.7 -.5l1.8 .4l1.8 -.2l1.8 .9l2.4 -1.2l2.5 .9l3 -.4l1.8 .5l5.5 -.4l1.8 -1.9l2.4 2.6l6.7 -.1l1.2 -.3" stroke-width="1.3"/>
<path stroke="#EDB120" d="M52.4 472.0l11.5 -2.6l5.4 -.5l2.5 .4l1.8 .5l1.2 .6l6 4l6.7 3.7l5.5 2.5l1.2 .4l1.8 1l2.4 .6l3 -.5l1.9 -.5l1.2 -1.1l1.2 .2l1.2 -.2l1.8 -.7l1.2 .1l2.4 -.5l1.3 -.7l1.2 .2l3.6 -.6l1.2 -.5l1.8 .1l5.5 -.5l2.4 -.4l4.2 -1.2l1.9 -.1l2.4 .6l3.6 1.4l8.5 4.8l2.4 .9l4.3 1l15.1 2.5l10.3 2l5.5 .9l7.2 .6l5.5 .8l9.7 .5l3.6 .1l1.8 .6l6.1 0l7.3 .3l5.4 -.3l2.4 .7l2.5 -.6l3 .8l2.4 -.4l4.2 .5l3.7 -.9l2.4 1l3.6 .1l3.7 -.6l1.8 .4l1.8 -.1l1.8 .8l2.4 -1.2l2.5 1l3 -.5l1.8 .6l5.5 -.4l1.8 -2l2.4 2.7l6.7 -.2l1.2 -.3" stroke-width="1.3"/>
<path stroke="#7E2F8E" d="M52.4 471.4l11.5 -2.6l5.4 -.5l2.5 .4l1.8 .5l1.2 .6l6 4.2l6.7 3.8l5.5 2.5l1.2 .4l1.8 1.1l2.4 .6l3 -.5l1.9 -.6l1.2 -1.1l1.2 .2l1.2 -.2l1.8 -.7l1.2 .1l2.4 -.5l1.3 -.7l1.2 .2l3.6 -.7l1.2 -.5l1.8 .1l5.5 -.5l2.4 -.4l4.2 -1.3l1.9 0l2.4 .6l3.6 1.5l8.5 4.8l2.4 1l4.3 1l15.1 2.5l10.3 2.1l5.5 .8l7.2 .7l5.5 .7l9.7 .6l3.6 .1l1.8 .6l6.1 0l7.3 .3l5.4 -.3l2.4 .7l2.5 -.6l3 .8l2.4 -.4l4.2 .5l3.7 -.9l2.4 1.1l3.6 0l3.7 -.6l1.8 .4l1.8 -.1l1.8 .9l2.4 -1.3l2.5 1l3 -.4l1.8 .5l5.5 -.4l1.8 -2.1l2.4 2.8l6.7 -.2l1.2 -.3" stroke-width="1.3"/>
<path stroke="#77AC30" d="M52.4 470.8l11.5 -2.6l5.4 -.4l2.5 .3l1.8 .6l1.2 .6l6 4.2l6.7 3.9l5.5 2.7l1.2 .3l1.8 1.1l2.4 .6l3 -.5l1.9 -.6l1.2 -1.1l1.2 .3l1.2 -.3l1.8 -.7l1.2 .1l2.4 -.6l1.3 -.7l1.2 .2l3.6 -.6l1.2 -.6l1.8 .2l5.5 -.6l2.4 -.4l4.2 -1.3l1.9 -.1l2.4 .7l3.6 1.5l8.5 5l2.4 .9l4.3 1l15.1 2.6l10.3 2.1l5.5 .9l7.2 .7l5.5 .7l9.7 .6l3.6 .1l1.8 .6l6.1 0l7.3 .3l5.4 -.3l2.4 .7l2.5 -.6l3 .8l2.4 -.4l4.2 .5l3.7 -.9l2.4 1.1l3.6 0l3.7 -.6l1.8 .4l1.8 -.1l1.8 .9l2.4 -1.3l2.5 1l3 -.4l1.8 .5l5.5 -.4l1.8 -2.1l2.4 2.8l6.7 -.1l1.2 -.4" stroke-width="1.3"/>
<path stroke="#4DBEEE" d="M52.4 470.2l11.5 -2.6l5.4 -.4l2.5 .3l1.8 .6l1.2 .6l6 4.4l6.7 4l5.5 2.7l1.2 .3l1.8 1.2l2.4 .6l3 -.5l1.9 -.6l1.2 -1.2l1.2 .3l1.2 -.3l1.8 -.7l1.2 .1l2.4 -.6l1.3 -.7l1.2 .2l3.6 -.7l1.2 -.6l1.8 .2l5.5 -.6l2.4 -.4l4.2 -1.3l1.9 -.1l2.4 .6l3.6 1.6l8.5 5.1l2.4 1l4.3 1l15.1 2.7l10.3 2.1l5.5 .9l7.2 .7l5.5 .7l9.7 .6l3.6 .1l1.8 .6l6.1 0l7.3 .3l5.4 -.3l2.4 .7l2.5 -.6l3 .8l2.4 -.4l4.2 .6l3.7 -1l2.4 1.1l3.6 0l3.7 -.6l1.8 .5l1.8 -.2l1.8 1l2.4 -1.4l2.5 1.1l3 -.5l1.8 .5l5.5 -.4l1.8 -2.1l2.4 2.9l6.7 -.2l1.2 -.3" stroke-width="1.3"/>
<path stroke="#A2142F" d="M52.4 469.6l11.5 -2.6l5.4 -.4l2.5 .3l1.8 .6l1.2 .7l6 4.5l6.1 3.7l6.1 3.1l1.2 .3l1.8 1.2l2.4 .6l3 -.5l1.9 -.6l1.2 -1.2l1.2 .3l1.2 -.3l1.8 -.7l1.2 .1l2.4 -.6l1.3 -.8l1.2 .2l3.6 -.7l1.2 -.5l1.8 .2l5.5 -.7l2.4 -.4l4.2 -1.3l1.9 -.1l2.4 .6l3.6 1.6l8.5 5.2l2.4 1l4.3 1.1l15.1 2.7l10.3 2.1l5.5 1l7.2 .6l5.5 .8l9.7 .6l3.6 .1l1.8 .6l6.1 0l7.3 .3l5.4 -.3l2.4 .8l2.5 -.6l3 .8l2.4 -.5l4.2 .6l3.7 -1l2.4 1.1l3.6 .1l3.7 -.7l1.8 .5l1.8 -.2l1.8 1l2.4 -1.4l2.5 1.1l3 -.5l1.8 .6l5.5 -.5l1.8 -2.1l2.4 2.9l6.7 -.2l1.2 -.3" stroke-width="1.3"/>
<path stroke="#0072BD" d="M52.4 469.0l11.5 -2.6l5.4 -.4l2.5 .4l1.8 .6l1.2 .6l6 4.6l6.1 3.8l6.1 3.2l1.2 .3l1.8 1.3l2.4 .6l3 -.5l1.9 -.7l1.2 -1.2l1.2 .3l1.2 -.3l1.8 -.7l1.2 0l2.4 -.5l1.3 -.8l1.2 .2l3.6 -.7l1.2 -.6l1.8 .2l5.5 -.6l2.4 -.5l4.2 -1.3l1.9 -.1l2.4 .6l3.6 1.6l8.5 5.3l2.4 1.1l4.3 1l15.1 2.8l10.3 2.2l5.5 .9l7.2 .7l5.5 .8l9.7 .6l3.6 .1l1.8 .7l6.1 0l7.3 .3l5.4 -.4l2.4 .8l2.5 -.6l3 .8l2.4 -.5l4.2 .6l3.7 -1l2.4 1.2l3.6 0l3.7 -.6l1.8 .4l1.8 -.2l1.8 1l2.4 -1.4l2.5 1.1l3 -.5l1.8 .6l5.5 -.4l1.8 -2.3l2.4 3l6.7 -.1l1.2 -.4" stroke-width="1.3"/>
<path stroke="#D95319" d="M52.4 468.4l11.5 -2.6l5.4 -.4l2.5 .4l1.8 .6l1.2 .7l2.4 1.7l3 2.5l6.7 4.4l6.1 3.2l1.2 .4l1.8 1.2l2.4 .7l3 -.6l1.9 -.6l1.2 -1.3l1.2 .3l1.2 -.3l1.8 -.8l1.2 .1l2.4 -.6l1.3 -.7l1.2 .2l3.6 -.8l1.2 -.6l1.8 .2l5.5 -.6l2.4 -.5l4.2 -1.4l1.9 -.1l2.4 .7l3.6 1.7l8.5 5.4l2.4 1l4.3 1.1l15.1 2.8l10.3 2.2l5.5 1l7.2 .7l5.5 .8l9.7 .6l3.6 .1l1.8 .7l6.1 0l7.3 .3l5.4 -.4l2.4 .8l2.5 -.6l3 .8l2.4 -.5l4.2 .6l3.7 -1l2.4 1.2l3.6 0l3.7 -.6l1.8 .4l1.8 -.1l1.8 1l2.4 -1.5l2.5 1.2l3 -.6l1.8 .6l5.5 -.4l1.8 -2.3l2.4 3.1l3 -.2l3.7 0l1.2 -.4" stroke-width="1.3"/>
<path stroke="#EDB120" d="M52.4 467.8l11.5 -2.6l5.4 -.4l2.5 .4l1.8 .7l1.2 .7l2.4 1.7l3 2.6l6.7 4.4l6.1 3.3l1.2 .4l1.8 1.3l2.4 .6l3 -.5l1.9 -.7l1.2 -1.3l1.2 .3l1.2 -.3l1.8 -.8l1.2 .1l2.4 -.6l1.3 -.8l1.2 .2l3.6 -.7l1.2 -.6l1.8 .2l5.5 -.7l2.4 -.5l4.2 -1.4l1.9 -.1l2.4 .7l3.6 1.7l8.5 5.5l2.4 1.1l4.3 1.1l15.1 2.8l10.3 2.3l5.5 1l7.2 .7l5.5 .8l9.7 .7l3.6 0l1.8 .7l6.1 0l7.3 .3l5.4 -.4l2.4 .8l2.5 -.6l3 .8l2.4 -.5l4.2 .7l3.7 -1.1l2.4 1.2l3.6 0l3.7 -.6l1.8 .4l1.8 -.1l1.8 1l2.4 -1.5l2.5 1.2l3 -.5l1.8 .6l5.5 -.5l1.8 -2.3l2.4 3.1l3 -.2l3.7 0l1.2 -.3" stroke-width="1.3"/>
<path stroke="#7E2F8E" d="M52.4 467.2l11.5 -2.7l5.4 -.3l2.5 .4l1.8 .7l1.2 .7l2.4 1.8l3 2.6l6.7 4.6l6.1 3.3l1.2 .4l1.8 1.3l2.4 .7l3 -.6l1.9 -.7l1.2 -1.3l1.2 .3l1.2 -.3l1.8 -.8l1.2 .1l2.4 -.6l1.3 -.8l1.2 .2l3.6 -.8l1.2 -.6l1.8 .2l5.5 -.7l2.4 -.5l4.2 -1.4l1.9 -.1l2.4 .7l3.6 1.7l8.5 5.6l2.4 1.1l4.3 1.1l15.1 2.9l10.3 2.4l5.5 1l7.2 .7l3.7 .7l2.4 .2l9.1 .6l3.6 0l1.8 .7l6.1 0l7.3 .3l5.4 -.4l2.4 .9l2.5 -.7l3 .9l2.4 -.5l4.2 .6l3.7 -1.1l2.4 1.2l3.6 .1l3.7 -.7l1.8 .5l1.8 -.2l1.8 1l2.4 -1.5l2.5 1.2l3 -.5l1.8 .6l5.5 -.5l1.8 -2.4l2.4 3.2l3 -.2l3.7 0l1.2 -.3" stroke-width="1.3"/>
<path stroke="#77AC30" d="M52.4 466.6l11.5 -2.7l5.4 -.3l2.5 .5l1.8 .6l1.2 .8l2.4 1.8l3 2.7l6.7 4.6l6.1 3.4l1.2 .4l1.8 1.3l2.4 .7l3 -.5l1.9 -.7l1.2 -1.4l1.2 .3l1.2 -.3l1.8 -.8l1.2 .1l2.4 -.6l1.3 -.9l1.2 .3l3.6 -.8l1.2 -.7l1.8 .2l5.5 -.7l2.4 -.5l4.2 -1.4l1.9 -.1l2.4 .7l3.6 1.7l8.5 5.7l2.4 1.2l4.3 1.1l15.1 2.9l10.3 2.4l5.5 1l7.2 .8l3.7 .6l2.4 .3l9.1 .6l3.6 0l1.8 .7l6.1 0l7.3 .3l5.4 -.3l2.4 .8l2.5 -.7l3 .9l2.4 -.5l4.2 .6l3.7 -1.1l2.4 1.3l3.6 0l3.7 -.7l1.8 .5l1.8 -.2l1.8 1.1l2.4 -1.6l2.5 1.2l3 -.5l1.8 .6l5.5 -.5l1.8 -2.4l2.4 3.3l3 -.2l3.7 0l1.2 -.4" stroke-width="1.3"/>
<path stroke="#4DBEEE" d="M52.4 466.0l11.5 -2.7l5.4 -.3l2.5 .5l1.8 .7l1.2 .7l2.4 1.9l3 2.7l6.7 4.7l6.1 3.5l1.2 .4l1.8 1.4l2.4 .7l3 -.6l1.9 -.7l1.2 -1.4l1.2 .4l1.2 -.4l1.8 -.8l1.2 .1l2.4 -.6l1.3 -.9l1.2 .2l3.6 -.8l1.2 -.6l1.8 .2l5.5 -.7l2.4 -.6l4.2 -1.5l1.9 -.1l2.4 .8l3.6 1.7l8.5 5.9l2.4 1.1l4.3 1.2l15.1 3l10.3 2.4l5.5 1l7.2 .7l3.7 .7l2.4 .3l9.1 .6l3.6 0l1.8 .7l6.1 0l7.3 .3l5.4 -.3l2.4 .8l2.5 -.7l3 .9l2.4 -.5l4.2 .6l3.7 -1.1l2.4 1.3l3.6 0l3.7 -.7l1.8 .5l1.8 -.2l1.8 1.1l2.4 -1.6l2.5 1.3l3 -.6l.6 .1l1.2 .6l5.5 -.5l1.8 -2.5l2.4 3.3l3 -.2l3.7 0l1.2 -.4" stroke-width="1.3"/>
<path stroke="#A2142F" d="M89.9 475.7l3.1 1.8l1.2 .4l1.8 1.3l1.8 .7l1.2 0l2.4 -.6l1.9 -.7l1.2 -1.4l1.2 .4l1.2 -.3l1.8 -.9l1.2 .1l2.4 -.7l1.3 -.8l1.2 .2l3.6 -.8l1.2 -.7l1.8 .2l5.5 -.7l2.4 -.5l4.2 -1.6l1.9 -.1l2.4 .7l3.6 1.9l8.5 5.9l2.4 1.2l4.3 1.1l15.1 3.1l10.3 2.4l5.5 1.1l7.2 .7l3.7 .7l2.4 .3l9.1 .6l3.6 0l1.8 .8l6.1 -.1l7.3 .4l5.4 -.4l2.4 .8l2.5 -.7l3 .9l2.4 -.5l4.2 .7l3.7 -1.2l2.4 1.3l3.6 0l3.7 -.7l1.8 .5l1.8 -.2l1.8 1.2l2.4 -1.7l2.5 1.3l3 -.6l.6 .1l1.2 .6l5.5 -.5l1.8 -2.5l2.4 3.4l3 -.3l3.7 0l1.2 -.3" stroke-width="1.3"/>
<path stroke="#0072BD" d="M89.9 475.4l3.1 1.8l1.2 .4l1.8 1.4l1.8 .6l1.2 .1l2.4 -.6l1.9 -.7l1.2 -1.5l1.2 .4l1.2 -.3l1.8 -.9l1.2 .1l2.4 -.7l1.3 -.9l1.2 .2l3.6 -.8l1.2 -.7l1.8 .2l5.5 -.7l2.4 -.5l4.2 -1.6l1.9 -.1l2.4 .7l3.6 1.9l8.5 6l2.4 1.2l4.3 1.2l15.1 3.1l10.3 2.5l5.5 1l7.2 .8l3.7 .7l2.4 .3l9.1 .6l3.6 0l1.8 .8l6.1 -.1l7.3 .4l5.4 -.4l2.4 .8l2.5 -.7l3 .9l2.4 -.5l4.2 .7l3.7 -1.2l1.8 1.1l.6 .2l3.6 .1l3.7 -.8l1.8 .5l1.8 -.1l1.8 1.1l2.4 -1.7l2.5 1.3l3 -.5l.6 0l1.2 .6l5.5 -.5l1.8 -2.6l2.4 3.5l3 -.2l3.7 0l1.2 -.4" stroke-width="1.3"/>
</g>
<g stroke="#777" stroke-width="0.95" fill="none">
<line x1="41.80" y1="213.2" x2="41.80" y2="210.6"/>
<line x1="41.80" y1="9.3" x2="41.80" y2="11.9"/>
<line x1="70.59" y1="213.2" x2="70.59" y2="210.6"/>
<line x1="70.59" y1="9.3" x2="70.59" y2="11.9"/>
<line x1="99.38" y1="213.2" x2="99.38" y2="210.6"/>
<line x1="99.38" y1="9.3" x2="99.38" y2="11.9"/>
<line x1="128.17" y1="213.2" x2="128.17" y2="210.6"/>
<line x1="128.17" y1="9.3" x2="128.17" y2="11.9"/>
<line x1="156.96" y1="213.2" x2="156.96" y2="210.6"/>
<line x1="156.96" y1="9.3" x2="156.96" y2="11.9"/>
<line x1="185.74" y1="213.2" x2="185.74" y2="210.6"/>
<line x1="185.74" y1="9.3" x2="185.74" y2="11.9"/>
<line x1="214.53" y1="213.2" x2="214.53" y2="210.6"/>
<line x1="214.53" y1="9.3" x2="214.53" y2="11.9"/>
<line x1="243.32" y1="213.2" x2="243.32" y2="210.6"/>
<line x1="243.32" y1="9.3" x2="243.32" y2="11.9"/>
<line x1="272.11" y1="213.2" x2="272.11" y2="210.6"/>
<line x1="272.11" y1="9.3" x2="272.11" y2="11.9"/>
<line x1="300.90" y1="213.2" x2="300.90" y2="210.6"/>
<line x1="300.90" y1="9.3" x2="300.90" y2="11.9"/>
<line x1="41.8" y1="213.20" x2="44.4" y2="213.20"/>
<line x1="300.9" y1="213.20" x2="298.29999999999995" y2="213.20"/>
<line x1="41.8" y1="190.54" x2="44.4" y2="190.54"/>
<line x1="300.9" y1="190.54" x2="298.29999999999995" y2="190.54"/>
<line x1="41.8" y1="167.89" x2="44.4" y2="167.89"/>
<line x1="300.9" y1="167.89" x2="298.29999999999995" y2="167.89"/>
<line x1="41.8" y1="145.23" x2="44.4" y2="145.23"/>
<line x1="300.9" y1="145.23" x2="298.29999999999995" y2="145.23"/>
<line x1="41.8" y1="122.58" x2="44.4" y2="122.58"/>
<line x1="300.9" y1="122.58" x2="298.29999999999995" y2="122.58"/>
<line x1="41.8" y1="99.92" x2="44.4" y2="99.92"/>
<line x1="300.9" y1="99.92" x2="298.29999999999995" y2="99.92"/>
<line x1="41.8" y1="77.27" x2="44.4" y2="77.27"/>
<line x1="300.9" y1="77.27" x2="298.29999999999995" y2="77.27"/>
<line x1="41.8" y1="54.61" x2="44.4" y2="54.61"/>
<line x1="300.9" y1="54.61" x2="298.29999999999995" y2="54.61"/>
<line x1="41.8" y1="31.96" x2="44.4" y2="31.96"/>
<line x1="300.9" y1="31.96" x2="298.29999999999995" y2="31.96"/>
<line x1="41.8" y1="9.30" x2="44.4" y2="9.30"/>
<line x1="300.9" y1="9.30" x2="298.29999999999995" y2="9.30"/>
<rect x="41.8" y="9.3" width="259.10" height="203.90" fill="none"/>
<line x1="34.20" y1="502.2" x2="34.20" y2="499.59999999999997"/>
<line x1="34.20" y1="287.2" x2="34.20" y2="289.8"/>
<line x1="64.49" y1="502.2" x2="64.49" y2="499.59999999999997"/>
<line x1="64.49" y1="287.2" x2="64.49" y2="289.8"/>
<line x1="94.78" y1="502.2" x2="94.78" y2="499.59999999999997"/>
<line x1="94.78" y1="287.2" x2="94.78" y2="289.8"/>
<line x1="125.07" y1="502.2" x2="125.07" y2="499.59999999999997"/>
<line x1="125.07" y1="287.2" x2="125.07" y2="289.8"/>
<line x1="155.36" y1="502.2" x2="155.36" y2="499.59999999999997"/>
<line x1="155.36" y1="287.2" x2="155.36" y2="289.8"/>
<line x1="185.64" y1="502.2" x2="185.64" y2="499.59999999999997"/>
<line x1="185.64" y1="287.2" x2="185.64" y2="289.8"/>
<line x1="215.93" y1="502.2" x2="215.93" y2="499.59999999999997"/>
<line x1="215.93" y1="287.2" x2="215.93" y2="289.8"/>
<line x1="246.22" y1="502.2" x2="246.22" y2="499.59999999999997"/>
<line x1="246.22" y1="287.2" x2="246.22" y2="289.8"/>
<line x1="276.51" y1="502.2" x2="276.51" y2="499.59999999999997"/>
<line x1="276.51" y1="287.2" x2="276.51" y2="289.8"/>
<line x1="306.80" y1="502.2" x2="306.80" y2="499.59999999999997"/>
<line x1="306.80" y1="287.2" x2="306.80" y2="289.8"/>
<line x1="34.2" y1="502.20" x2="36.800000000000004" y2="502.20"/>
<line x1="306.8" y1="502.20" x2="304.2" y2="502.20"/>
<line x1="34.2" y1="480.70" x2="36.800000000000004" y2="480.70"/>
<line x1="306.8" y1="480.70" x2="304.2" y2="480.70"/>
<line x1="34.2" y1="459.20" x2="36.800000000000004" y2="459.20"/>
<line x1="306.8" y1="459.20" x2="304.2" y2="459.20"/>
<line x1="34.2" y1="437.70" x2="36.800000000000004" y2="437.70"/>
<line x1="306.8" y1="437.70" x2="304.2" y2="437.70"/>
<line x1="34.2" y1="416.20" x2="36.800000000000004" y2="416.20"/>
<line x1="306.8" y1="416.20" x2="304.2" y2="416.20"/>
<line x1="34.2" y1="394.70" x2="36.800000000000004" y2="394.70"/>
<line x1="306.8" y1="394.70" x2="304.2" y2="394.70"/>
<line x1="34.2" y1="373.20" x2="36.800000000000004" y2="373.20"/>
<line x1="306.8" y1="373.20" x2="304.2" y2="373.20"/>
<line x1="34.2" y1="351.70" x2="36.800000000000004" y2="351.70"/>
<line x1="306.8" y1="351.70" x2="304.2" y2="351.70"/>
<line x1="34.2" y1="330.20" x2="36.800000000000004" y2="330.20"/>
<line x1="306.8" y1="330.20" x2="304.2" y2="330.20"/>
<line x1="34.2" y1="308.70" x2="36.800000000000004" y2="308.70"/>
<line x1="306.8" y1="308.70" x2="304.2" y2="308.70"/>
<line x1="34.2" y1="287.20" x2="36.800000000000004" y2="287.20"/>
<line x1="306.8" y1="287.20" x2="304.2" y2="287.20"/>
<rect x="34.2" y="287.2" width="272.60" height="215.00" fill="none"/>
</g>
<g class="t" font-size="8.3">
<text x="41.80" y="226.3" text-anchor="middle">350</text>
<text x="70.59" y="226.3" text-anchor="middle">400</text>
<text x="99.38" y="226.3" text-anchor="middle">450</text>
<text x="128.17" y="226.3" text-anchor="middle">500</text>
<text x="156.96" y="226.3" text-anchor="middle">550</text>
<text x="185.74" y="226.3" text-anchor="middle">600</text>
<text x="214.53" y="226.3" text-anchor="middle">650</text>
<text x="243.32" y="226.3" text-anchor="middle">700</text>
<text x="272.11" y="226.3" text-anchor="middle">750</text>
<text x="300.90" y="226.3" text-anchor="middle">800</text>
</g><g class="t" font-size="7.8">
<text x="38.4" y="216.80" text-anchor="end">0</text>
<text x="38.4" y="194.14" text-anchor="end">0.002</text>
<text x="38.4" y="171.49" text-anchor="end">0.004</text>
<text x="38.4" y="148.83" text-anchor="end">0.006</text>
<text x="38.4" y="126.18" text-anchor="end">0.008</text>
<text x="38.4" y="103.52" text-anchor="end">0.01</text>
<text x="38.4" y="80.87" text-anchor="end">0.012</text>
<text x="38.4" y="58.21" text-anchor="end">0.014</text>
<text x="38.4" y="35.56" text-anchor="end">0.016</text>
<text x="38.4" y="12.90" text-anchor="end">0.018</text>
</g>
<text class="t" font-size="9" x="170.9" y="237.5" text-anchor="middle">Wavelength/nm</text>
<text class="t" font-size="9" transform="translate(14.6,111.2) rotate(-90)" text-anchor="middle">BRDF/sr<tspan font-size="6" dy="-3.6">-1</tspan></text>
<text class="c" font-size="10" x="158.3" y="253.6">(a)</text>
<g class="t" font-size="8.4">
<text x="34.20" y="514.5" text-anchor="middle">350</text>
<text x="64.49" y="514.5" text-anchor="middle">400</text>
<text x="94.78" y="514.5" text-anchor="middle">450</text>
<text x="125.07" y="514.5" text-anchor="middle">500</text>
<text x="155.36" y="514.5" text-anchor="middle">550</text>
<text x="185.64" y="514.5" text-anchor="middle">600</text>
<text x="215.93" y="514.5" text-anchor="middle">650</text>
<text x="246.22" y="514.5" text-anchor="middle">700</text>
<text x="276.51" y="514.5" text-anchor="middle">750</text>
<text x="306.80" y="514.5" text-anchor="middle">800</text>
</g><g class="t" font-size="8.7">
<text x="30.3" y="505.70" text-anchor="end">0</text>
<text x="30.3" y="484.20" text-anchor="end">0.2</text>
<text x="30.3" y="462.70" text-anchor="end">0.4</text>
<text x="30.3" y="441.20" text-anchor="end">0.6</text>
<text x="30.3" y="419.70" text-anchor="end">0.8</text>
<text x="30.3" y="398.20" text-anchor="end">1</text>
<text x="30.3" y="376.70" text-anchor="end">1.2</text>
<text x="30.3" y="355.20" text-anchor="end">1.4</text>
<text x="30.3" y="333.70" text-anchor="end">1.6</text>
<text x="30.3" y="312.20" text-anchor="end">1.8</text>
<text x="30.3" y="290.70" text-anchor="end">2</text>
</g>
<text class="t" font-size="9.7" x="170.2" y="527.3" text-anchor="middle">Wavelength/nm</text>
<text class="t" font-size="9.7" transform="translate(13.9,394.5) rotate(-90)" text-anchor="middle">BRDF/sr<tspan font-size="6.4" dy="-3.9">-1</tspan></text>
<text class="c" font-size="10" x="157.8" y="544">(b)</text>
</svg></body></html>
